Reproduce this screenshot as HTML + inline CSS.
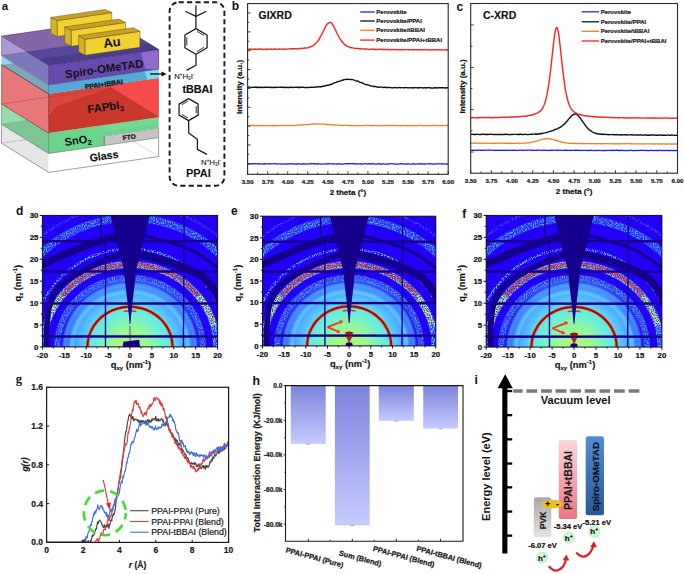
<!DOCTYPE html>
<html><head><meta charset="utf-8"><style>html,body{margin:0;padding:0;background:#fff;width:685px;height:574px;overflow:hidden}svg{display:block}</style></head>
<body><svg width="685" height="574" viewBox="0 0 685 574"><polygon points="1.50,124.30 48.60,153.50 48.60,172.40 1.50,143.20" fill="#e6e6e6" stroke="none" stroke-width="0" fill-opacity="1" />
<polygon points="48.60,153.50 158.60,137.70 158.60,156.60 48.60,172.40" fill="#ffffff" stroke="none" stroke-width="0" fill-opacity="1" />
<polyline points="1.50,143.20 48.60,172.40 158.60,156.60 158.60,137.70" fill="none" stroke="#555" stroke-width="0.55" stroke-linejoin="round" />
<polyline points="1.50,124.30 1.50,143.20" fill="none" stroke="#555" stroke-width="0.5" stroke-linejoin="round" />
<polyline points="1.50,143.20 111.50,127.40" fill="none" stroke="#8a8a8a" stroke-width="0.4" stroke-linejoin="round" />
<polyline points="111.50,127.40 158.60,156.60" fill="none" stroke="#9a9a9a" stroke-width="0.35" stroke-linejoin="round" />
<polygon points="104.15,135.82 158.60,128.00 158.60,137.70 104.15,145.52" fill="#c4c4c4" stroke="#555" stroke-width="0.45" fill-opacity="1" />
<polygon points="104.15,135.82 158.60,128.00 144.47,119.24 100.47,125.56" fill="#d4d4d4" stroke="none" stroke-width="0" fill-opacity="1" />
<polygon points="1.50,103.90 28.22,120.46 1.50,124.30" fill="#96dcac" stroke="none" stroke-width="0" fill-opacity="1" />
<polygon points="1.50,124.30 28.22,120.46 48.60,133.10 48.60,153.50" fill="#7cc696" stroke="none" stroke-width="0" fill-opacity="1" />
<polygon points="48.60,133.10 158.60,117.30 158.60,128.00 104.15,135.82 104.15,145.52 48.60,153.50" fill="#6ad48c" stroke="none" stroke-width="0" fill-opacity="1" />
<polygon points="104.15,125.12 158.60,117.30 158.60,124.00 104.15,131.82" fill="#7cdc9c" stroke="none" stroke-width="0" fill-opacity="0.6" />
<polyline points="1.50,103.90 48.60,133.10 48.60,153.50 1.50,124.30 1.50,103.90" fill="none" stroke="#3a5a44" stroke-width="0.45" stroke-linejoin="round" />
<polyline points="48.60,153.50 104.15,145.52 104.15,135.82" fill="none" stroke="#3a5a44" stroke-width="0.45" stroke-linejoin="round" />
<polyline points="1.50,124.30 111.50,108.50" fill="none" stroke="#4a8a5a" stroke-width="0.35" stroke-linejoin="round" />
<polygon points="1.50,64.70 48.60,93.90 48.60,133.10 1.50,103.90" fill="#e87878" stroke="none" stroke-width="0" fill-opacity="1" />
<polygon points="48.60,93.90 158.60,78.10 158.60,117.30 48.60,133.10" fill="#c9372d" stroke="none" stroke-width="0" fill-opacity="1" />
<polygon points="48.60,93.90 111.30,84.90 111.50,88.10 57.05,106.62 48.60,117.00" fill="#da453c" stroke="none" stroke-width="0" fill-opacity="1" />
<polygon points="111.30,84.90 158.60,78.10 158.60,117.30 111.50,88.10" fill="#f54b4b" stroke="none" stroke-width="0" fill-opacity="1" />
<polyline points="48.60,117.00 57.05,106.62 111.50,88.10 158.60,117.30" fill="none" stroke="#a8342c" stroke-width="0.35" stroke-linejoin="round" />
<polyline points="1.50,103.90 111.50,88.10" fill="none" stroke="#9a3a34" stroke-width="0.35" stroke-linejoin="round" />
<polyline points="111.50,88.10 158.60,117.30" fill="none" stroke="#a83a34" stroke-width="0.35" stroke-linejoin="round" />
<polyline points="1.50,64.70 48.60,93.90 48.60,133.10 1.50,103.90 1.50,64.70" fill="none" stroke="#4a2a2a" stroke-width="0.45" stroke-linejoin="round" />
<polygon points="1.50,55.60 13.42,62.99 1.50,64.70" fill="#8ad6e6" stroke="none" stroke-width="0" fill-opacity="1" />
<polygon points="1.50,64.70 13.42,62.99 48.60,84.80 48.60,93.90" fill="#7ea5b8" stroke="none" stroke-width="0" fill-opacity="1" />
<polygon points="48.60,84.80 158.60,69.00 158.60,78.10 48.60,93.90" fill="#58a8d6" stroke="none" stroke-width="0" fill-opacity="1" />
<polygon points="144.30,71.05 158.60,69.00 158.60,78.10 147.60,79.68" fill="#7adcf0" stroke="none" stroke-width="0" fill-opacity="1" />
<polyline points="1.50,55.60 48.60,84.80 48.60,93.90 1.50,64.70" fill="none" stroke="#2a3a4a" stroke-width="0.45" stroke-linejoin="round" />
<polygon points="1.50,36.10 27.04,51.93 1.50,55.60" fill="#ae98d4" stroke="none" stroke-width="0" fill-opacity="1" />
<polygon points="1.50,55.60 27.04,51.93 48.60,65.30 48.60,84.80" fill="#7b78bb" stroke="none" stroke-width="0" fill-opacity="1" />
<polygon points="48.60,65.30 158.60,49.50 158.60,69.00 48.60,84.80" fill="#6849ae" stroke="none" stroke-width="0" fill-opacity="1" />
<polygon points="141.00,52.03 158.60,49.50 158.60,69.00 145.40,68.90" fill="#9a72d2" stroke="none" stroke-width="0" fill-opacity="0.85" />
<polygon points="1.50,36.10 48.60,65.30 158.60,49.50 111.50,20.30" fill="#8466a8" stroke="none" stroke-width="0" fill-opacity="1" />
<polygon points="27.04,51.93 38.95,59.32 148.95,43.52 137.04,36.13" fill="#55479b" stroke="none" stroke-width="0" fill-opacity="1" />
<polygon points="38.95,59.32 48.60,65.30 158.60,49.50 148.95,43.52" fill="#4b3d8d" stroke="none" stroke-width="0" fill-opacity="1" />
<polygon points="137.04,36.13 148.95,43.52 158.60,49.50 144.60,51.50" fill="#5e4aa6" stroke="none" stroke-width="0" fill-opacity="0.0" />
<polyline points="1.50,36.10 48.60,65.30 158.60,49.50 111.50,20.30 1.50,36.10" fill="none" stroke="#2a2250" stroke-width="0.45" stroke-linejoin="round" />
<polyline points="48.60,65.30 48.60,84.80 158.60,69.00 158.60,49.50" fill="none" stroke="#2a2250" stroke-width="0.45" stroke-linejoin="round" />
<polyline points="1.50,36.10 1.50,55.60" fill="none" stroke="#3a3060" stroke-width="0.4" stroke-linejoin="round" />
<polyline points="1.50,55.60 27.04,51.93" fill="none" stroke="#3a3060" stroke-width="0.35" stroke-linejoin="round" />
<polyline points="27.04,51.93 137.04,36.13" fill="none" stroke="#3a3068" stroke-width="0.35" stroke-linejoin="round" />
<polyline points="38.95,59.32 148.95,43.52" fill="none" stroke="#3a3068" stroke-width="0.3" stroke-linejoin="round" />
<polyline points="1.50,64.70 48.60,93.90" fill="none" stroke="#2a3a4a" stroke-width="0.4" stroke-linejoin="round" />
<polygon points="50.80,17.40 57.40,20.60 57.40,36.60 50.80,33.40" fill="#d6b12a" stroke="#5a4a10" stroke-width="0.45" fill-opacity="1" />
<polygon points="57.40,20.60 111.80,12.60 111.80,28.60 57.40,36.60" fill="#f0d232" stroke="#5a4a10" stroke-width="0.45" fill-opacity="1" />
<polygon points="50.80,17.40 105.20,9.40 111.80,12.60 57.40,20.60" fill="#c9a024" stroke="#5a4a10" stroke-width="0.45" fill-opacity="1" />
<polygon points="64.70,26.90 71.30,30.30 71.30,46.30 64.70,42.90" fill="#d6b12a" stroke="#5a4a10" stroke-width="0.45" fill-opacity="1" />
<polygon points="71.30,30.30 125.50,22.50 125.50,38.50 71.30,46.30" fill="#f0d232" stroke="#5a4a10" stroke-width="0.45" fill-opacity="1" />
<polygon points="64.70,26.90 118.90,19.10 125.50,22.50 71.30,30.30" fill="#c9a024" stroke="#5a4a10" stroke-width="0.45" fill-opacity="1" />
<polygon points="78.60,35.70 85.10,39.30 85.10,55.30 78.60,51.70" fill="#d6b12a" stroke="#5a4a10" stroke-width="0.45" fill-opacity="1" />
<polygon points="85.10,39.30 139.90,31.30 139.90,47.30 85.10,55.30" fill="#f0d232" stroke="#5a4a10" stroke-width="0.45" fill-opacity="1" />
<polygon points="78.60,35.70 133.40,27.70 139.90,31.30 85.10,39.30" fill="#c9a024" stroke="#5a4a10" stroke-width="0.45" fill-opacity="1" />
<text x="112.60" y="46.80" font-family="Liberation Sans" font-size="13" font-weight="bold" font-style="normal" text-anchor="middle" fill="#111" transform="rotate(-8.17385071382385 112.6 46.8)" >Au</text>
<text x="104.80" y="72.60" font-family="Liberation Sans" font-size="11.2" font-weight="bold" font-style="normal" text-anchor="middle" fill="#111" transform="rotate(-8.17385071382385 104.8 72.6)" >Spiro-OMeTAD</text>
<text x="104.20" y="86.60" font-family="Liberation Sans" font-size="6.8" font-weight="bold" font-style="normal" text-anchor="middle" fill="#111" stroke="#111" stroke-width="0.22" transform="rotate(-8.17385071382385 104.2 86.6)" >PPAI+tBBAI</text>
<text x="106.00" y="110.80" font-family="Liberation Sans" font-size="11.3" font-weight="bold" font-style="normal" text-anchor="middle" fill="#111" transform="rotate(-8.17385071382385 106.0 110.8)" >FAPbI<tspan font-size="7.5" dy="2.6">3</tspan></text>
<text x="78.60" y="144.00" font-family="Liberation Sans" font-size="11" font-weight="bold" font-style="normal" text-anchor="middle" fill="#111" transform="rotate(-8.17385071382385 78.6 144.0)" >SnO<tspan font-size="7.5" dy="2.6">2</tspan></text>
<text x="129.60" y="139.40" font-family="Liberation Sans" font-size="6.6" font-weight="bold" font-style="normal" text-anchor="middle" fill="#111" stroke="#111" stroke-width="0.22" transform="rotate(-8.17385071382385 129.6 139.4)" >FTO</text>
<text x="104.50" y="159.60" font-family="Liberation Sans" font-size="10.6" font-weight="bold" font-style="normal" text-anchor="middle" fill="#111" stroke="#111" stroke-width="0.15" transform="rotate(-8.17385071382385 104.5 159.6)" >Glass</text>
<text x="1.80" y="9.50" font-family="Liberation Sans" font-size="11.6" font-weight="bold" font-style="normal" text-anchor="start" fill="#111" >a</text>
<line x1="150.00" y1="74.00" x2="162.50" y2="74.00" stroke="#000" stroke-width="1.2" />
<polygon points="166.50,74.00 161.50,71.60 161.50,76.40" fill="#000" stroke="none" stroke-width="0" fill-opacity="1" />
<rect x="169.6" y="2.2" width="54.8" height="183.6" rx="9" ry="9" fill="none" stroke="#1a1a1a" stroke-width="1.9" stroke-dasharray="5.2 3.2"/>
<polygon points="196.00,28.60 207.09,35.00 207.09,47.80 196.00,54.20 184.91,47.80 184.91,35.00" fill="none" stroke="#1a1a1a" stroke-width="1.25" stroke-linejoin="round"/>
<line x1="197.05" y1="31.40" x2="204.14" y2="35.49" stroke="#1a1a1a" stroke-width="0.9" />
<line x1="204.14" y1="47.31" x2="197.05" y2="51.40" stroke="#1a1a1a" stroke-width="0.9" />
<line x1="186.81" y1="45.50" x2="186.81" y2="37.30" stroke="#1a1a1a" stroke-width="0.9" />
<polyline points="185.30,11.30 195.90,16.40 206.30,11.30" fill="none" stroke="#1a1a1a" stroke-width="1.25" stroke-linejoin="round" />
<line x1="195.90" y1="5.20" x2="195.90" y2="28.60" stroke="#1a1a1a" stroke-width="1.25" />
<polyline points="196.00,54.20 196.00,65.20 186.50,70.40" fill="none" stroke="#1a1a1a" stroke-width="1.25" stroke-linejoin="round" />
<text x="174.20" y="78.50" font-family="Liberation Sans" font-size="7.8" font-weight="normal" font-style="normal" text-anchor="start" fill="#111" stroke="#111" stroke-width="0.1" >N<tspan font-size="4.5" dy="-2.6">+</tspan><tspan dy="2.6">H</tspan><tspan font-size="4.5" dy="1.6">3</tspan><tspan dy="-1.6">I</tspan><tspan font-size="4.5" dy="-2.6">-</tspan></text>
<text x="197.40" y="92.80" font-family="Liberation Sans" font-size="10.8" font-weight="bold" font-style="normal" text-anchor="middle" fill="#111" stroke="#111" stroke-width="0.15" >tBBAI</text>
<polygon points="188.60,98.60 198.13,104.10 198.13,115.10 188.60,120.60 179.07,115.10 179.07,104.10" fill="none" stroke="#1a1a1a" stroke-width="1.25" stroke-linejoin="round"/>
<line x1="196.23" y1="106.08" x2="196.23" y2="113.12" stroke="#1a1a1a" stroke-width="0.9" />
<line x1="187.84" y1="117.96" x2="181.74" y2="114.44" stroke="#1a1a1a" stroke-width="0.9" />
<line x1="181.74" y1="104.76" x2="187.84" y2="101.24" stroke="#1a1a1a" stroke-width="0.9" />
<polyline points="188.60,120.60 188.80,133.10 197.40,139.40 197.40,149.40 207.00,154.40" fill="none" stroke="#1a1a1a" stroke-width="1.25" stroke-linejoin="round" />
<text x="201.00" y="164.50" font-family="Liberation Sans" font-size="7.8" font-weight="normal" font-style="normal" text-anchor="start" fill="#111" stroke="#111" stroke-width="0.1" >N<tspan font-size="4.5" dy="-2.6">+</tspan><tspan dy="2.6">H</tspan><tspan font-size="4.5" dy="1.6">3</tspan><tspan dy="-1.6">I</tspan><tspan font-size="4.5" dy="-2.6">-</tspan></text>
<text x="198.40" y="177.40" font-family="Liberation Sans" font-size="11" font-weight="bold" font-style="normal" text-anchor="middle" fill="#111" >PPAI</text>
<polyline points="247.60,163.81 248.40,163.73 249.20,163.98 250.01,163.69 250.81,163.92 251.61,163.83 252.41,163.68 253.22,163.90 254.02,163.67 254.82,163.87 255.62,163.68 256.43,163.70 257.23,163.86 258.03,164.06 258.83,163.71 259.64,163.76 260.44,163.96 261.24,164.12 262.04,163.94 262.85,163.85 263.65,164.14 264.45,163.67 265.25,164.08 266.06,163.79 266.86,163.72 267.66,163.71 268.46,163.80 269.26,164.06 270.07,163.74 270.87,163.94 271.67,163.97 272.47,163.84 273.28,163.92 274.08,163.68 274.88,163.68 275.68,163.75 276.49,163.99 277.29,163.86 278.09,163.81 278.89,163.94 279.70,163.88 280.50,163.80 281.30,164.05 282.10,164.00 282.91,163.77 283.71,163.94 284.51,163.91 285.31,164.09 286.12,164.01 286.92,163.79 287.72,164.14 288.52,163.71 289.32,163.86 290.13,164.03 290.93,163.73 291.73,163.89 292.53,163.67 293.34,163.98 294.14,164.03 294.94,163.94 295.74,164.09 296.55,163.81 297.35,164.00 298.15,163.95 298.95,163.94 299.76,163.88 300.56,164.07 301.36,164.12 302.16,163.89 302.97,163.98 303.77,163.68 304.57,164.00 305.37,163.97 306.18,164.15 306.98,164.06 307.78,163.79 308.58,163.84 309.38,163.98 310.19,163.66 310.99,163.88 311.79,163.73 312.59,163.71 313.40,163.68 314.20,164.03 315.00,163.71 315.80,163.77 316.61,163.85 317.41,164.09 318.21,163.69 319.01,163.87 319.82,163.92 320.62,164.09 321.42,164.06 322.22,164.08 323.03,163.79 323.83,163.86 324.63,163.83 325.43,164.09 326.24,164.13 327.04,163.73 327.84,163.74 328.64,163.77 329.44,163.77 330.25,163.89 331.05,163.94 331.85,163.78 332.65,163.65 333.46,163.86 334.26,163.83 335.06,163.93 335.86,164.13 336.67,164.00 337.47,163.91 338.27,163.96 339.07,163.99 339.88,163.68 340.68,164.10 341.48,164.04 342.28,164.09 343.09,164.05 343.89,163.85 344.69,163.85 345.49,163.70 346.30,163.97 347.10,163.68 347.90,163.68 348.70,163.75 349.50,163.73 350.31,163.82 351.11,163.68 351.91,163.65 352.71,163.73 353.52,163.70 354.32,163.83 355.12,163.66 355.92,164.09 356.73,163.96 357.53,163.72 358.33,163.78 359.13,163.82 359.94,163.83 360.74,163.71 361.54,164.07 362.34,164.15 363.15,163.88 363.95,163.89 364.75,163.69 365.55,163.70 366.36,163.82 367.16,163.78 367.96,164.06 368.76,163.73 369.56,163.66 370.37,164.13 371.17,163.91 371.97,163.72 372.77,163.92 373.58,163.66 374.38,163.91 375.18,164.14 375.98,164.08 376.79,164.00 377.59,163.78 378.39,163.83 379.19,163.73 380.00,164.04 380.80,163.92 381.60,164.04 382.40,163.81 383.21,163.76 384.01,164.06 384.81,164.14 385.61,164.08 386.42,164.05 387.22,164.06 388.02,164.02 388.82,163.76 389.62,163.91 390.43,163.83 391.23,163.66 392.03,163.66 392.83,163.79 393.64,163.78 394.44,164.00 395.24,164.13 396.04,163.87 396.85,164.12 397.65,164.14 398.45,164.13 399.25,163.83 400.06,163.76 400.86,163.76 401.66,163.75 402.46,163.75 403.27,163.96 404.07,164.10 404.87,164.07 405.67,163.89 406.48,163.98 407.28,164.05 408.08,163.69 408.88,163.98 409.68,164.10 410.49,164.04 411.29,164.03 412.09,163.89 412.89,163.74 413.70,164.04 414.50,163.82 415.30,164.05 416.10,164.14 416.91,163.85 417.71,163.85 418.51,164.12 419.31,164.01 420.12,163.74 420.92,163.71 421.72,163.73 422.52,164.10 423.33,164.05 424.13,163.72 424.93,164.06 425.73,164.14 426.54,163.98 427.34,163.83 428.14,163.92 428.94,163.72 429.74,163.66 430.55,164.14 431.35,163.97 432.15,163.91 432.95,164.12 433.76,163.87 434.56,164.09 435.36,164.06 436.16,163.76 436.97,163.78 437.77,163.80 438.57,163.77 439.37,163.94 440.18,163.78 440.98,163.86 441.78,163.72 442.58,164.11 443.39,163.83 444.19,163.88 444.99,163.94 445.79,164.10 446.60,163.86 447.40,164.11 448.20,163.90" fill="none" stroke="#2020ff" stroke-width="1.3" stroke-linejoin="round" />
<polyline points="247.60,125.61 248.40,125.60 249.20,125.40 250.01,125.57 250.81,125.47 251.61,125.39 252.41,125.71 253.22,125.46 254.02,125.58 254.82,125.68 255.62,125.61 256.43,125.52 257.23,125.60 258.03,125.61 258.83,125.71 259.64,125.43 260.44,125.62 261.24,125.49 262.04,125.50 262.85,125.70 263.65,125.59 264.45,125.61 265.25,125.69 266.06,125.75 266.86,125.57 267.66,125.63 268.46,125.59 269.26,125.59 270.07,125.66 270.87,125.57 271.67,125.60 272.47,125.58 273.28,125.76 274.08,125.66 274.88,125.73 275.68,125.76 276.49,125.48 277.29,125.60 278.09,125.75 278.89,125.71 279.70,125.43 280.50,125.42 281.30,125.54 282.10,125.39 282.91,125.46 283.71,125.38 284.51,125.62 285.31,125.66 286.12,125.69 286.92,125.39 287.72,125.60 288.52,125.57 289.32,125.35 290.13,125.63 290.93,125.65 291.73,125.33 292.53,125.60 293.34,125.35 294.14,125.36 294.94,125.53 295.74,125.44 296.55,125.13 297.35,125.20 298.15,125.20 298.95,125.08 299.76,124.98 300.56,124.97 301.36,125.08 302.16,124.74 302.97,124.90 303.77,124.79 304.57,124.56 305.37,124.63 306.18,124.68 306.98,124.57 307.78,124.33 308.58,124.63 309.38,124.49 310.19,124.51 310.99,124.10 311.79,124.12 312.59,123.98 313.40,124.23 314.20,123.99 315.00,123.90 315.80,124.00 316.61,124.18 317.41,124.13 318.21,123.90 319.01,123.87 319.82,124.19 320.62,124.07 321.42,124.15 322.22,123.94 323.03,123.96 323.83,124.26 324.63,124.21 325.43,124.12 326.24,124.52 327.04,124.46 327.84,124.59 328.64,124.37 329.44,124.74 330.25,124.49 331.05,124.87 331.85,124.77 332.65,124.79 333.46,124.93 334.26,125.14 335.06,124.93 335.86,124.92 336.67,125.13 337.47,125.06 338.27,125.06 339.07,125.12 339.88,125.11 340.68,125.20 341.48,125.28 342.28,125.30 343.09,125.51 343.89,125.35 344.69,125.45 345.49,125.34 346.30,125.42 347.10,125.31 347.90,125.41 348.70,125.33 349.50,125.62 350.31,125.56 351.11,125.42 351.91,125.54 352.71,125.73 353.52,125.40 354.32,125.69 355.12,125.54 355.92,125.57 356.73,125.71 357.53,125.53 358.33,125.58 359.13,125.65 359.94,125.77 360.74,125.52 361.54,125.72 362.34,125.67 363.15,125.64 363.95,125.55 364.75,125.53 365.55,125.41 366.36,125.44 367.16,125.42 367.96,125.68 368.76,125.49 369.56,125.45 370.37,125.42 371.17,125.73 371.97,125.74 372.77,125.66 373.58,125.50 374.38,125.49 375.18,125.51 375.98,125.57 376.79,125.45 377.59,125.57 378.39,125.50 379.19,125.78 380.00,125.78 380.80,125.61 381.60,125.49 382.40,125.78 383.21,125.52 384.01,125.54 384.81,125.39 385.61,125.55 386.42,125.58 387.22,125.59 388.02,125.47 388.82,125.60 389.62,125.40 390.43,125.50 391.23,125.43 392.03,125.55 392.83,125.41 393.64,125.40 394.44,125.52 395.24,125.49 396.04,125.63 396.85,125.61 397.65,125.70 398.45,125.66 399.25,125.68 400.06,125.75 400.86,125.55 401.66,125.53 402.46,125.79 403.27,125.46 404.07,125.69 404.87,125.65 405.67,125.41 406.48,125.73 407.28,125.75 408.08,125.65 408.88,125.69 409.68,125.72 410.49,125.45 411.29,125.61 412.09,125.60 412.89,125.73 413.70,125.72 414.50,125.73 415.30,125.63 416.10,125.75 416.91,125.67 417.71,125.67 418.51,125.49 419.31,125.41 420.12,125.45 420.92,125.54 421.72,125.44 422.52,125.73 423.33,125.62 424.13,125.65 424.93,125.65 425.73,125.67 426.54,125.59 427.34,125.40 428.14,125.72 428.94,125.70 429.74,125.60 430.55,125.61 431.35,125.66 432.15,125.42 432.95,125.69 433.76,125.50 434.56,125.43 435.36,125.50 436.16,125.69 436.97,125.48 437.77,125.69 438.57,125.79 439.37,125.60 440.18,125.55 440.98,125.59 441.78,125.67 442.58,125.70 443.39,125.64 444.19,125.66 444.99,125.43 445.79,125.46 446.60,125.50 447.40,125.70 448.20,125.52" fill="none" stroke="#f08020" stroke-width="1.3" stroke-linejoin="round" />
<polyline points="247.60,87.32 248.40,87.04 249.20,87.07 250.01,87.17 250.81,87.38 251.61,87.39 252.41,87.38 253.22,87.19 254.02,87.31 254.82,87.28 255.62,87.29 256.43,87.11 257.23,87.50 258.03,87.16 258.83,87.55 259.64,87.53 260.44,87.07 261.24,87.30 262.04,87.48 262.85,87.56 263.65,87.30 264.45,87.21 265.25,87.18 266.06,87.55 266.86,87.19 267.66,87.37 268.46,87.16 269.26,87.35 270.07,87.56 270.87,87.16 271.67,87.50 272.47,87.35 273.28,87.54 274.08,87.45 274.88,87.21 275.68,87.55 276.49,87.35 277.29,87.12 278.09,87.11 278.89,87.35 279.70,87.33 280.50,87.26 281.30,87.18 282.10,87.29 282.91,87.27 283.71,87.54 284.51,87.12 285.31,87.49 286.12,87.54 286.92,87.18 287.72,87.59 288.52,87.48 289.32,87.58 290.13,87.27 290.93,87.31 291.73,87.32 292.53,87.63 293.34,87.42 294.14,87.31 294.94,87.34 295.74,87.27 296.55,87.16 297.35,87.18 298.15,87.55 298.95,87.27 299.76,87.60 300.56,87.25 301.36,87.26 302.16,87.38 302.97,87.22 303.77,87.31 304.57,87.59 305.37,87.55 306.18,87.51 306.98,87.41 307.78,87.54 308.58,87.55 309.38,87.34 310.19,87.41 310.99,87.05 311.79,87.37 312.59,87.21 313.40,87.33 314.20,87.24 315.00,87.02 315.80,86.86 316.61,87.24 317.41,86.79 318.21,86.89 319.01,86.75 319.82,86.65 320.62,86.77 321.42,86.78 322.22,86.31 323.03,86.38 323.83,86.06 324.63,86.03 325.43,85.78 326.24,85.49 327.04,85.29 327.84,85.10 328.64,85.23 329.44,84.79 330.25,84.40 331.05,84.48 331.85,84.25 332.65,83.69 333.46,83.24 334.26,82.97 335.06,82.61 335.86,82.43 336.67,82.00 337.47,81.77 338.27,81.47 339.07,81.33 339.88,81.21 340.68,80.86 341.48,80.44 342.28,80.20 343.09,80.04 343.89,79.77 344.69,79.59 345.49,79.31 346.30,79.31 347.10,79.58 347.90,79.12 348.70,79.31 349.50,79.40 350.31,79.58 351.11,79.35 351.91,79.50 352.71,79.65 353.52,79.91 354.32,80.14 355.12,80.63 355.92,80.83 356.73,81.11 357.53,80.97 358.33,81.27 359.13,81.91 359.94,82.32 360.74,82.42 361.54,82.79 362.34,82.81 363.15,83.31 363.95,83.88 364.75,84.12 365.55,84.42 366.36,84.75 367.16,84.65 367.96,84.83 368.76,85.09 369.56,85.49 370.37,85.78 371.17,86.10 371.97,86.17 372.77,86.30 373.58,86.52 374.38,86.50 375.18,86.68 375.98,86.54 376.79,87.01 377.59,86.83 378.39,87.26 379.19,87.20 380.00,87.09 380.80,87.07 381.60,87.18 382.40,87.42 383.21,87.49 384.01,87.24 384.81,87.25 385.61,87.50 386.42,87.56 387.22,87.48 388.02,87.42 388.82,87.62 389.62,87.34 390.43,87.50 391.23,87.59 392.03,87.85 392.83,87.71 393.64,87.83 394.44,87.64 395.24,87.52 396.04,87.54 396.85,87.90 397.65,87.78 398.45,87.58 399.25,87.45 400.06,87.69 400.86,87.78 401.66,87.66 402.46,87.58 403.27,87.79 404.07,87.93 404.87,87.58 405.67,87.49 406.48,87.64 407.28,87.69 408.08,87.82 408.88,87.58 409.68,87.89 410.49,87.86 411.29,87.75 412.09,87.60 412.89,87.99 413.70,87.66 414.50,87.92 415.30,87.63 416.10,87.63 416.91,87.90 417.71,87.67 418.51,88.00 419.31,87.78 420.12,87.63 420.92,87.65 421.72,87.75 422.52,87.87 423.33,88.02 424.13,87.62 424.93,87.75 425.73,87.66 426.54,88.04 427.34,87.63 428.14,87.59 428.94,87.60 429.74,87.77 430.55,88.02 431.35,88.02 432.15,87.94 432.95,88.08 433.76,88.05 434.56,87.75 435.36,87.68 436.16,88.06 436.97,87.97 437.77,87.61 438.57,87.93 439.37,87.79 440.18,87.79 440.98,87.77 441.78,87.70 442.58,87.62 443.39,87.76 444.19,87.80 444.99,88.10 445.79,87.69 446.60,88.11 447.40,87.73 448.20,87.81" fill="none" stroke="#111111" stroke-width="1.4" stroke-linejoin="round" />
<polyline points="247.60,49.42 248.40,49.42 249.20,49.23 250.01,49.03 250.81,49.25 251.61,49.19 252.41,49.47 253.22,49.10 254.02,49.19 254.82,49.45 255.62,49.02 256.43,49.21 257.23,49.41 258.03,49.38 258.83,49.02 259.64,49.01 260.44,49.02 261.24,49.45 262.04,49.12 262.85,49.36 263.65,49.43 264.45,49.15 265.25,49.11 266.06,49.45 266.86,49.28 267.66,49.10 268.46,49.32 269.26,49.12 270.07,49.09 270.87,48.95 271.67,49.32 272.47,49.40 273.28,49.25 274.08,49.40 274.88,48.94 275.68,49.03 276.49,49.15 277.29,49.38 278.09,49.37 278.89,49.08 279.70,49.00 280.50,49.08 281.30,49.10 282.10,49.31 282.91,48.93 283.71,49.23 284.51,49.18 285.31,49.21 286.12,49.17 286.92,49.07 287.72,48.92 288.52,48.90 289.32,48.90 290.13,49.09 290.93,48.72 291.73,48.75 292.53,49.01 293.34,48.73 294.14,48.61 294.94,48.57 295.74,48.80 296.55,48.65 297.35,48.94 298.15,48.85 298.95,48.86 299.76,48.46 300.56,48.32 301.36,48.27 302.16,48.41 302.97,48.45 303.77,48.24 304.57,48.04 305.37,48.04 306.18,48.02 306.98,47.92 307.78,47.80 308.58,47.66 309.38,47.35 310.19,46.82 310.99,46.88 311.79,46.25 312.59,45.96 313.40,45.37 314.20,44.98 315.00,44.04 315.80,43.30 316.61,42.42 317.41,41.39 318.21,40.65 319.01,39.29 319.82,37.83 320.62,36.44 321.42,35.22 322.22,33.39 323.03,31.62 323.83,30.25 324.63,28.55 325.43,27.18 326.24,25.32 327.04,24.28 327.84,23.48 328.64,22.84 329.44,22.57 330.25,22.21 331.05,22.77 331.85,23.47 332.65,24.57 333.46,26.27 334.26,27.55 335.06,29.31 335.86,30.67 336.67,32.57 337.47,33.99 338.27,35.47 339.07,37.22 339.88,38.70 340.68,39.57 341.48,40.99 342.28,42.07 343.09,42.82 343.89,43.73 344.69,44.35 345.49,45.02 346.30,45.60 347.10,46.25 347.90,46.67 348.70,46.79 349.50,46.99 350.31,47.39 351.11,47.78 351.91,47.71 352.71,47.92 353.52,48.00 354.32,48.41 355.12,48.39 355.92,48.23 356.73,48.33 357.53,48.55 358.33,48.69 359.13,48.79 359.94,48.57 360.74,48.65 361.54,48.97 362.34,48.87 363.15,48.84 363.95,48.89 364.75,49.25 365.55,48.96 366.36,49.12 367.16,49.04 367.96,49.10 368.76,49.35 369.56,49.44 370.37,49.15 371.17,49.09 371.97,49.38 372.77,49.14 373.58,49.06 374.38,49.52 375.18,49.30 375.98,49.52 376.79,49.33 377.59,49.58 378.39,49.38 379.19,49.25 380.00,49.19 380.80,49.47 381.60,49.53 382.40,49.68 383.21,49.28 384.01,49.56 384.81,49.44 385.61,49.52 386.42,49.35 387.22,49.43 388.02,49.56 388.82,49.77 389.62,49.37 390.43,49.57 391.23,49.74 392.03,49.83 392.83,49.45 393.64,49.42 394.44,49.84 395.24,49.86 396.04,49.62 396.85,49.42 397.65,49.86 398.45,49.60 399.25,49.86 400.06,49.73 400.86,49.84 401.66,49.51 402.46,49.83 403.27,49.55 404.07,49.65 404.87,49.88 405.67,49.88 406.48,49.56 407.28,49.58 408.08,49.68 408.88,49.74 409.68,49.68 410.49,49.56 411.29,49.62 412.09,49.87 412.89,49.96 413.70,49.54 414.50,49.80 415.30,49.90 416.10,49.55 416.91,49.95 417.71,49.60 418.51,49.84 419.31,49.82 420.12,49.87 420.92,49.71 421.72,49.77 422.52,49.86 423.33,49.78 424.13,49.90 424.93,49.80 425.73,49.80 426.54,49.60 427.34,49.90 428.14,49.84 428.94,49.72 429.74,49.98 430.55,50.00 431.35,49.84 432.15,49.70 432.95,49.85 433.76,49.67 434.56,49.69 435.36,49.84 436.16,49.68 436.97,49.86 437.77,49.89 438.57,49.66 439.37,49.96 440.18,49.69 440.98,50.02 441.78,50.05 442.58,49.92 443.39,49.69 444.19,49.92 444.99,49.86 445.79,50.15 446.60,49.75 447.40,50.11 448.20,50.18" fill="none" stroke="#ff2020" stroke-width="1.4" stroke-linejoin="round" />
<rect x="247.6" y="3.6" width="200.6" height="170.70000000000002" fill="none" stroke="#2a2a2a" stroke-width="1.1"/>
<line x1="247.60" y1="174.30" x2="247.60" y2="171.30" stroke="#2a2a2a" stroke-width="0.9" />
<line x1="257.63" y1="174.30" x2="257.63" y2="172.60" stroke="#2a2a2a" stroke-width="0.9" />
<text x="247.60" y="183.60" font-family="Liberation Sans" font-size="6.1" font-weight="bold" font-style="normal" text-anchor="middle" fill="#222" stroke="#222" stroke-width="0.22" >3.50</text>
<line x1="267.66" y1="174.30" x2="267.66" y2="171.30" stroke="#2a2a2a" stroke-width="0.9" />
<line x1="277.69" y1="174.30" x2="277.69" y2="172.60" stroke="#2a2a2a" stroke-width="0.9" />
<text x="267.66" y="183.60" font-family="Liberation Sans" font-size="6.1" font-weight="bold" font-style="normal" text-anchor="middle" fill="#222" stroke="#222" stroke-width="0.22" >3.75</text>
<line x1="287.72" y1="174.30" x2="287.72" y2="171.30" stroke="#2a2a2a" stroke-width="0.9" />
<line x1="297.75" y1="174.30" x2="297.75" y2="172.60" stroke="#2a2a2a" stroke-width="0.9" />
<text x="287.72" y="183.60" font-family="Liberation Sans" font-size="6.1" font-weight="bold" font-style="normal" text-anchor="middle" fill="#222" stroke="#222" stroke-width="0.22" >4.00</text>
<line x1="307.78" y1="174.30" x2="307.78" y2="171.30" stroke="#2a2a2a" stroke-width="0.9" />
<line x1="317.81" y1="174.30" x2="317.81" y2="172.60" stroke="#2a2a2a" stroke-width="0.9" />
<text x="307.78" y="183.60" font-family="Liberation Sans" font-size="6.1" font-weight="bold" font-style="normal" text-anchor="middle" fill="#222" stroke="#222" stroke-width="0.22" >4.25</text>
<line x1="327.84" y1="174.30" x2="327.84" y2="171.30" stroke="#2a2a2a" stroke-width="0.9" />
<line x1="337.87" y1="174.30" x2="337.87" y2="172.60" stroke="#2a2a2a" stroke-width="0.9" />
<text x="327.84" y="183.60" font-family="Liberation Sans" font-size="6.1" font-weight="bold" font-style="normal" text-anchor="middle" fill="#222" stroke="#222" stroke-width="0.22" >4.50</text>
<line x1="347.90" y1="174.30" x2="347.90" y2="171.30" stroke="#2a2a2a" stroke-width="0.9" />
<line x1="357.93" y1="174.30" x2="357.93" y2="172.60" stroke="#2a2a2a" stroke-width="0.9" />
<text x="347.90" y="183.60" font-family="Liberation Sans" font-size="6.1" font-weight="bold" font-style="normal" text-anchor="middle" fill="#222" stroke="#222" stroke-width="0.22" >4.75</text>
<line x1="367.96" y1="174.30" x2="367.96" y2="171.30" stroke="#2a2a2a" stroke-width="0.9" />
<line x1="377.99" y1="174.30" x2="377.99" y2="172.60" stroke="#2a2a2a" stroke-width="0.9" />
<text x="367.96" y="183.60" font-family="Liberation Sans" font-size="6.1" font-weight="bold" font-style="normal" text-anchor="middle" fill="#222" stroke="#222" stroke-width="0.22" >5.00</text>
<line x1="388.02" y1="174.30" x2="388.02" y2="171.30" stroke="#2a2a2a" stroke-width="0.9" />
<line x1="398.05" y1="174.30" x2="398.05" y2="172.60" stroke="#2a2a2a" stroke-width="0.9" />
<text x="388.02" y="183.60" font-family="Liberation Sans" font-size="6.1" font-weight="bold" font-style="normal" text-anchor="middle" fill="#222" stroke="#222" stroke-width="0.22" >5.25</text>
<line x1="408.08" y1="174.30" x2="408.08" y2="171.30" stroke="#2a2a2a" stroke-width="0.9" />
<line x1="418.11" y1="174.30" x2="418.11" y2="172.60" stroke="#2a2a2a" stroke-width="0.9" />
<text x="408.08" y="183.60" font-family="Liberation Sans" font-size="6.1" font-weight="bold" font-style="normal" text-anchor="middle" fill="#222" stroke="#222" stroke-width="0.22" >5.50</text>
<line x1="428.14" y1="174.30" x2="428.14" y2="171.30" stroke="#2a2a2a" stroke-width="0.9" />
<line x1="438.17" y1="174.30" x2="438.17" y2="172.60" stroke="#2a2a2a" stroke-width="0.9" />
<text x="428.14" y="183.60" font-family="Liberation Sans" font-size="6.1" font-weight="bold" font-style="normal" text-anchor="middle" fill="#222" stroke="#222" stroke-width="0.22" >5.75</text>
<line x1="448.20" y1="174.30" x2="448.20" y2="171.30" stroke="#2a2a2a" stroke-width="0.9" />
<text x="448.20" y="183.60" font-family="Liberation Sans" font-size="6.1" font-weight="bold" font-style="normal" text-anchor="middle" fill="#222" stroke="#222" stroke-width="0.22" >6.00</text>
<line x1="247.60" y1="13.00" x2="250.60" y2="13.00" stroke="#2a2a2a" stroke-width="0.9" />
<line x1="247.60" y1="31.85" x2="250.60" y2="31.85" stroke="#2a2a2a" stroke-width="0.9" />
<line x1="247.60" y1="50.70" x2="250.60" y2="50.70" stroke="#2a2a2a" stroke-width="0.9" />
<line x1="247.60" y1="69.55" x2="250.60" y2="69.55" stroke="#2a2a2a" stroke-width="0.9" />
<line x1="247.60" y1="88.40" x2="250.60" y2="88.40" stroke="#2a2a2a" stroke-width="0.9" />
<line x1="247.60" y1="107.25" x2="250.60" y2="107.25" stroke="#2a2a2a" stroke-width="0.9" />
<line x1="247.60" y1="126.10" x2="250.60" y2="126.10" stroke="#2a2a2a" stroke-width="0.9" />
<line x1="247.60" y1="144.95" x2="250.60" y2="144.95" stroke="#2a2a2a" stroke-width="0.9" />
<line x1="247.60" y1="163.80" x2="250.60" y2="163.80" stroke="#2a2a2a" stroke-width="0.9" />
<line x1="247.60" y1="22.40" x2="249.30" y2="22.40" stroke="#2a2a2a" stroke-width="0.9" />
<line x1="247.60" y1="41.25" x2="249.30" y2="41.25" stroke="#2a2a2a" stroke-width="0.9" />
<line x1="247.60" y1="60.10" x2="249.30" y2="60.10" stroke="#2a2a2a" stroke-width="0.9" />
<line x1="247.60" y1="78.95" x2="249.30" y2="78.95" stroke="#2a2a2a" stroke-width="0.9" />
<line x1="247.60" y1="97.80" x2="249.30" y2="97.80" stroke="#2a2a2a" stroke-width="0.9" />
<line x1="247.60" y1="116.65" x2="249.30" y2="116.65" stroke="#2a2a2a" stroke-width="0.9" />
<line x1="247.60" y1="135.50" x2="249.30" y2="135.50" stroke="#2a2a2a" stroke-width="0.9" />
<line x1="247.60" y1="154.35" x2="249.30" y2="154.35" stroke="#2a2a2a" stroke-width="0.9" />
<text x="347.90" y="194.80" font-family="Liberation Sans" font-size="8" font-weight="bold" font-style="normal" text-anchor="middle" fill="#111" stroke="#111" stroke-width="0.22" >2 theta (°)</text>
<text x="241.60" y="86.95" font-family="Liberation Sans" font-size="8" font-weight="bold" font-style="normal" text-anchor="middle" fill="#111" stroke="#111" stroke-width="0.22" transform="rotate(-90 241.6 86.95)" >Intensity (a.u.)</text>
<text x="231.80" y="9.60" font-family="Liberation Sans" font-size="12" font-weight="bold" font-style="normal" text-anchor="start" fill="#111" >b</text>
<text x="258.50" y="19.20" font-family="Liberation Sans" font-size="10.5" font-weight="bold" font-style="normal" text-anchor="start" fill="#111" stroke="#111" stroke-width="0.15" >GIXRD</text>
<line x1="360.20" y1="12.00" x2="374.70" y2="12.00" stroke="#2020ff" stroke-width="1.3" />
<text x="376.30" y="14.10" font-family="Liberation Sans" font-size="6" font-weight="bold" font-style="normal" text-anchor="start" fill="#222" stroke="#222" stroke-width="0.22" >Perovskite</text>
<line x1="360.20" y1="21.00" x2="374.70" y2="21.00" stroke="#111111" stroke-width="1.3" />
<text x="376.30" y="23.10" font-family="Liberation Sans" font-size="6" font-weight="bold" font-style="normal" text-anchor="start" fill="#222" stroke="#222" stroke-width="0.22" >Perovskite/PPAI</text>
<line x1="360.20" y1="30.30" x2="374.70" y2="30.30" stroke="#f08020" stroke-width="1.3" />
<text x="376.30" y="32.40" font-family="Liberation Sans" font-size="6" font-weight="bold" font-style="normal" text-anchor="start" fill="#222" stroke="#222" stroke-width="0.22" >Perovskite/tBBAI</text>
<line x1="360.20" y1="40.10" x2="374.70" y2="40.10" stroke="#ff2020" stroke-width="1.3" />
<text x="376.30" y="42.20" font-family="Liberation Sans" font-size="6" font-weight="bold" font-style="normal" text-anchor="start" fill="#222" stroke="#222" stroke-width="0.22" >Perovskite/PPAI+tBBAI</text>
<polyline points="470.70,150.29 471.50,150.33 472.30,150.08 473.10,150.40 473.91,150.20 474.71,150.39 475.51,150.37 476.31,150.07 477.11,150.32 477.91,150.38 478.72,150.04 479.52,150.15 480.32,150.32 481.12,150.08 481.92,150.37 482.72,150.13 483.52,150.34 484.33,150.08 485.13,150.22 485.93,150.39 486.73,150.11 487.53,150.13 488.33,150.23 489.14,150.15 489.94,150.04 490.74,150.10 491.54,150.09 492.34,150.41 493.14,150.30 493.94,150.39 494.75,150.10 495.55,150.35 496.35,150.08 497.15,150.25 497.95,150.29 498.75,150.18 499.56,150.39 500.36,150.27 501.16,150.28 501.96,150.40 502.76,150.09 503.56,150.44 504.37,150.30 505.17,150.21 505.97,150.37 506.77,150.16 507.57,150.45 508.37,150.29 509.17,150.20 509.98,150.36 510.78,150.23 511.58,150.13 512.38,150.36 513.18,150.08 513.98,150.39 514.79,150.17 515.59,150.32 516.39,150.46 517.19,150.30 517.99,150.33 518.79,150.19 519.59,150.07 520.40,150.09 521.20,150.13 522.00,150.32 522.80,150.25 523.60,150.28 524.40,150.44 525.21,150.13 526.01,150.17 526.81,150.34 527.61,150.09 528.41,150.08 529.21,150.23 530.01,150.13 530.82,150.23 531.62,150.18 532.42,150.32 533.22,150.33 534.02,150.17 534.82,150.34 535.63,150.28 536.43,150.15 537.23,150.47 538.03,150.20 538.83,150.16 539.63,150.14 540.43,150.36 541.24,150.45 542.04,150.42 542.84,150.27 543.64,150.21 544.44,150.11 545.24,150.37 546.05,150.33 546.85,150.25 547.65,150.37 548.45,150.29 549.25,150.49 550.05,150.41 550.86,150.22 551.66,150.48 552.46,150.14 553.26,150.33 554.06,150.28 554.86,150.22 555.66,150.15 556.47,150.44 557.27,150.13 558.07,150.35 558.87,150.50 559.67,150.19 560.47,150.21 561.28,150.37 562.08,150.34 562.88,150.39 563.68,150.46 564.48,150.21 565.28,150.26 566.08,150.26 566.89,150.16 567.69,150.50 568.49,150.45 569.29,150.43 570.09,150.15 570.89,150.48 571.70,150.44 572.50,150.33 573.30,150.45 574.10,150.33 574.90,150.24 575.70,150.19 576.50,150.25 577.31,150.17 578.11,150.29 578.91,150.46 579.71,150.44 580.51,150.50 581.31,150.44 582.12,150.27 582.92,150.38 583.72,150.34 584.52,150.48 585.32,150.38 586.12,150.27 586.92,150.43 587.73,150.56 588.53,150.26 589.33,150.52 590.13,150.18 590.93,150.28 591.73,150.27 592.54,150.47 593.34,150.56 594.14,150.48 594.94,150.31 595.74,150.53 596.54,150.31 597.34,150.28 598.15,150.55 598.95,150.44 599.75,150.46 600.55,150.45 601.35,150.58 602.15,150.38 602.96,150.53 603.76,150.47 604.56,150.54 605.36,150.37 606.16,150.49 606.96,150.43 607.77,150.32 608.57,150.28 609.37,150.45 610.17,150.23 610.97,150.57 611.77,150.26 612.57,150.22 613.38,150.25 614.18,150.58 614.98,150.35 615.78,150.27 616.58,150.22 617.38,150.23 618.19,150.49 618.99,150.47 619.79,150.49 620.59,150.51 621.39,150.24 622.19,150.46 622.99,150.37 623.80,150.55 624.60,150.55 625.40,150.58 626.20,150.25 627.00,150.57 627.80,150.59 628.61,150.61 629.41,150.27 630.21,150.31 631.01,150.28 631.81,150.25 632.61,150.57 633.41,150.56 634.22,150.49 635.02,150.57 635.82,150.49 636.62,150.36 637.42,150.28 638.22,150.28 639.03,150.55 639.83,150.33 640.63,150.37 641.43,150.42 642.23,150.26 643.03,150.35 643.83,150.36 644.64,150.54 645.44,150.40 646.24,150.38 647.04,150.64 647.84,150.46 648.64,150.60 649.45,150.51 650.25,150.27 651.05,150.43 651.85,150.44 652.65,150.57 653.45,150.40 654.26,150.55 655.06,150.48 655.86,150.35 656.66,150.61 657.46,150.31 658.26,150.60 659.06,150.34 659.87,150.27 660.67,150.36 661.47,150.58 662.27,150.67 663.07,150.28 663.87,150.48 664.68,150.48 665.48,150.60 666.28,150.36 667.08,150.48 667.88,150.42 668.68,150.62 669.48,150.39 670.29,150.67 671.09,150.40 671.89,150.38 672.69,150.57 673.49,150.49 674.29,150.34 675.10,150.55 675.90,150.33 676.70,150.61 677.50,150.58" fill="none" stroke="#2020ff" stroke-width="1.3" stroke-linejoin="round" />
<polyline points="470.70,143.28 471.50,143.23 472.30,143.15 473.10,143.17 473.91,143.17 474.71,143.32 475.51,143.08 476.31,143.33 477.11,143.07 477.91,143.13 478.72,143.15 479.52,143.34 480.32,143.22 481.12,143.19 481.92,143.35 482.72,143.15 483.52,143.22 484.33,143.25 485.13,143.32 485.93,143.32 486.73,143.29 487.53,143.20 488.33,143.20 489.14,143.15 489.94,143.36 490.74,143.31 491.54,143.34 492.34,143.17 493.14,143.25 493.94,143.35 494.75,143.30 495.55,143.16 496.35,143.27 497.15,143.40 497.95,143.20 498.75,143.19 499.56,143.23 500.36,143.35 501.16,143.40 501.96,143.19 502.76,143.19 503.56,143.22 504.37,143.25 505.17,143.31 505.97,143.20 506.77,143.25 507.57,143.21 508.37,143.45 509.17,143.38 509.98,143.19 510.78,143.45 511.58,143.19 512.38,143.28 513.18,143.46 513.98,143.40 514.79,143.38 515.59,143.29 516.39,143.21 517.19,143.34 517.99,143.18 518.79,143.20 519.59,143.24 520.40,143.12 521.20,143.21 522.00,143.30 522.80,143.24 523.60,143.15 524.40,143.15 525.21,143.05 526.01,142.89 526.81,142.96 527.61,142.82 528.41,142.83 529.21,142.77 530.01,142.51 530.82,142.41 531.62,142.32 532.42,142.05 533.22,141.81 534.02,141.77 534.82,141.61 535.63,141.36 536.43,141.11 537.23,140.92 538.03,140.62 538.83,140.37 539.63,140.07 540.43,139.80 541.24,139.67 542.04,139.30 542.84,139.21 543.64,139.15 544.44,138.99 545.24,138.86 546.05,138.67 546.85,138.68 547.65,138.69 548.45,138.77 549.25,138.77 550.05,138.96 550.86,139.17 551.66,139.11 552.46,139.44 553.26,139.68 554.06,139.79 554.86,140.05 555.66,140.44 556.47,140.41 557.27,140.81 558.07,140.94 558.87,141.36 559.67,141.64 560.47,141.73 561.28,141.81 562.08,142.15 562.88,142.31 563.68,142.53 564.48,142.61 565.28,142.78 566.08,142.96 566.89,142.97 567.69,143.03 568.49,143.27 569.29,143.12 570.09,143.32 570.89,143.29 571.70,143.44 572.50,143.29 573.30,143.58 574.10,143.41 574.90,143.35 575.70,143.43 576.50,143.49 577.31,143.38 578.11,143.52 578.91,143.53 579.71,143.62 580.51,143.52 581.31,143.51 582.12,143.50 582.92,143.66 583.72,143.73 584.52,143.61 585.32,143.52 586.12,143.70 586.92,143.58 587.73,143.53 588.53,143.51 589.33,143.71 590.13,143.72 590.93,143.68 591.73,143.63 592.54,143.66 593.34,143.57 594.14,143.79 594.94,143.61 595.74,143.70 596.54,143.76 597.34,143.76 598.15,143.66 598.95,143.61 599.75,143.69 600.55,143.57 601.35,143.79 602.15,143.65 602.96,143.80 603.76,143.63 604.56,143.66 605.36,143.63 606.16,143.69 606.96,143.62 607.77,143.57 608.57,143.78 609.37,143.66 610.17,143.65 610.97,143.67 611.77,143.73 612.57,143.71 613.38,143.78 614.18,143.79 614.98,143.70 615.78,143.88 616.58,143.86 617.38,143.62 618.19,143.86 618.99,143.88 619.79,143.85 620.59,143.66 621.39,143.87 622.19,143.82 622.99,143.63 623.80,143.64 624.60,143.92 625.40,143.84 626.20,143.72 627.00,143.68 627.80,143.69 628.61,143.72 629.41,143.89 630.21,143.76 631.01,143.71 631.81,143.94 632.61,143.91 633.41,143.72 634.22,143.94 635.02,143.86 635.82,143.92 636.62,143.88 637.42,143.96 638.22,143.93 639.03,143.95 639.83,143.76 640.63,143.91 641.43,143.86 642.23,143.93 643.03,143.84 643.83,143.98 644.64,143.88 645.44,143.80 646.24,143.79 647.04,143.77 647.84,143.88 648.64,143.75 649.45,143.88 650.25,143.78 651.05,143.89 651.85,143.89 652.65,143.91 653.45,144.01 654.26,143.76 655.06,144.01 655.86,143.90 656.66,143.93 657.46,143.97 658.26,144.02 659.06,143.89 659.87,143.90 660.67,144.07 661.47,143.81 662.27,143.98 663.07,143.98 663.87,143.80 664.68,143.98 665.48,144.00 666.28,144.08 667.08,143.90 667.88,144.10 668.68,143.96 669.48,143.96 670.29,144.09 671.09,143.83 671.89,144.04 672.69,144.01 673.49,143.93 674.29,144.09 675.10,143.95 675.90,143.98 676.70,144.00 677.50,144.08" fill="none" stroke="#f08020" stroke-width="1.3" stroke-linejoin="round" />
<polyline points="470.70,134.23 471.50,134.33 472.30,134.32 473.10,134.38 473.91,134.49 474.71,134.28 475.51,134.50 476.31,134.33 477.11,134.37 477.91,134.28 478.72,134.38 479.52,134.57 480.32,134.44 481.12,134.50 481.92,134.32 482.72,134.32 483.52,134.31 484.33,134.43 485.13,134.45 485.93,134.51 486.73,134.22 487.53,134.49 488.33,134.56 489.14,134.42 489.94,134.23 490.74,134.33 491.54,134.21 492.34,134.29 493.14,134.59 493.94,134.46 494.75,134.48 495.55,134.54 496.35,134.59 497.15,134.47 497.95,134.47 498.75,134.48 499.56,134.51 500.36,134.47 501.16,134.51 501.96,134.32 502.76,134.50 503.56,134.42 504.37,134.54 505.17,134.28 505.97,134.31 506.77,134.26 507.57,134.55 508.37,134.61 509.17,134.51 509.98,134.39 510.78,134.57 511.58,134.56 512.38,134.47 513.18,134.35 513.98,134.36 514.79,134.41 515.59,134.37 516.39,134.42 517.19,134.50 517.99,134.61 518.79,134.26 519.59,134.47 520.40,134.25 521.20,134.28 522.00,134.56 522.80,134.46 523.60,134.60 524.40,134.40 525.21,134.23 526.01,134.37 526.81,134.45 527.61,134.58 528.41,134.59 529.21,134.38 530.01,134.34 530.82,134.20 531.62,134.40 532.42,134.21 533.22,134.16 534.02,134.08 534.82,134.04 535.63,134.27 536.43,134.00 537.23,134.28 538.03,133.86 538.83,134.10 539.63,133.71 540.43,133.56 541.24,133.72 542.04,133.40 542.84,133.45 543.64,133.06 544.44,132.83 545.24,132.92 546.05,132.68 546.85,132.51 547.65,132.23 548.45,131.72 549.25,131.68 550.05,131.45 550.86,131.09 551.66,131.00 552.46,130.46 553.26,130.46 554.06,130.08 554.86,129.51 555.66,129.21 556.47,129.15 557.27,128.89 558.07,128.24 558.87,127.95 559.67,127.69 560.47,127.00 561.28,126.75 562.08,126.02 562.88,125.21 563.68,124.63 564.48,123.95 565.28,123.06 566.08,122.27 566.89,121.12 567.69,120.41 568.49,119.26 569.29,118.39 570.09,117.44 570.89,116.46 571.70,115.65 572.50,115.13 573.30,114.67 574.10,114.26 574.90,114.03 575.70,113.99 576.50,114.19 577.31,115.05 578.11,115.63 578.91,116.52 579.71,117.29 580.51,118.47 581.31,119.75 582.12,120.87 582.92,121.96 583.72,123.02 584.52,124.21 585.32,125.49 586.12,126.33 586.92,127.43 587.73,128.29 588.53,129.23 589.33,129.94 590.13,130.39 590.93,130.87 591.73,131.49 592.54,132.00 593.34,132.45 594.14,132.88 594.94,133.19 595.74,133.09 596.54,133.61 597.34,133.77 598.15,133.93 598.95,133.94 599.75,133.92 600.55,134.24 601.35,134.29 602.15,134.30 602.96,134.45 603.76,134.27 604.56,134.21 605.36,134.43 606.16,134.57 606.96,134.36 607.77,134.61 608.57,134.71 609.37,134.45 610.17,134.62 610.97,134.67 611.77,134.61 612.57,134.52 613.38,134.56 614.18,134.78 614.98,134.81 615.78,134.69 616.58,134.56 617.38,134.86 618.19,134.86 618.99,134.66 619.79,134.81 620.59,134.95 621.39,134.96 622.19,134.82 622.99,134.82 623.80,134.87 624.60,134.72 625.40,134.74 626.20,134.74 627.00,134.96 627.80,134.83 628.61,134.92 629.41,134.87 630.21,134.92 631.01,134.78 631.81,134.75 632.61,135.14 633.41,134.90 634.22,134.80 635.02,135.02 635.82,135.08 636.62,134.84 637.42,135.02 638.22,134.93 639.03,135.01 639.83,134.81 640.63,134.82 641.43,135.21 642.23,135.17 643.03,135.03 643.83,135.06 644.64,134.95 645.44,135.16 646.24,135.03 647.04,135.24 647.84,135.17 648.64,135.20 649.45,135.26 650.25,134.98 651.05,134.90 651.85,134.97 652.65,134.97 653.45,134.94 654.26,134.93 655.06,135.14 655.86,135.27 656.66,135.11 657.46,135.31 658.26,135.30 659.06,134.97 659.87,135.19 660.67,135.11 661.47,135.00 662.27,135.34 663.07,135.07 663.87,135.20 664.68,135.23 665.48,135.36 666.28,135.25 667.08,135.15 667.88,135.17 668.68,135.06 669.48,135.39 670.29,135.40 671.09,135.10 671.89,135.03 672.69,135.12 673.49,135.17 674.29,135.39 675.10,135.40 675.90,135.37 676.70,135.06 677.50,135.36" fill="none" stroke="#111111" stroke-width="1.4" stroke-linejoin="round" />
<polyline points="470.70,117.81 471.50,117.78 472.30,117.91 473.10,117.53 473.91,117.57 474.71,117.81 475.51,117.87 476.31,117.76 477.11,117.61 477.91,117.72 478.72,117.78 479.52,117.51 480.32,117.60 481.12,117.56 481.92,117.50 482.72,117.64 483.52,117.51 484.33,117.53 485.13,117.48 485.93,117.69 486.73,117.41 487.53,117.69 488.33,117.47 489.14,117.40 489.94,117.74 490.74,117.45 491.54,117.73 492.34,117.69 493.14,117.69 493.94,117.38 494.75,117.49 495.55,117.33 496.35,117.65 497.15,117.60 497.95,117.51 498.75,117.42 499.56,117.36 500.36,117.54 501.16,117.38 501.96,117.42 502.76,117.21 503.56,117.22 504.37,117.14 505.17,117.38 505.97,117.29 506.77,117.10 507.57,117.37 508.37,117.10 509.17,117.13 509.98,117.00 510.78,117.02 511.58,117.21 512.38,116.97 513.18,116.87 513.98,116.96 514.79,116.85 515.59,117.04 516.39,116.68 517.19,116.98 517.99,116.56 518.79,116.84 519.59,116.70 520.40,116.45 521.20,116.49 522.00,116.35 522.80,116.26 523.60,116.16 524.40,116.14 525.21,116.29 526.01,116.20 526.81,116.06 527.61,115.62 528.41,115.57 529.21,115.67 530.01,115.19 530.82,115.30 531.62,114.95 532.42,115.03 533.22,114.44 534.02,114.52 534.82,114.08 535.63,113.71 536.43,113.33 537.23,113.29 538.03,112.74 538.83,112.11 539.63,111.62 540.43,111.11 541.24,109.97 542.04,109.06 542.84,107.60 543.64,106.03 544.44,104.30 545.24,101.88 546.05,98.76 546.85,95.22 547.65,91.09 548.45,86.48 549.25,80.92 550.05,74.65 550.86,67.85 551.66,60.79 552.46,53.37 553.26,46.06 554.06,39.15 554.86,33.27 555.66,29.16 556.47,27.52 557.27,27.90 558.07,30.88 558.87,35.43 559.67,41.99 560.47,48.90 561.28,56.55 562.08,63.95 562.88,70.86 563.68,77.21 564.48,83.48 565.28,88.54 566.08,93.23 566.89,96.85 567.69,100.07 568.49,103.02 569.29,105.04 570.09,106.76 570.89,108.30 571.70,109.58 572.50,110.31 573.30,111.31 574.10,111.93 574.90,112.51 575.70,112.82 576.50,113.46 577.31,113.86 578.11,114.19 578.91,114.25 579.71,114.65 580.51,114.74 581.31,115.10 582.12,115.01 582.92,115.50 583.72,115.69 584.52,115.65 585.32,115.79 586.12,115.92 586.92,116.04 587.73,115.94 588.53,116.42 589.33,116.21 590.13,116.28 590.93,116.33 591.73,116.46 592.54,116.76 593.34,116.51 594.14,116.60 594.94,116.90 595.74,116.75 596.54,116.73 597.34,117.02 598.15,117.05 598.95,117.07 599.75,117.19 600.55,116.99 601.35,117.33 602.15,117.31 602.96,117.07 603.76,117.14 604.56,117.31 605.36,117.35 606.16,117.29 606.96,117.25 607.77,117.39 608.57,117.31 609.37,117.51 610.17,117.64 610.97,117.38 611.77,117.57 612.57,117.66 613.38,117.44 614.18,117.73 614.98,117.79 615.78,117.59 616.58,117.62 617.38,117.80 618.19,117.69 618.99,117.65 619.79,117.88 620.59,117.83 621.39,117.67 622.19,117.64 622.99,117.69 623.80,117.75 624.60,117.98 625.40,117.92 626.20,117.97 627.00,117.94 627.80,117.97 628.61,117.66 629.41,117.85 630.21,118.04 631.01,118.04 631.81,117.77 632.61,117.85 633.41,117.94 634.22,117.84 635.02,117.92 635.82,117.74 636.62,117.90 637.42,117.93 638.22,117.75 639.03,117.80 639.83,118.14 640.63,118.07 641.43,118.14 642.23,118.02 643.03,118.10 643.83,118.14 644.64,118.14 645.44,117.81 646.24,118.06 647.04,117.91 647.84,118.08 648.64,117.93 649.45,118.04 650.25,118.20 651.05,118.08 651.85,117.94 652.65,118.05 653.45,118.02 654.26,118.23 655.06,117.97 655.86,117.98 656.66,118.12 657.46,117.92 658.26,118.11 659.06,118.26 659.87,118.09 660.67,117.99 661.47,118.08 662.27,118.11 663.07,117.96 663.87,117.95 664.68,117.96 665.48,118.03 666.28,118.08 667.08,118.03 667.88,118.02 668.68,117.96 669.48,118.15 670.29,118.27 671.09,118.18 671.89,118.17 672.69,118.20 673.49,118.02 674.29,118.23 675.10,118.14 675.90,118.17 676.70,118.20 677.50,118.15" fill="none" stroke="#ff2020" stroke-width="1.4" stroke-linejoin="round" />
<rect x="470.7" y="3.5" width="206.8" height="169.7" fill="none" stroke="#2a2a2a" stroke-width="1.1"/>
<line x1="470.70" y1="173.20" x2="470.70" y2="170.20" stroke="#2a2a2a" stroke-width="0.9" />
<line x1="481.04" y1="173.20" x2="481.04" y2="171.50" stroke="#2a2a2a" stroke-width="0.9" />
<text x="470.70" y="182.50" font-family="Liberation Sans" font-size="6.1" font-weight="bold" font-style="normal" text-anchor="middle" fill="#222" stroke="#222" stroke-width="0.22" >3.50</text>
<line x1="491.38" y1="173.20" x2="491.38" y2="170.20" stroke="#2a2a2a" stroke-width="0.9" />
<line x1="501.72" y1="173.20" x2="501.72" y2="171.50" stroke="#2a2a2a" stroke-width="0.9" />
<text x="491.38" y="182.50" font-family="Liberation Sans" font-size="6.1" font-weight="bold" font-style="normal" text-anchor="middle" fill="#222" stroke="#222" stroke-width="0.22" >3.75</text>
<line x1="512.06" y1="173.20" x2="512.06" y2="170.20" stroke="#2a2a2a" stroke-width="0.9" />
<line x1="522.40" y1="173.20" x2="522.40" y2="171.50" stroke="#2a2a2a" stroke-width="0.9" />
<text x="512.06" y="182.50" font-family="Liberation Sans" font-size="6.1" font-weight="bold" font-style="normal" text-anchor="middle" fill="#222" stroke="#222" stroke-width="0.22" >4.00</text>
<line x1="532.74" y1="173.20" x2="532.74" y2="170.20" stroke="#2a2a2a" stroke-width="0.9" />
<line x1="543.08" y1="173.20" x2="543.08" y2="171.50" stroke="#2a2a2a" stroke-width="0.9" />
<text x="532.74" y="182.50" font-family="Liberation Sans" font-size="6.1" font-weight="bold" font-style="normal" text-anchor="middle" fill="#222" stroke="#222" stroke-width="0.22" >4.25</text>
<line x1="553.42" y1="173.20" x2="553.42" y2="170.20" stroke="#2a2a2a" stroke-width="0.9" />
<line x1="563.76" y1="173.20" x2="563.76" y2="171.50" stroke="#2a2a2a" stroke-width="0.9" />
<text x="553.42" y="182.50" font-family="Liberation Sans" font-size="6.1" font-weight="bold" font-style="normal" text-anchor="middle" fill="#222" stroke="#222" stroke-width="0.22" >4.50</text>
<line x1="574.10" y1="173.20" x2="574.10" y2="170.20" stroke="#2a2a2a" stroke-width="0.9" />
<line x1="584.44" y1="173.20" x2="584.44" y2="171.50" stroke="#2a2a2a" stroke-width="0.9" />
<text x="574.10" y="182.50" font-family="Liberation Sans" font-size="6.1" font-weight="bold" font-style="normal" text-anchor="middle" fill="#222" stroke="#222" stroke-width="0.22" >4.75</text>
<line x1="594.78" y1="173.20" x2="594.78" y2="170.20" stroke="#2a2a2a" stroke-width="0.9" />
<line x1="605.12" y1="173.20" x2="605.12" y2="171.50" stroke="#2a2a2a" stroke-width="0.9" />
<text x="594.78" y="182.50" font-family="Liberation Sans" font-size="6.1" font-weight="bold" font-style="normal" text-anchor="middle" fill="#222" stroke="#222" stroke-width="0.22" >5.00</text>
<line x1="615.46" y1="173.20" x2="615.46" y2="170.20" stroke="#2a2a2a" stroke-width="0.9" />
<line x1="625.80" y1="173.20" x2="625.80" y2="171.50" stroke="#2a2a2a" stroke-width="0.9" />
<text x="615.46" y="182.50" font-family="Liberation Sans" font-size="6.1" font-weight="bold" font-style="normal" text-anchor="middle" fill="#222" stroke="#222" stroke-width="0.22" >5.25</text>
<line x1="636.14" y1="173.20" x2="636.14" y2="170.20" stroke="#2a2a2a" stroke-width="0.9" />
<line x1="646.48" y1="173.20" x2="646.48" y2="171.50" stroke="#2a2a2a" stroke-width="0.9" />
<text x="636.14" y="182.50" font-family="Liberation Sans" font-size="6.1" font-weight="bold" font-style="normal" text-anchor="middle" fill="#222" stroke="#222" stroke-width="0.22" >5.50</text>
<line x1="656.82" y1="173.20" x2="656.82" y2="170.20" stroke="#2a2a2a" stroke-width="0.9" />
<line x1="667.16" y1="173.20" x2="667.16" y2="171.50" stroke="#2a2a2a" stroke-width="0.9" />
<text x="656.82" y="182.50" font-family="Liberation Sans" font-size="6.1" font-weight="bold" font-style="normal" text-anchor="middle" fill="#222" stroke="#222" stroke-width="0.22" >5.75</text>
<line x1="677.50" y1="173.20" x2="677.50" y2="170.20" stroke="#2a2a2a" stroke-width="0.9" />
<text x="677.50" y="182.50" font-family="Liberation Sans" font-size="6.1" font-weight="bold" font-style="normal" text-anchor="middle" fill="#222" stroke="#222" stroke-width="0.22" >6.00</text>
<line x1="470.70" y1="24.90" x2="473.70" y2="24.90" stroke="#2a2a2a" stroke-width="0.9" />
<line x1="470.70" y1="67.40" x2="473.70" y2="67.40" stroke="#2a2a2a" stroke-width="0.9" />
<line x1="470.70" y1="109.70" x2="473.70" y2="109.70" stroke="#2a2a2a" stroke-width="0.9" />
<line x1="470.70" y1="152.00" x2="473.70" y2="152.00" stroke="#2a2a2a" stroke-width="0.9" />
<line x1="470.70" y1="46.20" x2="472.40" y2="46.20" stroke="#2a2a2a" stroke-width="0.9" />
<line x1="470.70" y1="88.50" x2="472.40" y2="88.50" stroke="#2a2a2a" stroke-width="0.9" />
<line x1="470.70" y1="130.80" x2="472.40" y2="130.80" stroke="#2a2a2a" stroke-width="0.9" />
<text x="574.10" y="193.70" font-family="Liberation Sans" font-size="8" font-weight="bold" font-style="normal" text-anchor="middle" fill="#111" stroke="#111" stroke-width="0.22" >2 theta (°)</text>
<text x="464.70" y="86.35" font-family="Liberation Sans" font-size="8" font-weight="bold" font-style="normal" text-anchor="middle" fill="#111" stroke="#111" stroke-width="0.22" transform="rotate(-90 464.7 86.35)" >Intensity (a.u.)</text>
<text x="456.40" y="10.70" font-family="Liberation Sans" font-size="12" font-weight="bold" font-style="normal" text-anchor="start" fill="#111" >c</text>
<text x="483.00" y="19.30" font-family="Liberation Sans" font-size="10.5" font-weight="bold" font-style="normal" text-anchor="start" fill="#111" stroke="#111" stroke-width="0.15" >C-XRD</text>
<line x1="581.70" y1="11.80" x2="599.10" y2="11.80" stroke="#2020ff" stroke-width="1.3" />
<text x="600.70" y="13.90" font-family="Liberation Sans" font-size="6" font-weight="bold" font-style="normal" text-anchor="start" fill="#222" stroke="#222" stroke-width="0.22" >Perovskite</text>
<line x1="581.70" y1="21.80" x2="599.10" y2="21.80" stroke="#111111" stroke-width="1.3" />
<text x="600.70" y="23.90" font-family="Liberation Sans" font-size="6" font-weight="bold" font-style="normal" text-anchor="start" fill="#222" stroke="#222" stroke-width="0.22" >Perovskite/PPAI</text>
<line x1="581.70" y1="31.30" x2="599.10" y2="31.30" stroke="#f08020" stroke-width="1.3" />
<text x="600.70" y="33.40" font-family="Liberation Sans" font-size="6" font-weight="bold" font-style="normal" text-anchor="start" fill="#222" stroke="#222" stroke-width="0.22" >Perovskite/tBBAI</text>
<line x1="581.70" y1="41.00" x2="599.10" y2="41.00" stroke="#ff2020" stroke-width="1.3" />
<text x="600.70" y="43.10" font-family="Liberation Sans" font-size="6" font-weight="bold" font-style="normal" text-anchor="start" fill="#222" stroke="#222" stroke-width="0.22" >Perovskite/PPAI+tBBAI</text>
<polyline points="46.60,542.40 47.00,542.40 47.40,542.40 47.80,542.40 48.20,542.40 48.60,542.40 49.00,542.40 49.40,542.40 49.80,542.40 50.20,542.40 50.60,542.40 51.00,542.40 51.40,542.40 51.80,542.40 52.20,542.40 52.60,542.40 53.00,542.40 53.40,542.40 53.80,542.40 54.20,542.40 54.60,542.40 55.00,542.40 55.40,542.40 55.80,542.40 56.20,542.40 56.60,542.40 57.00,542.40 57.40,542.40 57.80,542.40 58.20,542.40 58.60,542.40 59.00,542.40 59.40,542.40 59.80,542.40 60.20,542.40 60.60,542.40 61.00,542.40 61.40,542.40 61.80,542.40 62.20,542.40 62.60,542.40 63.00,542.40 63.40,542.40 63.80,542.40 64.20,542.40 64.60,542.40 65.00,542.40 65.40,542.40 65.80,542.40 66.20,542.40 66.60,542.40 67.00,542.40 67.40,542.40 67.80,542.40 68.20,542.40 68.60,542.40 69.00,542.40 69.40,542.40 69.80,542.40 70.20,542.40 70.60,542.40 71.00,542.40 71.40,542.40 71.80,542.40 72.20,542.40 72.60,542.40 73.00,542.40 73.40,542.40 73.80,542.40 74.20,542.40 74.60,542.40 75.00,542.40 75.40,542.40 75.80,542.40 76.20,542.40 76.60,542.40 77.00,542.40 77.40,542.40 77.80,542.40 78.20,542.40 78.60,542.40 79.00,542.40 79.40,542.40 79.80,542.40 80.20,542.40 80.60,542.40 81.00,542.40 81.40,542.40 81.80,542.40 82.20,540.59 82.60,540.31 83.00,540.35 83.40,541.52 83.80,542.36 84.20,540.49 84.60,539.31 85.00,542.05 85.40,540.95 85.80,540.32 86.20,542.40 86.60,542.17 87.00,542.40 87.40,542.20 87.80,542.38 88.20,540.47 88.60,541.53 89.00,542.40 89.40,542.13 89.80,542.40 90.20,542.40 90.60,540.04 91.00,540.93 91.40,539.97 91.80,537.81 92.20,535.18 92.60,536.76 93.00,535.33 93.40,535.10 93.80,535.06 94.20,533.81 94.60,533.50 95.00,530.69 95.40,530.59 95.80,528.61 96.20,529.18 96.60,528.70 97.00,524.85 97.40,522.76 97.80,521.64 98.20,523.62 98.60,521.88 99.00,521.36 99.40,519.97 99.80,520.69 100.20,520.75 100.60,520.86 101.00,522.06 101.40,522.82 101.80,524.66 102.20,524.82 102.60,526.10 103.00,526.61 103.40,527.59 103.80,526.98 104.20,524.59 104.60,526.36 105.00,527.62 105.40,528.01 105.80,526.90 106.20,527.03 106.60,525.13 107.00,526.82 107.40,526.60 107.80,525.40 108.20,524.03 108.60,526.63 109.00,528.40 109.40,524.54 109.80,525.09 110.20,523.23 110.60,520.79 111.00,519.72 111.40,520.58 111.80,520.83 112.20,517.07 112.60,517.11 113.00,514.29 113.40,515.17 113.80,513.45 114.20,514.33 114.60,513.18 115.00,509.45 115.40,508.42 115.80,503.89 116.20,499.60 116.60,498.45 117.00,494.33 117.40,491.83 117.80,490.23 118.20,489.00 118.60,485.32 119.00,481.89 119.40,482.33 119.80,478.99 120.20,478.75 120.60,477.08 121.00,472.94 121.40,470.09 121.80,466.35 122.20,463.09 122.60,459.35 123.00,455.45 123.40,451.86 123.80,449.46 124.20,444.57 124.60,439.99 125.00,437.44 125.40,433.82 125.80,431.32 126.20,431.78 126.60,429.03 127.00,426.78 127.40,422.49 127.80,421.05 128.20,419.94 128.60,416.07 129.00,415.59 129.40,415.52 129.80,413.96 130.20,415.74 130.60,416.10 131.00,417.33 131.40,416.78 131.80,418.16 132.20,419.12 132.60,416.89 133.00,416.26 133.40,418.64 133.80,420.87 134.20,419.12 134.60,419.25 135.00,419.96 135.40,419.28 135.80,419.25 136.20,419.13 136.60,419.40 137.00,420.53 137.40,419.95 137.80,420.10 138.20,421.84 138.60,419.74 139.00,421.06 139.40,422.42 139.80,421.43 140.20,420.73 140.60,422.84 141.00,421.51 141.40,420.64 141.80,421.21 142.20,422.49 142.60,420.65 143.00,420.68 143.40,420.72 143.80,422.71 144.20,422.00 144.60,423.32 145.00,421.14 145.40,420.81 145.80,421.88 146.20,423.28 146.60,422.15 147.00,420.71 147.40,419.62 147.80,420.74 148.20,419.86 148.60,421.90 149.00,422.92 149.40,420.71 149.80,419.97 150.20,421.67 150.60,421.68 151.00,422.26 151.40,420.59 151.80,418.89 152.20,418.68 152.60,420.51 153.00,419.16 153.40,418.77 153.80,418.78 154.20,418.72 154.60,418.56 155.00,420.45 155.40,418.15 155.80,416.43 156.20,419.32 156.60,420.28 157.00,421.05 157.40,419.11 157.80,420.31 158.20,421.04 158.60,418.68 159.00,419.86 159.40,420.89 159.80,420.80 160.20,420.32 160.60,419.33 161.00,419.23 161.40,418.87 161.80,418.21 162.20,420.14 162.60,419.94 163.00,422.08 163.40,420.12 163.80,422.81 164.20,423.33 164.60,424.62 165.00,425.23 165.40,425.66 165.80,424.70 166.20,422.15 166.60,424.54 167.00,423.73 167.40,424.27 167.80,426.36 168.20,427.15 168.60,427.46 169.00,430.10 169.40,430.38 169.80,429.82 170.20,429.61 170.60,432.36 171.00,432.45 171.40,434.11 171.80,433.54 172.20,433.06 172.60,434.59 173.00,436.69 173.40,435.38 173.80,437.61 174.20,439.46 174.60,440.17 175.00,440.89 175.40,438.28 175.80,439.92 176.20,441.93 176.60,439.92 177.00,440.23 177.40,440.69 177.80,442.27 178.20,442.89 178.60,443.70 179.00,445.62 179.40,443.71 179.80,443.40 180.20,443.88 180.60,444.42 181.00,444.77 181.40,448.98 181.80,450.78 182.20,448.90 182.60,450.11 183.00,450.29 183.40,450.75 183.80,451.49 184.20,453.40 184.60,454.40 185.00,454.33 185.40,454.00 185.80,454.80 186.20,454.72 186.60,456.79 187.00,458.76 187.40,458.68 187.80,457.83 188.20,458.23 188.60,459.58 189.00,461.49 189.40,463.45 189.80,462.66 190.20,463.97 190.60,463.90 191.00,463.16 191.40,462.64 191.80,462.96 192.20,463.99 192.60,463.37 193.00,464.24 193.40,463.76 193.80,462.73 194.20,463.48 194.60,464.52 195.00,462.54 195.40,463.12 195.80,463.44 196.20,465.45 196.60,466.64 197.00,464.98 197.40,466.38 197.80,466.64 198.20,464.76 198.60,464.88 199.00,463.70 199.40,466.05 199.80,466.64 200.20,467.93 200.60,468.26 201.00,468.03 201.40,468.33 201.80,467.91 202.20,466.00 202.60,467.21 203.00,465.55 203.40,465.49 203.80,468.11 204.20,466.50 204.60,466.09 205.00,466.06 205.40,469.31 205.80,467.28 206.20,465.42 206.60,467.54 207.00,465.30 207.40,466.86 207.80,466.56 208.20,466.76 208.60,467.00 209.00,465.29 209.40,465.08 209.80,461.62 210.20,462.67 210.60,461.80 211.00,461.91 211.40,459.20 211.80,460.24 212.20,461.13 212.60,457.72 213.00,457.00 213.40,457.46 213.80,458.51 214.20,456.41 214.60,455.00 215.00,454.42 215.40,455.41 215.80,456.18 216.20,454.87 216.60,453.96 217.00,453.44 217.40,452.81 217.80,452.57 218.20,450.90 218.60,451.60 219.00,453.59 219.40,452.02 219.80,452.43 220.20,450.05 220.60,450.88 221.00,451.30 221.40,451.02 221.80,450.17 222.20,449.53 222.60,449.76 223.00,450.74 223.40,448.07 223.80,446.52 224.20,448.31 224.60,449.66 225.00,448.54 225.40,447.61 225.80,448.17 226.20,446.16 226.60,445.46 227.00,444.74 227.40,445.83 227.80,445.12 228.20,444.33" fill="none" stroke="#444444" stroke-width="1.15" stroke-linejoin="round" />
<polyline points="46.60,542.40 47.00,542.40 47.40,542.40 47.80,542.40 48.20,542.40 48.60,542.40 49.00,542.40 49.40,542.40 49.80,542.40 50.20,542.40 50.60,542.40 51.00,542.40 51.40,542.40 51.80,542.40 52.20,542.40 52.60,542.40 53.00,542.40 53.40,542.40 53.80,542.40 54.20,542.40 54.60,542.40 55.00,542.40 55.40,542.40 55.80,542.40 56.20,542.40 56.60,542.40 57.00,542.40 57.40,542.40 57.80,542.40 58.20,542.40 58.60,542.40 59.00,542.40 59.40,542.40 59.80,542.40 60.20,542.40 60.60,542.40 61.00,542.40 61.40,542.40 61.80,542.40 62.20,542.40 62.60,542.40 63.00,542.40 63.40,542.40 63.80,542.40 64.20,542.40 64.60,542.40 65.00,542.40 65.40,542.40 65.80,542.40 66.20,542.40 66.60,542.40 67.00,542.40 67.40,542.40 67.80,542.40 68.20,542.40 68.60,542.40 69.00,542.40 69.40,542.40 69.80,542.40 70.20,542.40 70.60,542.40 71.00,542.40 71.40,542.40 71.80,542.40 72.20,542.40 72.60,542.40 73.00,542.40 73.40,542.40 73.80,542.40 74.20,542.40 74.60,542.40 75.00,542.40 75.40,542.40 75.80,542.40 76.20,542.40 76.60,542.40 77.00,542.40 77.40,542.40 77.80,542.40 78.20,542.40 78.60,542.40 79.00,542.40 79.40,542.40 79.80,542.40 80.20,542.40 80.60,542.40 81.00,542.40 81.40,542.40 81.80,542.40 82.20,542.40 82.60,542.40 83.00,542.40 83.40,542.40 83.80,542.40 84.20,542.40 84.60,542.40 85.00,542.40 85.40,542.40 85.80,542.40 86.20,542.40 86.60,542.40 87.00,542.40 87.40,542.40 87.80,542.40 88.20,542.40 88.60,542.40 89.00,542.40 89.40,542.40 89.80,542.40 90.20,542.40 90.60,542.40 91.00,542.40 91.40,542.40 91.80,542.40 92.20,542.40 92.60,542.40 93.00,542.40 93.40,542.40 93.80,542.40 94.20,542.40 94.60,542.40 95.00,542.40 95.40,542.23 95.80,540.91 96.20,539.63 96.60,540.26 97.00,539.39 97.40,538.52 97.80,539.51 98.20,541.73 98.60,541.77 99.00,541.24 99.40,538.23 99.80,537.87 100.20,536.18 100.60,534.58 101.00,533.18 101.40,532.64 101.80,535.14 102.20,535.39 102.60,534.92 103.00,534.23 103.40,530.79 103.80,529.30 104.20,529.57 104.60,529.70 105.00,529.84 105.40,529.56 105.80,525.49 106.20,525.49 106.60,525.25 107.00,523.85 107.40,521.25 107.80,520.85 108.20,518.44 108.60,520.55 109.00,520.66 109.40,518.78 109.80,516.32 110.20,517.35 110.60,515.81 111.00,515.95 111.40,515.32 111.80,513.02 112.20,511.04 112.60,510.42 113.00,508.78 113.40,505.97 113.80,504.58 114.20,505.44 114.60,501.69 115.00,499.27 115.40,499.98 115.80,498.03 116.20,497.52 116.60,496.26 117.00,494.37 117.40,495.65 117.80,490.84 118.20,487.90 118.60,484.08 119.00,482.69 119.40,478.93 119.80,476.02 120.20,474.86 120.60,470.90 121.00,468.90 121.40,468.41 121.80,463.42 122.20,459.77 122.60,457.62 123.00,457.78 123.40,455.95 123.80,452.23 124.20,450.05 124.60,447.67 125.00,446.95 125.40,443.92 125.80,444.55 126.20,444.83 126.60,444.33 127.00,442.26 127.40,440.91 127.80,434.99 128.20,432.35 128.60,432.97 129.00,431.24 129.40,427.68 129.80,427.26 130.20,424.47 130.60,422.92 131.00,418.74 131.40,415.24 131.80,413.61 132.20,410.35 132.60,409.39 133.00,410.88 133.40,408.04 133.80,404.62 134.20,402.51 134.60,401.38 135.00,402.84 135.40,400.92 135.80,400.60 136.20,400.29 136.60,404.48 137.00,404.35 137.40,403.78 137.80,403.31 138.20,403.52 138.60,404.56 139.00,407.70 139.40,407.23 139.80,406.93 140.20,409.04 140.60,409.25 141.00,412.96 141.40,411.11 141.80,412.40 142.20,414.38 142.60,413.99 143.00,416.69 143.40,415.99 143.80,414.96 144.20,415.01 144.60,412.85 145.00,413.28 145.40,412.42 145.80,414.57 146.20,414.99 146.60,413.42 147.00,410.38 147.40,409.56 147.80,408.62 148.20,407.61 148.60,406.81 149.00,408.81 149.40,406.07 149.80,403.99 150.20,406.46 150.60,405.54 151.00,406.55 151.40,403.97 151.80,404.81 152.20,403.79 152.60,403.63 153.00,403.04 153.40,401.37 153.80,398.55 154.20,397.49 154.60,399.62 155.00,400.39 155.40,400.53 155.80,397.71 156.20,397.54 156.60,397.78 157.00,397.79 157.40,399.03 157.80,398.68 158.20,399.42 158.60,400.24 159.00,399.13 159.40,401.85 159.80,403.57 160.20,400.82 160.60,403.87 161.00,405.55 161.40,405.37 161.80,402.89 162.20,406.18 162.60,405.09 163.00,408.98 163.40,410.08 163.80,408.59 164.20,409.07 164.60,412.03 165.00,413.75 165.40,416.09 165.80,418.71 166.20,417.53 166.60,416.81 167.00,421.28 167.40,420.05 167.80,424.06 168.20,423.27 168.60,426.72 169.00,428.92 169.40,431.08 169.80,430.95 170.20,432.87 170.60,431.27 171.00,433.15 171.40,433.03 171.80,435.96 172.20,437.29 172.60,437.09 173.00,437.77 173.40,436.40 173.80,436.35 174.20,439.31 174.60,440.71 175.00,443.25 175.40,443.56 175.80,441.96 176.20,442.55 176.60,444.93 177.00,445.26 177.40,443.48 177.80,446.65 178.20,448.36 178.60,446.19 179.00,447.57 179.40,447.80 179.80,450.02 180.20,449.26 180.60,448.90 181.00,450.18 181.40,453.20 181.80,451.06 182.20,450.51 182.60,452.82 183.00,455.35 183.40,455.18 183.80,455.09 184.20,457.25 184.60,458.19 185.00,455.83 185.40,458.68 185.80,457.27 186.20,457.44 186.60,460.20 187.00,459.95 187.40,461.82 187.80,460.22 188.20,462.94 188.60,461.43 189.00,460.96 189.40,462.59 189.80,462.98 190.20,464.38 190.60,466.93 191.00,467.56 191.40,465.07 191.80,465.45 192.20,466.70 192.60,467.14 193.00,468.47 193.40,468.19 193.80,466.40 194.20,466.47 194.60,469.29 195.00,468.53 195.40,470.12 195.80,471.94 196.20,471.30 196.60,471.37 197.00,471.05 197.40,469.06 197.80,470.52 198.20,468.93 198.60,469.88 199.00,467.36 199.40,468.41 199.80,468.24 200.20,467.12 200.60,465.58 201.00,463.27 201.40,464.72 201.80,463.29 202.20,463.68 202.60,461.24 203.00,459.64 203.40,458.90 203.80,461.21 204.20,459.18 204.60,461.27 205.00,459.67 205.40,459.63 205.80,458.40 206.20,458.82 206.60,456.47 207.00,456.56 207.40,458.73 207.80,456.16 208.20,456.87 208.60,455.53 209.00,454.60 209.40,452.74 209.80,451.68 210.20,455.07 210.60,455.85 211.00,455.86 211.40,455.67 211.80,456.01 212.20,452.45 212.60,452.50 213.00,452.01 213.40,452.07 213.80,453.58 214.20,453.37 214.60,454.08 215.00,450.54 215.40,451.18 215.80,451.47 216.20,451.79 216.60,451.26 217.00,451.85 217.40,449.68 217.80,451.34 218.20,449.68 218.60,449.67 219.00,450.86 219.40,450.43 219.80,448.39 220.20,447.02 220.60,446.71 221.00,447.77 221.40,449.76 221.80,450.09 222.20,447.92 222.60,446.82 223.00,448.04 223.40,446.11 223.80,445.68 224.20,443.61 224.60,443.31 225.00,444.61 225.40,445.75 225.80,445.79 226.20,444.58 226.60,446.49 227.00,445.79 227.40,443.29 227.80,441.65 228.20,444.77" fill="none" stroke="#e8353a" stroke-width="1.15" stroke-linejoin="round" />
<polyline points="46.60,542.40 47.00,542.40 47.40,542.40 47.80,542.40 48.20,542.40 48.60,542.40 49.00,542.40 49.40,542.40 49.80,542.40 50.20,542.40 50.60,542.40 51.00,542.40 51.40,542.40 51.80,542.40 52.20,542.40 52.60,542.40 53.00,542.40 53.40,542.40 53.80,542.40 54.20,542.40 54.60,542.40 55.00,542.40 55.40,542.40 55.80,542.40 56.20,542.40 56.60,542.40 57.00,542.40 57.40,542.40 57.80,542.40 58.20,542.40 58.60,542.40 59.00,542.40 59.40,542.40 59.80,542.40 60.20,542.40 60.60,542.40 61.00,542.40 61.40,542.40 61.80,542.40 62.20,542.40 62.60,542.40 63.00,542.40 63.40,542.40 63.80,542.40 64.20,542.40 64.60,542.40 65.00,542.40 65.40,542.40 65.80,542.40 66.20,542.40 66.60,542.40 67.00,542.40 67.40,542.40 67.80,542.40 68.20,542.40 68.60,542.40 69.00,542.40 69.40,542.40 69.80,542.40 70.20,542.40 70.60,542.40 71.00,542.40 71.40,542.40 71.80,542.40 72.20,542.40 72.60,542.40 73.00,542.40 73.40,542.40 73.80,542.40 74.20,542.40 74.60,542.40 75.00,542.40 75.40,542.40 75.80,542.40 76.20,542.40 76.60,542.40 77.00,542.40 77.40,542.40 77.80,542.40 78.20,542.40 78.60,542.40 79.00,542.40 79.40,542.40 79.80,542.40 80.20,542.40 80.60,542.40 81.00,542.40 81.40,542.40 81.80,542.40 82.20,542.40 82.60,542.40 83.00,542.17 83.40,542.24 83.80,542.40 84.20,542.40 84.60,542.40 85.00,541.55 85.40,541.43 85.80,537.05 86.20,536.62 86.60,538.14 87.00,537.13 87.40,537.40 87.80,533.67 88.20,533.17 88.60,531.58 89.00,531.28 89.40,530.46 89.80,526.86 90.20,525.39 90.60,524.25 91.00,525.79 91.40,525.07 91.80,521.32 92.20,521.69 92.60,518.21 93.00,518.00 93.40,515.32 93.80,512.99 94.20,515.20 94.60,512.72 95.00,511.05 95.40,513.11 95.80,512.98 96.20,509.79 96.60,510.74 97.00,508.74 97.40,507.87 97.80,504.84 98.20,507.17 98.60,507.46 99.00,508.99 99.40,509.54 99.80,507.36 100.20,506.84 100.60,505.94 101.00,505.63 101.40,505.32 101.80,506.41 102.20,508.41 102.60,506.91 103.00,509.56 103.40,509.56 103.80,509.73 104.20,512.34 104.60,512.32 105.00,511.89 105.40,512.71 105.80,514.36 106.20,512.55 106.60,516.07 107.00,513.76 107.40,516.22 107.80,518.04 108.20,515.51 108.60,517.00 109.00,515.17 109.40,514.79 109.80,511.63 110.20,509.89 110.60,509.21 111.00,511.83 111.40,509.18 111.80,509.97 112.20,510.60 112.60,510.46 113.00,507.28 113.40,505.41 113.80,504.83 114.20,505.19 114.60,501.80 115.00,502.54 115.40,502.54 115.80,502.25 116.20,497.95 116.60,499.46 117.00,495.83 117.40,494.73 117.80,494.88 118.20,495.74 118.60,493.03 119.00,493.82 119.40,491.96 119.80,489.14 120.20,487.10 120.60,484.80 121.00,482.54 121.40,481.06 121.80,481.99 122.20,482.98 122.60,478.98 123.00,475.90 123.40,477.86 123.80,475.97 124.20,473.78 124.60,471.27 125.00,470.93 125.40,470.92 125.80,468.15 126.20,465.75 126.60,462.06 127.00,463.18 127.40,458.80 127.80,457.86 128.20,457.95 128.60,453.87 129.00,453.68 129.40,453.55 129.80,451.09 130.20,449.67 130.60,445.86 131.00,445.05 131.40,442.88 131.80,444.42 132.20,442.14 132.60,441.27 133.00,442.73 133.40,442.20 133.80,441.96 134.20,439.00 134.60,437.28 135.00,437.02 135.40,435.26 135.80,433.09 136.20,432.06 136.60,429.92 137.00,429.43 137.40,431.35 137.80,431.54 138.20,429.62 138.60,427.65 139.00,425.87 139.40,423.75 139.80,423.33 140.20,425.10 140.60,426.00 141.00,423.89 141.40,424.54 141.80,424.50 142.20,423.86 142.60,423.15 143.00,423.17 143.40,421.84 143.80,422.89 144.20,421.64 144.60,422.12 145.00,423.73 145.40,424.25 145.80,422.89 146.20,425.28 146.60,425.21 147.00,425.01 147.40,422.56 147.80,423.96 148.20,423.43 148.60,425.19 149.00,425.21 149.40,426.88 149.80,426.88 150.20,427.60 150.60,426.00 151.00,426.64 151.40,427.39 151.80,428.18 152.20,426.49 152.60,427.95 153.00,428.79 153.40,428.42 153.80,429.57 154.20,430.06 154.60,428.41 155.00,427.77 155.40,425.93 155.80,428.12 156.20,429.60 156.60,428.29 157.00,428.70 157.40,429.07 157.80,429.27 158.20,426.74 158.60,428.20 159.00,427.90 159.40,428.06 159.80,426.97 160.20,427.29 160.60,428.02 161.00,427.67 161.40,427.79 161.80,424.72 162.20,423.84 162.60,424.60 163.00,425.78 163.40,424.34 163.80,425.66 164.20,425.93 164.60,423.38 165.00,424.05 165.40,423.19 165.80,421.96 166.20,421.68 166.60,421.42 167.00,420.15 167.40,419.07 167.80,417.34 168.20,417.89 168.60,417.21 169.00,417.37 169.40,416.79 169.80,414.42 170.20,416.64 170.60,414.53 171.00,415.81 171.40,416.27 171.80,417.51 172.20,417.22 172.60,420.69 173.00,420.69 173.40,419.65 173.80,422.17 174.20,421.48 174.60,423.59 175.00,424.28 175.40,426.27 175.80,429.42 176.20,430.81 176.60,430.27 177.00,432.35 177.40,433.13 177.80,432.86 178.20,432.34 178.60,434.69 179.00,436.19 179.40,439.19 179.80,441.18 180.20,441.08 180.60,440.49 181.00,443.21 181.40,440.56 181.80,440.14 182.20,442.27 182.60,443.75 183.00,442.62 183.40,444.57 183.80,446.89 184.20,445.97 184.60,446.11 185.00,445.56 185.40,445.90 185.80,449.35 186.20,448.60 186.60,451.12 187.00,452.34 187.40,451.80 187.80,450.37 188.20,453.20 188.60,452.65 189.00,452.34 189.40,452.08 189.80,454.85 190.20,453.94 190.60,452.68 191.00,453.00 191.40,451.64 191.80,453.28 192.20,453.29 192.60,452.69 193.00,454.62 193.40,455.74 193.80,452.72 194.20,453.70 194.60,453.06 195.00,455.73 195.40,456.32 195.80,454.27 196.20,453.51 196.60,452.72 197.00,456.09 197.40,454.60 197.80,455.37 198.20,455.18 198.60,455.89 199.00,456.08 199.40,456.83 199.80,454.47 200.20,456.28 200.60,455.13 201.00,455.68 201.40,455.12 201.80,454.74 202.20,455.65 202.60,455.82 203.00,455.49 203.40,457.08 203.80,457.17 204.20,454.82 204.60,454.77 205.00,455.69 205.40,458.18 205.80,459.23 206.20,458.24 206.60,455.52 207.00,457.70 207.40,457.19 207.80,457.29 208.20,457.65 208.60,457.25 209.00,456.19 209.40,457.39 209.80,455.39 210.20,454.30 210.60,455.61 211.00,453.10 211.40,452.19 211.80,453.91 212.20,451.10 212.60,453.00 213.00,453.02 213.40,451.65 213.80,450.17 214.20,451.46 214.60,452.40 215.00,449.28 215.40,449.39 215.80,449.67 216.20,449.51 216.60,448.63 217.00,447.38 217.40,448.66 217.80,450.16 218.20,447.49 218.60,446.93 219.00,449.21 219.40,450.04 219.80,449.78 220.20,446.79 220.60,448.44 221.00,450.24 221.40,451.07 221.80,450.06 222.20,446.67 222.60,448.57 223.00,446.61 223.40,447.54 223.80,449.23 224.20,448.87 224.60,446.10 225.00,445.48 225.40,447.88 225.80,445.51 226.20,446.40 226.60,445.87 227.00,444.45 227.40,445.77 227.80,443.75 228.20,443.06" fill="none" stroke="#3c6fe0" stroke-width="1.15" stroke-linejoin="round" />
<rect x="46.6" y="387.3" width="182.0" height="155.09999999999997" fill="none" stroke="#1a1a1a" stroke-width="1.2"/>
<line x1="46.60" y1="542.40" x2="49.20" y2="542.40" stroke="#1a1a1a" stroke-width="1" />
<text x="43.10" y="545.40" font-family="Liberation Sans" font-size="8.5" font-weight="bold" font-style="normal" text-anchor="end" fill="#1a1a1a" stroke="#1a1a1a" stroke-width="0.22" >0.0</text>
<line x1="46.60" y1="503.62" x2="49.20" y2="503.62" stroke="#1a1a1a" stroke-width="1" />
<text x="43.10" y="506.62" font-family="Liberation Sans" font-size="8.5" font-weight="bold" font-style="normal" text-anchor="end" fill="#1a1a1a" stroke="#1a1a1a" stroke-width="0.22" >0.4</text>
<line x1="46.60" y1="464.85" x2="49.20" y2="464.85" stroke="#1a1a1a" stroke-width="1" />
<text x="43.10" y="467.85" font-family="Liberation Sans" font-size="8.5" font-weight="bold" font-style="normal" text-anchor="end" fill="#1a1a1a" stroke="#1a1a1a" stroke-width="0.22" >0.8</text>
<line x1="46.60" y1="426.08" x2="49.20" y2="426.08" stroke="#1a1a1a" stroke-width="1" />
<text x="43.10" y="429.08" font-family="Liberation Sans" font-size="8.5" font-weight="bold" font-style="normal" text-anchor="end" fill="#1a1a1a" stroke="#1a1a1a" stroke-width="0.22" >1.2</text>
<line x1="46.60" y1="387.30" x2="49.20" y2="387.30" stroke="#1a1a1a" stroke-width="1" />
<text x="43.10" y="390.30" font-family="Liberation Sans" font-size="8.5" font-weight="bold" font-style="normal" text-anchor="end" fill="#1a1a1a" stroke="#1a1a1a" stroke-width="0.22" >1.6</text>
<line x1="46.60" y1="542.40" x2="46.60" y2="539.80" stroke="#1a1a1a" stroke-width="1" />
<text x="46.60" y="553.20" font-family="Liberation Sans" font-size="8.5" font-weight="bold" font-style="normal" text-anchor="middle" fill="#1a1a1a" stroke="#1a1a1a" stroke-width="0.22" >0</text>
<line x1="83.00" y1="542.40" x2="83.00" y2="539.80" stroke="#1a1a1a" stroke-width="1" />
<text x="83.00" y="553.20" font-family="Liberation Sans" font-size="8.5" font-weight="bold" font-style="normal" text-anchor="middle" fill="#1a1a1a" stroke="#1a1a1a" stroke-width="0.22" >2</text>
<line x1="119.40" y1="542.40" x2="119.40" y2="539.80" stroke="#1a1a1a" stroke-width="1" />
<text x="119.40" y="553.20" font-family="Liberation Sans" font-size="8.5" font-weight="bold" font-style="normal" text-anchor="middle" fill="#1a1a1a" stroke="#1a1a1a" stroke-width="0.22" >4</text>
<line x1="155.80" y1="542.40" x2="155.80" y2="539.80" stroke="#1a1a1a" stroke-width="1" />
<text x="155.80" y="553.20" font-family="Liberation Sans" font-size="8.5" font-weight="bold" font-style="normal" text-anchor="middle" fill="#1a1a1a" stroke="#1a1a1a" stroke-width="0.22" >6</text>
<line x1="192.20" y1="542.40" x2="192.20" y2="539.80" stroke="#1a1a1a" stroke-width="1" />
<text x="192.20" y="553.20" font-family="Liberation Sans" font-size="8.5" font-weight="bold" font-style="normal" text-anchor="middle" fill="#1a1a1a" stroke="#1a1a1a" stroke-width="0.22" >8</text>
<line x1="228.60" y1="542.40" x2="228.60" y2="539.80" stroke="#1a1a1a" stroke-width="1" />
<text x="228.60" y="553.20" font-family="Liberation Sans" font-size="8.5" font-weight="bold" font-style="normal" text-anchor="middle" fill="#1a1a1a" stroke="#1a1a1a" stroke-width="0.22" >10</text>
<text x="27.50" y="464.50" font-family="Liberation Sans" font-size="8.5" font-weight="bold" font-style="italic" text-anchor="middle" fill="#1a1a1a" stroke="#1a1a1a" stroke-width="0.22" transform="rotate(-90 27.5 464.5)" >g(<tspan font-style="italic">r</tspan>)</text>
<text x="137.50" y="568.00" font-family="Liberation Sans" font-size="8.5" font-weight="bold" font-style="normal" text-anchor="middle" fill="#1a1a1a" stroke="#1a1a1a" stroke-width="0.22" ><tspan font-style="italic">r</tspan> (Å)</text>
<text x="15.80" y="382.60" font-family="Liberation Serif" font-size="12.5" font-weight="bold" font-style="normal" text-anchor="start" fill="#111" >g</text>
<line x1="130.20" y1="510.70" x2="148.60" y2="510.70" stroke="#444444" stroke-width="1.1" />
<text x="151.20" y="513.80" font-family="Liberation Sans" font-size="8.8" font-weight="normal" font-style="normal" text-anchor="start" fill="#1a1a1a" stroke="#1a1a1a" stroke-width="0.22" >PPAI-PPAI (Pure)</text>
<line x1="130.20" y1="521.50" x2="148.60" y2="521.50" stroke="#e8353a" stroke-width="1.1" />
<text x="151.20" y="524.60" font-family="Liberation Sans" font-size="8.8" font-weight="normal" font-style="normal" text-anchor="start" fill="#1a1a1a" stroke="#1a1a1a" stroke-width="0.22" >PPAI-PPAI (Blend)</text>
<line x1="130.20" y1="532.20" x2="148.60" y2="532.20" stroke="#3c6fe0" stroke-width="1.1" />
<text x="151.20" y="535.30" font-family="Liberation Sans" font-size="8.8" font-weight="normal" font-style="normal" text-anchor="start" fill="#1a1a1a" stroke="#1a1a1a" stroke-width="0.22" >PPAI-tBBAI (Blend)</text>
<ellipse cx="104.8" cy="512.9" rx="21.0" ry="22.3" fill="none" stroke="#3ce030" stroke-width="2.6" stroke-dasharray="9.5 6.2" stroke-dashoffset="3"/>
<line x1="103.30" y1="480.00" x2="108.60" y2="505.00" stroke="#e8202a" stroke-width="1.1" />
<polygon points="110.00,510.00 106.00,503.50 110.80,502.50" fill="#e8202a" stroke="none" stroke-width="0" fill-opacity="1" />
<defs><linearGradient id="barg" x1="0" y1="0" x2="0" y2="1"><stop offset="0" stop-color="#7c84dc"/><stop offset="1" stop-color="#c6cbff"/></linearGradient></defs>
<rect x="290.8" y="385.6" width="34.89999999999998" height="58.299999999999955" fill="url(#barg)"/>
<line x1="306.25" y1="444.20" x2="310.25" y2="444.20" stroke="#777" stroke-width="0.6" />
<rect x="334.9" y="385.6" width="34.80000000000001" height="139.69999999999993" fill="url(#barg)"/>
<line x1="350.30" y1="525.60" x2="354.30" y2="525.60" stroke="#777" stroke-width="0.6" />
<rect x="378.8" y="385.6" width="35.0" height="35.19999999999999" fill="url(#barg)"/>
<line x1="394.30" y1="421.10" x2="398.30" y2="421.10" stroke="#777" stroke-width="0.6" />
<rect x="423.2" y="385.6" width="34.80000000000001" height="42.89999999999998" fill="url(#barg)"/>
<line x1="438.60" y1="428.80" x2="442.60" y2="428.80" stroke="#777" stroke-width="0.6" />
<path d="M285.5 541.2 L285.5 385.6 L463.0 385.6 L463.0 541.2 Z" fill="none" stroke="#1a1a1a" stroke-width="1.1"/>
<line x1="283.50" y1="385.60" x2="285.50" y2="385.60" stroke="#1a1a1a" stroke-width="0.9" />
<text x="282.50" y="388.00" font-family="Liberation Sans" font-size="6.6" font-weight="bold" font-style="normal" text-anchor="end" fill="#1a1a1a" stroke="#1a1a1a" stroke-width="0.22" >0.0</text>
<line x1="283.50" y1="420.25" x2="285.50" y2="420.25" stroke="#1a1a1a" stroke-width="0.9" />
<text x="282.50" y="422.65" font-family="Liberation Sans" font-size="6.6" font-weight="bold" font-style="normal" text-anchor="end" fill="#1a1a1a" stroke="#1a1a1a" stroke-width="0.22" >-20.0k</text>
<line x1="283.50" y1="454.90" x2="285.50" y2="454.90" stroke="#1a1a1a" stroke-width="0.9" />
<text x="282.50" y="457.30" font-family="Liberation Sans" font-size="6.6" font-weight="bold" font-style="normal" text-anchor="end" fill="#1a1a1a" stroke="#1a1a1a" stroke-width="0.22" >-40.0k</text>
<line x1="283.50" y1="489.55" x2="285.50" y2="489.55" stroke="#1a1a1a" stroke-width="0.9" />
<text x="282.50" y="491.95" font-family="Liberation Sans" font-size="6.6" font-weight="bold" font-style="normal" text-anchor="end" fill="#1a1a1a" stroke="#1a1a1a" stroke-width="0.22" >-60.0k</text>
<line x1="283.50" y1="524.20" x2="285.50" y2="524.20" stroke="#1a1a1a" stroke-width="0.9" />
<text x="282.50" y="526.60" font-family="Liberation Sans" font-size="6.6" font-weight="bold" font-style="normal" text-anchor="end" fill="#1a1a1a" stroke="#1a1a1a" stroke-width="0.22" >-80.0k</text>
<line x1="284.30" y1="402.93" x2="285.50" y2="402.93" stroke="#1a1a1a" stroke-width="0.8" />
<line x1="284.30" y1="437.58" x2="285.50" y2="437.58" stroke="#1a1a1a" stroke-width="0.8" />
<line x1="284.30" y1="472.23" x2="285.50" y2="472.23" stroke="#1a1a1a" stroke-width="0.8" />
<line x1="284.30" y1="506.88" x2="285.50" y2="506.88" stroke="#1a1a1a" stroke-width="0.8" />
<line x1="308.25" y1="541.20" x2="308.25" y2="538.70" stroke="#1a1a1a" stroke-width="0.9" />
<line x1="352.30" y1="541.20" x2="352.30" y2="538.70" stroke="#1a1a1a" stroke-width="0.9" />
<line x1="396.30" y1="541.20" x2="396.30" y2="538.70" stroke="#1a1a1a" stroke-width="0.9" />
<line x1="440.60" y1="541.20" x2="440.60" y2="538.70" stroke="#1a1a1a" stroke-width="0.9" />
<line x1="330.30" y1="541.20" x2="330.30" y2="539.70" stroke="#1a1a1a" stroke-width="0.8" />
<line x1="374.25" y1="541.20" x2="374.25" y2="539.70" stroke="#1a1a1a" stroke-width="0.8" />
<line x1="418.50" y1="541.20" x2="418.50" y2="539.70" stroke="#1a1a1a" stroke-width="0.8" />
<text x="259.80" y="462.80" font-family="Liberation Sans" font-size="8.9" font-weight="bold" font-style="normal" text-anchor="middle" fill="#1a1a1a" stroke="#1a1a1a" stroke-width="0.22" transform="rotate(-90 259.8 462.8)" >Total Interaction Energy (KJ/mol)</text>
<text x="252.40" y="384.90" font-family="Liberation Sans" font-size="12.3" font-weight="bold" font-style="normal" text-anchor="start" fill="#111" >h</text>
<text x="285.30" y="552.30" font-family="Liberation Sans" font-size="7.4" font-weight="bold" font-style="normal" text-anchor="start" fill="#1a1a1a" stroke="#1a1a1a" stroke-width="0.22" transform="rotate(15 285.3 552.3)" >PPAI-PPAI (Pure)</text>
<text x="338.50" y="555.20" font-family="Liberation Sans" font-size="7.4" font-weight="bold" font-style="normal" text-anchor="start" fill="#1a1a1a" stroke="#1a1a1a" stroke-width="0.22" transform="rotate(15 338.5 555.2)" >Sum (Blend)</text>
<text x="372.50" y="550.80" font-family="Liberation Sans" font-size="7.4" font-weight="bold" font-style="normal" text-anchor="start" fill="#1a1a1a" stroke="#1a1a1a" stroke-width="0.22" transform="rotate(15 372.5 550.8)" >PPAI-PPAI (Blend)</text>
<text x="416.00" y="550.80" font-family="Liberation Sans" font-size="7.4" font-weight="bold" font-style="normal" text-anchor="start" fill="#1a1a1a" stroke="#1a1a1a" stroke-width="0.22" transform="rotate(15 416 550.8)" >PPAI-tBBAI (Blend)</text>
<defs>
<linearGradient id="pvkg" x1="0" y1="0" x2="0" y2="1"><stop offset="0" stop-color="#a8a8a8"/><stop offset="1" stop-color="#e4e4e4"/></linearGradient>
<linearGradient id="pptg" x1="0" y1="0" x2="0" y2="1"><stop offset="0" stop-color="#f9d6da"/><stop offset="0.5" stop-color="#f4a6ae"/><stop offset="1" stop-color="#ee7482"/></linearGradient>
<linearGradient id="spig" x1="0" y1="0" x2="0" y2="1"><stop offset="0" stop-color="#548cd2"/><stop offset="1" stop-color="#2a5898"/></linearGradient>
<radialGradient id="hpg" cx="0.5" cy="0.5" r="0.5"><stop offset="0" stop-color="#f4fff4"/><stop offset="1" stop-color="#b8f0c0"/></radialGradient>
</defs>
<rect x="502.3" y="386" width="5.1" height="167.5" fill="#000"/>
<polygon points="505.20,374.30 497.60,388.20 512.80,388.20" fill="#000" stroke="none" stroke-width="0" fill-opacity="1" />
<rect x="507" y="389.9" width="5.2" height="2.3" fill="#000"/>
<rect x="507" y="414.0" width="5.2" height="2.3" fill="#000"/>
<rect x="507" y="438.2" width="5.2" height="2.3" fill="#000"/>
<rect x="507" y="462.4" width="5.2" height="2.3" fill="#000"/>
<rect x="507" y="486.2" width="5.2" height="2.3" fill="#000"/>
<rect x="507" y="510.4" width="5.2" height="2.3" fill="#000"/>
<rect x="507" y="534.5" width="5.2" height="2.3" fill="#000"/>
<line x1="513.30" y1="391.00" x2="639.40" y2="391.00" stroke="#7a7a7a" stroke-width="3.6" stroke-dasharray="10.8 3.8" stroke-dashoffset="1.5"/>
<text x="575.70" y="404.20" font-family="Liberation Sans" font-size="11" font-weight="bold" font-style="normal" text-anchor="middle" fill="#111" >Vacuum level</text>
<text x="490.50" y="476.60" font-family="Liberation Sans" font-size="11" font-weight="bold" font-style="normal" text-anchor="middle" fill="#111" transform="rotate(-90 490.5 476.6)" >Energy level (eV)</text>
<text x="474.50" y="384.20" font-family="Liberation Sans" font-size="12.3" font-weight="bold" font-style="normal" text-anchor="start" fill="#111" >i</text>
<rect x="533.8" y="497.2" width="17.5" height="40.1" rx="2.5" fill="url(#pvkg)"/>
<rect x="558.8" y="440" width="18.3" height="79" rx="2.5" fill="url(#pptg)"/>
<rect x="585.7" y="436.3" width="18.3" height="79" rx="2.5" fill="url(#spig)"/>
<text x="545.60" y="520.30" font-family="Liberation Sans" font-size="8.6" font-weight="bold" font-style="normal" text-anchor="middle" fill="#1a1a1a" stroke="#1a1a1a" stroke-width="0.22" transform="rotate(-90 545.6 520.3)" >PVK</text>
<text x="571.90" y="480.50" font-family="Liberation Sans" font-size="10.5" font-weight="bold" font-style="normal" text-anchor="middle" fill="#1a1a1a" stroke="#1a1a1a" stroke-width="0.15" transform="rotate(-90 571.9 480.5)" >PPAI+tBBAI</text>
<text x="598.60" y="476.60" font-family="Liberation Sans" font-size="9.9" font-weight="bold" font-style="normal" text-anchor="middle" fill="#111" stroke="#111" stroke-width="0.15" transform="rotate(-90 598.6 476.6)" >Spiro-OMeTAD</text>
<ellipse cx="552.2" cy="504.2" rx="10.4" ry="4.4" fill="#f0c020"/>
<text x="547.60" y="507.40" font-family="Liberation Sans" font-size="9" font-weight="bold" font-style="normal" text-anchor="middle" fill="#111" stroke="#111" stroke-width="0.15" >+</text>
<text x="557.60" y="507.40" font-family="Liberation Sans" font-size="9" font-weight="bold" font-style="normal" text-anchor="middle" fill="#111" stroke="#111" stroke-width="0.15" >-</text>
<text x="542.50" y="548.00" font-family="Liberation Sans" font-size="7.6" font-weight="bold" font-style="normal" text-anchor="middle" fill="#111" stroke="#111" stroke-width="0.22" >-6.07 eV</text>
<text x="568.00" y="529.30" font-family="Liberation Sans" font-size="7.6" font-weight="bold" font-style="normal" text-anchor="middle" fill="#111" stroke="#111" stroke-width="0.22" >-5.34 eV</text>
<text x="596.80" y="525.30" font-family="Liberation Sans" font-size="7.6" font-weight="bold" font-style="normal" text-anchor="middle" fill="#111" stroke="#111" stroke-width="0.22" >-5.21 eV</text>
<circle cx="542" cy="557.8" r="6" fill="url(#hpg)"/>
<text x="541.80" y="560.60" font-family="Liberation Sans" font-size="8" font-weight="bold" font-style="normal" text-anchor="middle" fill="#111" stroke="#111" stroke-width="0.22" >h<tspan font-size="5" dy="-3">+</tspan></text>
<circle cx="568.9" cy="537.8" r="6" fill="url(#hpg)"/>
<text x="568.70" y="540.60" font-family="Liberation Sans" font-size="8" font-weight="bold" font-style="normal" text-anchor="middle" fill="#111" stroke="#111" stroke-width="0.22" >h<tspan font-size="5" dy="-3">+</tspan></text>
<circle cx="594.4" cy="531.5" r="6" fill="url(#hpg)"/>
<text x="594.20" y="534.30" font-family="Liberation Sans" font-size="8" font-weight="bold" font-style="normal" text-anchor="middle" fill="#111" stroke="#111" stroke-width="0.22" >h<tspan font-size="5" dy="-3">+</tspan></text>
<path d="M548.8 566.2 Q556 575 563.5 566 Q566 561 566.2 558" fill="none" stroke="#e02020" stroke-width="2.2"/>
<polygon points="566.40,554.50 562.60,560.20 569.40,560.40" fill="#e02020" stroke="none" stroke-width="0" fill-opacity="1" />
<path d="M576.2 552.5 Q584 561 590.5 552 Q593 548 593.6 545" fill="none" stroke="#e02020" stroke-width="2.2"/>
<polygon points="593.90,541.20 590.20,547.00 597.00,547.20" fill="#e02020" stroke="none" stroke-width="0" fill-opacity="1" />
<defs>
<radialGradient id="gwin" gradientUnits="userSpaceOnUse" cx="0" cy="0" r="16" fx="0" fy="0">
 <stop offset="0" stop-color="#b4f874"/>
 <stop offset="0.25" stop-color="#9cf890"/>
 <stop offset="0.45" stop-color="#70f0d0"/>
 <stop offset="0.58" stop-color="#60e6f6"/>
 <stop offset="0.64" stop-color="#58cefe"/>
 <stop offset="0.76" stop-color="#50acff"/>
 <stop offset="0.86" stop-color="#4690ff"/>
 <stop offset="0.91" stop-color="#3868ff"/>
 <stop offset="0.96" stop-color="#2a30fa"/>
 <stop offset="1" stop-color="#2200f6"/>
</radialGradient>
<filter id="spk" x="-0.05" y="-0.05" width="1.1" height="1.1" color-interpolation-filters="sRGB">
 <feTurbulence type="fractalNoise" baseFrequency="0.9" numOctaves="1" seed="4" result="n"/>
 <feColorMatrix in="n" type="matrix" values="0 0 0 0 0  0 0 0 0 0  0 0 0 0 0  0 0 0 5 -2.2" result="m"/>
 <feComposite in="SourceGraphic" in2="m" operator="in"/>
</filter>
<filter id="spk2" x="-0.05" y="-0.05" width="1.1" height="1.1" color-interpolation-filters="sRGB">
 <feTurbulence type="fractalNoise" baseFrequency="0.8" numOctaves="1" seed="11" result="n"/>
 <feColorMatrix in="n" type="matrix" values="0 0 0 0 0  0 0 0 0 0  0 0 0 0 0  0 0 0 5 -2.1" result="m"/>
 <feComposite in="SourceGraphic" in2="m" operator="in"/>
</filter>
<clipPath id="gwclip"><rect x="-20" y="0" width="40" height="30"/></clipPath>
</defs>
<g transform="translate(130.00 346.90) scale(4.3800 -4.3833)" clip-path="url(#gwclip)">
<rect x="-20" y="0" width="40" height="30" fill="#2200f6"/>
<rect x="-20" y="0" width="40" height="30" fill="url(#gwin)"/>
<path d="M13.20 0.00 L13.18 0.66 L13.13 1.31 L13.04 1.96 L12.91 2.61 L12.75 3.25 L12.55 3.88 L12.32 4.49 L12.06 5.10 L11.76 5.69 L11.43 6.27 L11.07 6.83 L10.68 7.37 L10.26 7.89 L9.81 8.39 L9.33 8.87 L8.83 9.32 L8.31 9.75 L7.76 10.15 L7.19 10.52 L6.60 10.86 L5.99 11.17 L5.37 11.46 L4.73 11.71 L4.08 11.93 L3.42 12.11 L2.74 12.27 L2.06 12.39 L1.38 12.47 L0.69 12.52 L0.00 12.54 L-0.69 12.52 L-1.38 12.47 L-2.06 12.39 L-2.74 12.27 L-3.42 12.11 L-4.08 11.93 L-4.73 11.71 L-5.37 11.46 L-5.99 11.17 L-6.60 10.86 L-7.19 10.52 L-7.76 10.15 L-8.31 9.75 L-8.83 9.32 L-9.33 8.87 L-9.81 8.39 L-10.26 7.89 L-10.68 7.37 L-11.07 6.83 L-11.43 6.27 L-11.76 5.69 L-12.06 5.10 L-12.32 4.49 L-12.55 3.88 L-12.75 3.25 L-12.91 2.61 L-13.04 1.96 L-13.13 1.31 L-13.18 0.66 L-13.20 0.00" fill="none" stroke="#64d8ff" stroke-width="0.9" stroke-opacity="0.55"/>
<path d="M14.90 0.00 L14.88 0.74 L14.82 1.48 L14.72 2.21 L14.57 2.94 L14.39 3.66 L14.17 4.37 L13.91 5.07 L13.61 5.76 L13.28 6.43 L12.90 7.08 L12.50 7.71 L12.05 8.32 L11.58 8.91 L11.07 9.47 L10.54 10.01 L9.97 10.52 L9.38 11.00 L8.76 11.45 L8.12 11.87 L7.45 12.26 L6.76 12.61 L6.06 12.93 L5.34 13.21 L4.60 13.46 L3.86 13.67 L3.10 13.85 L2.33 13.98 L1.56 14.08 L0.78 14.14 L0.00 14.15 L-0.78 14.14 L-1.56 14.08 L-2.33 13.98 L-3.10 13.85 L-3.86 13.67 L-4.60 13.46 L-5.34 13.21 L-6.06 12.93 L-6.76 12.61 L-7.45 12.26 L-8.12 11.87 L-8.76 11.45 L-9.38 11.00 L-9.97 10.52 L-10.54 10.01 L-11.07 9.47 L-11.58 8.91 L-12.05 8.32 L-12.50 7.71 L-12.90 7.08 L-13.28 6.43 L-13.61 5.76 L-13.91 5.07 L-14.17 4.37 L-14.39 3.66 L-14.57 2.94 L-14.72 2.21 L-14.82 1.48 L-14.88 0.74 L-14.90 0.00" fill="none" stroke="#54b8ff" stroke-width="0.8" stroke-opacity="0.45"/>
<path d="M16.60 0.00 L16.58 0.83 L16.51 1.65 L16.40 2.47 L16.24 3.28 L16.03 4.08 L15.79 4.87 L15.50 5.65 L15.16 6.41 L14.79 7.16 L14.38 7.88 L13.92 8.59 L13.43 9.27 L12.90 9.92 L12.34 10.55 L11.74 11.15 L11.11 11.72 L10.45 12.26 L9.76 12.76 L9.04 13.23 L8.30 13.66 L7.54 14.05 L6.75 14.41 L5.95 14.72 L5.13 15.00 L4.30 15.23 L3.45 15.43 L2.60 15.58 L1.74 15.68 L0.87 15.75 L0.00 15.77 L-0.87 15.75 L-1.74 15.68 L-2.60 15.58 L-3.45 15.43 L-4.30 15.23 L-5.13 15.00 L-5.95 14.72 L-6.75 14.41 L-7.54 14.05 L-8.30 13.66 L-9.04 13.23 L-9.76 12.76 L-10.45 12.26 L-11.11 11.72 L-11.74 11.15 L-12.34 10.55 L-12.90 9.92 L-13.43 9.27 L-13.92 8.59 L-14.38 7.88 L-14.79 7.16 L-15.16 6.41 L-15.50 5.65 L-15.79 4.87 L-16.03 4.08 L-16.24 3.28 L-16.40 2.47 L-16.51 1.65 L-16.58 0.83 L-16.60 0.00" fill="none" stroke="#4a80ff" stroke-width="1.5" stroke-opacity="0.35"/>
<path d="M19.80 0.00 L19.77 0.98 L19.69 1.97 L19.56 2.94 L19.37 3.91 L19.13 4.87 L18.83 5.81 L18.48 6.74 L18.09 7.65 L17.64 8.54 L17.15 9.40 L16.61 10.24 L16.02 11.06 L15.39 11.84 L14.71 12.59 L14.00 13.30 L13.25 13.98 L12.46 14.62 L11.64 15.22 L10.78 15.78 L9.90 16.29 L8.99 16.76 L8.05 17.18 L7.10 17.56 L6.12 17.89 L5.12 18.17 L4.12 18.40 L3.10 18.58 L2.07 18.71 L1.04 18.78 L0.00 18.81 L-1.04 18.78 L-2.07 18.71 L-3.10 18.58 L-4.12 18.40 L-5.12 18.17 L-6.12 17.89 L-7.10 17.56 L-8.05 17.18 L-8.99 16.76 L-9.90 16.29 L-10.78 15.78 L-11.64 15.22 L-12.46 14.62 L-13.25 13.98 L-14.00 13.30 L-14.71 12.59 L-15.39 11.84 L-16.02 11.06 L-16.61 10.24 L-17.15 9.40 L-17.64 8.54 L-18.09 7.65 L-18.48 6.74 L-18.83 5.81 L-19.13 4.87 L-19.37 3.91 L-19.56 2.94 L-19.69 1.97 L-19.77 0.98 L-19.80 0.00" fill="none" stroke="#4a90ff" stroke-width="1.7" stroke-opacity="0.35"/>
<path d="M29.40 0.00 L29.36 1.54 L29.24 3.07 L29.04 4.60 L28.76 6.11 L28.40 7.61 L27.96 9.09 L27.45 10.54 L26.86 11.96 L26.20 13.35 L25.46 14.70 L24.66 16.01 L23.79 17.28 L22.85 18.50 L21.85 19.67 L20.79 20.79 L19.67 21.85 L18.50 22.85 L17.28 23.79 L16.01 24.66 L14.70 25.46 L13.35 26.20 L11.96 26.86 L10.54 27.45 L9.09 27.96 L7.61 28.40 L6.11 28.76 L4.60 29.04 L3.07 29.24 L1.54 29.36 L0.00 29.40 L-1.54 29.36 L-3.07 29.24 L-4.60 29.04 L-6.11 28.76 L-7.61 28.40 L-9.09 27.96 L-10.54 27.45 L-11.96 26.86 L-13.35 26.20 L-14.70 25.46 L-16.01 24.66 L-17.28 23.79 L-18.50 22.85 L-19.67 21.85 L-20.79 20.79 L-21.85 19.67 L-22.85 18.50 L-23.79 17.28 L-24.66 16.01 L-25.46 14.70 L-26.20 13.35 L-26.86 11.96 L-27.45 10.54 L-27.96 9.09 L-28.40 7.61 L-28.76 6.11 L-29.04 4.60 L-29.24 3.07 L-29.36 1.54 L-29.40 0.00" fill="none" stroke="#3a60ff" stroke-width="1.9" stroke-opacity="0.35"/>
</g><g filter="url(#spk)"><g transform="translate(130.00 346.90) scale(4.3800 -4.3833)" clip-path="url(#gwclip)">
<path d="M16.60 0.00 L16.58 0.83 L16.51 1.65 L16.40 2.47 L16.24 3.28 L16.03 4.08 L15.79 4.87 L15.50 5.65 L15.16 6.41 L14.79 7.16 L14.38 7.88 L13.92 8.59 L13.43 9.27 L12.90 9.92 L12.34 10.55 L11.74 11.15 L11.11 11.72 L10.45 12.26 L9.76 12.76 L9.04 13.23 L8.30 13.66 L7.54 14.05 L6.75 14.41 L5.95 14.72 L5.13 15.00 L4.30 15.23 L3.45 15.43 L2.60 15.58 L1.74 15.68 L0.87 15.75 L0.00 15.77 L-0.87 15.75 L-1.74 15.68 L-2.60 15.58 L-3.45 15.43 L-4.30 15.23 L-5.13 15.00 L-5.95 14.72 L-6.75 14.41 L-7.54 14.05 L-8.30 13.66 L-9.04 13.23 L-9.76 12.76 L-10.45 12.26 L-11.11 11.72 L-11.74 11.15 L-12.34 10.55 L-12.90 9.92 L-13.43 9.27 L-13.92 8.59 L-14.38 7.88 L-14.79 7.16 L-15.16 6.41 L-15.50 5.65 L-15.79 4.87 L-16.03 4.08 L-16.24 3.28 L-16.40 2.47 L-16.51 1.65 L-16.58 0.83 L-16.60 0.00" fill="none" stroke="#4aa4ff" stroke-width="1.3" stroke-opacity="1.0"/>
<path d="M19.80 0.00 L19.77 0.98 L19.69 1.97 L19.56 2.94 L19.37 3.91 L19.13 4.87 L18.83 5.81 L18.48 6.74 L18.09 7.65 L17.64 8.54 L17.15 9.40 L16.61 10.24 L16.02 11.06 L15.39 11.84 L14.71 12.59 L14.00 13.30 L13.25 13.98 L12.46 14.62 L11.64 15.22 L10.78 15.78 L9.90 16.29 L8.99 16.76 L8.05 17.18 L7.10 17.56 L6.12 17.89 L5.12 18.17 L4.12 18.40 L3.10 18.58 L2.07 18.71 L1.04 18.78 L0.00 18.81 L-1.04 18.78 L-2.07 18.71 L-3.10 18.58 L-4.12 18.40 L-5.12 18.17 L-6.12 17.89 L-7.10 17.56 L-8.05 17.18 L-8.99 16.76 L-9.90 16.29 L-10.78 15.78 L-11.64 15.22 L-12.46 14.62 L-13.25 13.98 L-14.00 13.30 L-14.71 12.59 L-15.39 11.84 L-16.02 11.06 L-16.61 10.24 L-17.15 9.40 L-17.64 8.54 L-18.09 7.65 L-18.48 6.74 L-18.83 5.81 L-19.13 4.87 L-19.37 3.91 L-19.56 2.94 L-19.69 1.97 L-19.77 0.98 L-19.80 0.00" fill="none" stroke="#64d4f4" stroke-width="1.6" stroke-opacity="1.0"/>
</g></g><g filter="url(#spk2)"><g transform="translate(130.00 346.90) scale(4.3800 -4.3833)" clip-path="url(#gwclip)">
<path d="M19.13 4.87 L18.88 5.66 L18.61 6.43 L18.29 7.20 L17.94 7.95 L17.56 8.69 L17.15 9.40 L16.70 10.11 L16.22 10.79 L15.71 11.45 L15.17 12.09 L14.60 12.71 L14.00 13.30 L13.38 13.87 L12.73 14.41 L12.05 14.92 L11.36 15.41 L10.64 15.86 L9.90 16.29 L9.14 16.68 L8.37 17.05 L7.58 17.38 L6.77 17.68 L5.95 17.94 L5.12 18.17 L4.29 18.36 L3.44 18.52 L2.58 18.65 L1.73 18.74 L0.86 18.79 L0.00 18.81 L-0.86 18.79 L-1.73 18.74 L-2.58 18.65 L-3.44 18.52 L-4.29 18.36 L-5.12 18.17 L-5.95 17.94 L-6.77 17.68 L-7.58 17.38 L-8.37 17.05 L-9.14 16.68 L-9.90 16.29 L-10.64 15.86 L-11.36 15.41 L-12.05 14.92 L-12.73 14.41 L-13.38 13.87 L-14.00 13.30 L-14.60 12.71 L-15.17 12.09 L-15.71 11.45 L-16.22 10.79 L-16.70 10.11 L-17.15 9.40 L-17.56 8.69 L-17.94 7.95 L-18.29 7.20 L-18.61 6.43 L-18.88 5.66 L-19.13 4.87" fill="none" stroke="#e8f040" stroke-width="1.3" stroke-opacity="1.0"/>
<path d="M15.64 11.61 L15.47 11.82 L15.29 12.03 L15.11 12.23 L14.92 12.44 L14.73 12.64 L14.54 12.84 L14.35 13.03 L14.15 13.23 L13.95 13.42 L13.75 13.60 L13.54 13.79 L13.33 13.97 L13.12 14.15 L12.91 14.33 L12.69 14.50 L12.47 14.67 L12.25 14.84 L12.03 15.00 L11.80 15.16 L11.57 15.32 L11.34 15.48 L11.11 15.63 L10.87 15.78 L10.64 15.92 L10.40 16.06 L10.15 16.20 L9.91 16.34 L9.66 16.47 L9.42 16.60 L9.17 16.73 L8.91 16.85 L8.66 16.97 L8.40 17.08 L8.15 17.20 L7.89 17.30 L7.63 17.41 L7.37 17.51 L7.10 17.61 L6.84 17.70 L6.57 17.79 L6.30 17.88 L6.04 17.96 L5.76 18.04 L5.49 18.12 L5.22 18.19 L4.95 18.26 L4.67 18.33 L4.40 18.39 L4.12 18.45 L3.84 18.50 L3.57 18.55 L3.29 18.60 L3.01 18.64 L2.73 18.68 L2.45 18.71 L2.17 18.74 L1.89 18.77 L1.60 18.80 L1.32 18.82 L1.04 18.83" fill="none" stroke="#ff3810" stroke-width="1.1" stroke-opacity="1.0"/>
<path d="M-1.04 18.83 L-1.32 18.82 L-1.60 18.80 L-1.89 18.77 L-2.17 18.74 L-2.45 18.71 L-2.73 18.68 L-3.01 18.64 L-3.29 18.60 L-3.57 18.55 L-3.84 18.50 L-4.12 18.45 L-4.40 18.39 L-4.67 18.33 L-4.95 18.26 L-5.22 18.19 L-5.49 18.12 L-5.76 18.04 L-6.04 17.96 L-6.30 17.88 L-6.57 17.79 L-6.84 17.70 L-7.10 17.61 L-7.37 17.51 L-7.63 17.41 L-7.89 17.30 L-8.15 17.20 L-8.40 17.08 L-8.66 16.97 L-8.91 16.85 L-9.17 16.73 L-9.42 16.60 L-9.66 16.47 L-9.91 16.34 L-10.15 16.20 L-10.40 16.06 L-10.64 15.92 L-10.87 15.78 L-11.11 15.63 L-11.34 15.48 L-11.57 15.32 L-11.80 15.16 L-12.03 15.00 L-12.25 14.84 L-12.47 14.67 L-12.69 14.50 L-12.91 14.33 L-13.12 14.15 L-13.33 13.97 L-13.54 13.79 L-13.75 13.60 L-13.95 13.42 L-14.15 13.23 L-14.35 13.03 L-14.54 12.84 L-14.73 12.64 L-14.92 12.44 L-15.11 12.23 L-15.29 12.03 L-15.47 11.82 L-15.64 11.61" fill="none" stroke="#ff3810" stroke-width="1.1" stroke-opacity="1.0"/>
</g></g><g filter="url(#spk)"><g transform="translate(130.00 346.90) scale(4.3800 -4.3833)" clip-path="url(#gwclip)">
<path d="M22.40 0.00 L22.37 1.17 L22.28 2.34 L22.12 3.50 L21.91 4.66 L21.64 5.80 L21.30 6.92 L20.91 8.03 L20.46 9.11 L19.96 10.17 L19.40 11.20 L18.79 12.20 L18.12 13.17 L17.41 14.10 L16.65 14.99 L15.84 15.84 L14.99 16.65 L14.10 17.41 L13.17 18.12 L12.20 18.79 L11.20 19.40 L10.17 19.96 L9.11 20.46 L8.03 20.91 L6.92 21.30 L5.80 21.64 L4.66 21.91 L3.50 22.12 L2.34 22.28 L1.17 22.37 L0.00 22.40 L-1.17 22.37 L-2.34 22.28 L-3.50 22.12 L-4.66 21.91 L-5.80 21.64 L-6.92 21.30 L-8.03 20.91 L-9.11 20.46 L-10.17 19.96 L-11.20 19.40 L-12.20 18.79 L-13.17 18.12 L-14.10 17.41 L-14.99 16.65 L-15.84 15.84 L-16.65 14.99 L-17.41 14.10 L-18.12 13.17 L-18.79 12.20 L-19.40 11.20 L-19.96 10.17 L-20.46 9.11 L-20.91 8.03 L-21.30 6.92 L-21.64 5.80 L-21.91 4.66 L-22.12 3.50 L-22.28 2.34 L-22.37 1.17 L-22.40 0.00" fill="none" stroke="#60d8ff" stroke-width="0.6" stroke-opacity="1.0"/>
<path d="M29.40 0.00 L29.36 1.54 L29.24 3.07 L29.04 4.60 L28.76 6.11 L28.40 7.61 L27.96 9.09 L27.45 10.54 L26.86 11.96 L26.20 13.35 L25.46 14.70 L24.66 16.01 L23.79 17.28 L22.85 18.50 L21.85 19.67 L20.79 20.79 L19.67 21.85 L18.50 22.85 L17.28 23.79 L16.01 24.66 L14.70 25.46 L13.35 26.20 L11.96 26.86 L10.54 27.45 L9.09 27.96 L7.61 28.40 L6.11 28.76 L4.60 29.04 L3.07 29.24 L1.54 29.36 L0.00 29.40 L-1.54 29.36 L-3.07 29.24 L-4.60 29.04 L-6.11 28.76 L-7.61 28.40 L-9.09 27.96 L-10.54 27.45 L-11.96 26.86 L-13.35 26.20 L-14.70 25.46 L-16.01 24.66 L-17.28 23.79 L-18.50 22.85 L-19.67 21.85 L-20.79 20.79 L-21.85 19.67 L-22.85 18.50 L-23.79 17.28 L-24.66 16.01 L-25.46 14.70 L-26.20 13.35 L-26.86 11.96 L-27.45 10.54 L-27.96 9.09 L-28.40 7.61 L-28.76 6.11 L-29.04 4.60 L-29.24 3.07 L-29.36 1.54 L-29.40 0.00" fill="none" stroke="#4cb0ff" stroke-width="1.6" stroke-opacity="1.0"/>
<path d="M32.30 0.00 L32.26 1.69 L32.12 3.38 L31.90 5.05 L31.59 6.72 L31.20 8.36 L30.72 9.98 L30.15 11.58 L29.51 13.14 L28.78 14.66 L27.97 16.15 L27.09 17.59 L26.13 18.99 L25.10 20.33 L24.00 21.61 L22.84 22.84 L21.61 24.00 L20.33 25.10 L18.99 26.13 L17.59 27.09 L16.15 27.97 L14.66 28.78 L13.14 29.51 L11.58 30.15 L9.98 30.72 L8.36 31.20 L6.72 31.59 L5.05 31.90 L3.38 32.12 L1.69 32.26 L0.00 32.30 L-1.69 32.26 L-3.38 32.12 L-5.05 31.90 L-6.72 31.59 L-8.36 31.20 L-9.98 30.72 L-11.58 30.15 L-13.14 29.51 L-14.66 28.78 L-16.15 27.97 L-17.59 27.09 L-18.99 26.13 L-20.33 25.10 L-21.61 24.00 L-22.84 22.84 L-24.00 21.61 L-25.10 20.33 L-26.13 18.99 L-27.09 17.59 L-27.97 16.15 L-28.78 14.66 L-29.51 13.14 L-30.15 11.58 L-30.72 9.98 L-31.20 8.36 L-31.59 6.72 L-31.90 5.05 L-32.12 3.38 L-32.26 1.69 L-32.30 0.00" fill="none" stroke="#4aa0ff" stroke-width="0.6" stroke-opacity="0.55"/>
</g></g><g transform="translate(130.00 346.90) scale(4.3800 -4.3833)" clip-path="url(#gwclip)">
<path d="M-21.00 18.70 C-20.82 18.73 -21.43 18.27 -19.95 18.86 C-18.47 19.45 -14.72 21.25 -12.10 22.26 C-9.47 23.27 -6.22 24.38 -4.20 24.90 C-2.18 25.42 -0.70 25.32 0.00 25.40" fill="none" stroke="#14008c" stroke-width="1.7"/>
<path d="M0.00 25.40 C0.59 25.38 1.24 25.85 3.56 25.30 C5.88 24.75 10.99 23.43 13.90 22.10 C16.81 20.77 19.82 18.10 21.00 17.30" fill="none" stroke="#14008c" stroke-width="0.7"/>
<path d="M0.00 21.20 C-0.50 21.13 -1.16 21.47 -3.00 20.80 C-4.84 20.13 -8.89 18.39 -11.07 17.20 C-13.25 16.01 -14.88 14.95 -16.10 13.65 C-17.32 12.35 -17.92 11.01 -18.40 9.40 C-18.88 7.79 -18.90 5.73 -19.00 4.00 C-19.10 2.27 -19.00 -0.17 -19.00 -1.00" fill="none" stroke="#14008c" stroke-width="1.3"/>
<path d="M0.00 21.20 C0.59 21.13 1.68 21.25 3.56 20.80 C5.44 20.35 9.14 19.30 11.30 18.50 C13.46 17.70 15.12 17.03 16.50 16.00 C17.88 14.97 18.85 13.47 19.60 12.30 C20.35 11.13 20.77 9.55 21.00 9.00" fill="none" stroke="#14008c" stroke-width="1.8"/>
<path d="M9.70 0.00 L9.69 0.48 L9.65 0.96 L9.58 1.43 L9.49 1.90 L9.37 2.37 L9.23 2.83 L9.06 3.28 L8.86 3.72 L8.64 4.15 L8.40 4.57 L8.14 4.98 L7.85 5.38 L7.54 5.76 L7.21 6.12 L6.86 6.47 L6.49 6.80 L6.10 7.11 L5.70 7.40 L5.28 7.67 L4.85 7.92 L4.40 8.15 L3.95 8.36 L3.48 8.54 L3.00 8.70 L2.51 8.84 L2.02 8.95 L1.52 9.04 L1.01 9.10 L0.51 9.14 L0.00 9.15 L-0.51 9.14 L-1.01 9.10 L-1.52 9.04 L-2.02 8.95 L-2.51 8.84 L-3.00 8.70 L-3.48 8.54 L-3.95 8.36 L-4.40 8.15 L-4.85 7.92 L-5.28 7.67 L-5.70 7.40 L-6.10 7.11 L-6.49 6.80 L-6.86 6.47 L-7.21 6.12 L-7.54 5.76 L-7.85 5.38 L-8.14 4.98 L-8.40 4.57 L-8.64 4.15 L-8.86 3.72 L-9.06 3.28 L-9.23 2.83 L-9.37 2.37 L-9.49 1.90 L-9.58 1.43 L-9.65 0.96 L-9.69 0.48 L-9.70 0.00" fill="none" stroke="#f07020" stroke-width="0.78" stroke-opacity="0.9"/>
<path d="M9.70 0.00 L9.69 0.48 L9.65 0.96 L9.58 1.43 L9.49 1.90 L9.37 2.37 L9.23 2.83 L9.06 3.28 L8.86 3.72 L8.64 4.15 L8.40 4.57 L8.14 4.98 L7.85 5.38 L7.54 5.76 L7.21 6.12 L6.86 6.47 L6.49 6.80 L6.10 7.11 L5.70 7.40 L5.28 7.67 L4.85 7.92 L4.40 8.15 L3.95 8.36 L3.48 8.54 L3.00 8.70 L2.51 8.84 L2.02 8.95 L1.52 9.04 L1.01 9.10 L0.51 9.14 L0.00 9.15 L-0.51 9.14 L-1.01 9.10 L-1.52 9.04 L-2.02 8.95 L-2.51 8.84 L-3.00 8.70 L-3.48 8.54 L-3.95 8.36 L-4.40 8.15 L-4.85 7.92 L-5.28 7.67 L-5.70 7.40 L-6.10 7.11 L-6.49 6.80 L-6.86 6.47 L-7.21 6.12 L-7.54 5.76 L-7.85 5.38 L-8.14 4.98 L-8.40 4.57 L-8.64 4.15 L-8.86 3.72 L-9.06 3.28 L-9.23 2.83 L-9.37 2.37 L-9.49 1.90 L-9.58 1.43 L-9.65 0.96 L-9.69 0.48 L-9.70 0.00" fill="none" stroke="#a00808" stroke-width="0.46" stroke-opacity="1"/>
<path d="M1.46 8.08 L1.41 8.08 L1.36 8.09 L1.31 8.10 L1.27 8.11 L1.22 8.11 L1.17 8.12 L1.12 8.13 L1.07 8.13 L1.02 8.14 L0.98 8.14 L0.93 8.15 L0.88 8.16 L0.83 8.16 L0.78 8.16 L0.73 8.17 L0.68 8.17 L0.63 8.18 L0.59 8.18 L0.54 8.18 L0.49 8.19 L0.44 8.19 L0.39 8.19 L0.34 8.19 L0.29 8.20 L0.24 8.20 L0.20 8.20 L0.15 8.20 L0.10 8.20 L0.05 8.20 L0.00 8.20 L-0.05 8.20 L-0.10 8.20 L-0.15 8.20 L-0.20 8.20 L-0.24 8.20 L-0.29 8.20 L-0.34 8.19 L-0.39 8.19 L-0.44 8.19 L-0.49 8.19 L-0.54 8.18 L-0.59 8.18 L-0.63 8.18 L-0.68 8.17 L-0.73 8.17 L-0.78 8.16 L-0.83 8.16 L-0.88 8.16 L-0.93 8.15 L-0.98 8.14 L-1.02 8.14 L-1.07 8.13 L-1.12 8.13 L-1.17 8.12 L-1.22 8.11 L-1.27 8.11 L-1.31 8.10 L-1.36 8.09 L-1.41 8.08 L-1.46 8.08" fill="none" stroke="#c02010" stroke-width="0.35" stroke-opacity="0.8"/>
<rect x="-20" y="23.82" width="40" height="0.56" fill="#14008c"/>
<rect x="-20" y="16.92" width="40" height="0.56" fill="#14008c"/>
<rect x="-20" y="9.62" width="40" height="0.56" fill="#14008c"/>
<rect x="-20" y="2.10" width="40" height="0.56" fill="#14008c"/>
<path d="M-6.6 30 L-6.6 24.3 L-5.6 24.3 L-5.6 0" fill="none" stroke="#14008c" stroke-width="0.32"/>
<path d="M12.35 30 L12.2 0" fill="none" stroke="#14008c" stroke-width="0.32"/>
<path d="M4.55 30.20 L3.00 24.00 L2.20 20.60 L1.37 17.60 L1.05 14.20 L0.66 10.90 L0.45 8.90 L0.30 7.60 L0.10 5.30 L-0.10 5.30 L-0.30 7.60 L-0.45 8.90 L-0.66 10.90 L-1.05 14.20 L-1.37 17.60 L-2.20 20.60 L-3.00 24.00 L-4.50 30.20 Z" fill="#14008c"/>
<rect x="-0.12" y="0" width="0.24" height="4.8" fill="#14008c" opacity="0.6"/>
<path d="M-1.7 0 L-1.5 1.2 L2.1 1.65 L2.3 0 Z" fill="#14008c"/>
</g>
<rect x="42.4" y="215.4" width="175.2" height="131.49999999999997" fill="none" stroke="#111" stroke-width="1"/>
<line x1="42.40" y1="346.90" x2="42.40" y2="349.50" stroke="#111" stroke-width="1" />
<text x="42.40" y="358.10" font-family="Liberation Sans" font-size="7.8" font-weight="bold" font-style="normal" text-anchor="middle" fill="#111" stroke="#111" stroke-width="0.22" >-20</text>
<line x1="53.35" y1="346.90" x2="53.35" y2="348.50" stroke="#111" stroke-width="0.9" />
<line x1="64.30" y1="346.90" x2="64.30" y2="349.50" stroke="#111" stroke-width="1" />
<text x="64.30" y="358.10" font-family="Liberation Sans" font-size="7.8" font-weight="bold" font-style="normal" text-anchor="middle" fill="#111" stroke="#111" stroke-width="0.22" >-15</text>
<line x1="75.25" y1="346.90" x2="75.25" y2="348.50" stroke="#111" stroke-width="0.9" />
<line x1="86.20" y1="346.90" x2="86.20" y2="349.50" stroke="#111" stroke-width="1" />
<text x="86.20" y="358.10" font-family="Liberation Sans" font-size="7.8" font-weight="bold" font-style="normal" text-anchor="middle" fill="#111" stroke="#111" stroke-width="0.22" >-10</text>
<line x1="97.15" y1="346.90" x2="97.15" y2="348.50" stroke="#111" stroke-width="0.9" />
<line x1="108.10" y1="346.90" x2="108.10" y2="349.50" stroke="#111" stroke-width="1" />
<text x="108.10" y="358.10" font-family="Liberation Sans" font-size="7.8" font-weight="bold" font-style="normal" text-anchor="middle" fill="#111" stroke="#111" stroke-width="0.22" >-5</text>
<line x1="119.05" y1="346.90" x2="119.05" y2="348.50" stroke="#111" stroke-width="0.9" />
<line x1="130.00" y1="346.90" x2="130.00" y2="349.50" stroke="#111" stroke-width="1" />
<text x="130.00" y="358.10" font-family="Liberation Sans" font-size="7.8" font-weight="bold" font-style="normal" text-anchor="middle" fill="#111" stroke="#111" stroke-width="0.22" >0</text>
<line x1="140.95" y1="346.90" x2="140.95" y2="348.50" stroke="#111" stroke-width="0.9" />
<line x1="151.90" y1="346.90" x2="151.90" y2="349.50" stroke="#111" stroke-width="1" />
<text x="151.90" y="358.10" font-family="Liberation Sans" font-size="7.8" font-weight="bold" font-style="normal" text-anchor="middle" fill="#111" stroke="#111" stroke-width="0.22" >5</text>
<line x1="162.85" y1="346.90" x2="162.85" y2="348.50" stroke="#111" stroke-width="0.9" />
<line x1="173.80" y1="346.90" x2="173.80" y2="349.50" stroke="#111" stroke-width="1" />
<text x="173.80" y="358.10" font-family="Liberation Sans" font-size="7.8" font-weight="bold" font-style="normal" text-anchor="middle" fill="#111" stroke="#111" stroke-width="0.22" >10</text>
<line x1="184.75" y1="346.90" x2="184.75" y2="348.50" stroke="#111" stroke-width="0.9" />
<line x1="195.70" y1="346.90" x2="195.70" y2="349.50" stroke="#111" stroke-width="1" />
<text x="195.70" y="358.10" font-family="Liberation Sans" font-size="7.8" font-weight="bold" font-style="normal" text-anchor="middle" fill="#111" stroke="#111" stroke-width="0.22" >15</text>
<line x1="206.65" y1="346.90" x2="206.65" y2="348.50" stroke="#111" stroke-width="0.9" />
<line x1="217.60" y1="346.90" x2="217.60" y2="349.50" stroke="#111" stroke-width="1" />
<text x="217.60" y="358.10" font-family="Liberation Sans" font-size="7.8" font-weight="bold" font-style="normal" text-anchor="middle" fill="#111" stroke="#111" stroke-width="0.22" >20</text>
<line x1="42.40" y1="346.90" x2="39.80" y2="346.90" stroke="#111" stroke-width="1" />
<text x="38.40" y="349.70" font-family="Liberation Sans" font-size="7.8" font-weight="bold" font-style="normal" text-anchor="end" fill="#111" stroke="#111" stroke-width="0.22" >0</text>
<line x1="42.40" y1="335.94" x2="40.80" y2="335.94" stroke="#111" stroke-width="0.9" />
<line x1="42.40" y1="324.98" x2="39.80" y2="324.98" stroke="#111" stroke-width="1" />
<text x="38.40" y="327.78" font-family="Liberation Sans" font-size="7.8" font-weight="bold" font-style="normal" text-anchor="end" fill="#111" stroke="#111" stroke-width="0.22" >5</text>
<line x1="42.40" y1="314.02" x2="40.80" y2="314.02" stroke="#111" stroke-width="0.9" />
<line x1="42.40" y1="303.07" x2="39.80" y2="303.07" stroke="#111" stroke-width="1" />
<text x="38.40" y="305.87" font-family="Liberation Sans" font-size="7.8" font-weight="bold" font-style="normal" text-anchor="end" fill="#111" stroke="#111" stroke-width="0.22" >10</text>
<line x1="42.40" y1="292.11" x2="40.80" y2="292.11" stroke="#111" stroke-width="0.9" />
<line x1="42.40" y1="281.15" x2="39.80" y2="281.15" stroke="#111" stroke-width="1" />
<text x="38.40" y="283.95" font-family="Liberation Sans" font-size="7.8" font-weight="bold" font-style="normal" text-anchor="end" fill="#111" stroke="#111" stroke-width="0.22" >15</text>
<line x1="42.40" y1="270.19" x2="40.80" y2="270.19" stroke="#111" stroke-width="0.9" />
<line x1="42.40" y1="259.23" x2="39.80" y2="259.23" stroke="#111" stroke-width="1" />
<text x="38.40" y="262.03" font-family="Liberation Sans" font-size="7.8" font-weight="bold" font-style="normal" text-anchor="end" fill="#111" stroke="#111" stroke-width="0.22" >20</text>
<line x1="42.40" y1="248.28" x2="40.80" y2="248.28" stroke="#111" stroke-width="0.9" />
<line x1="42.40" y1="237.32" x2="39.80" y2="237.32" stroke="#111" stroke-width="1" />
<text x="38.40" y="240.12" font-family="Liberation Sans" font-size="7.8" font-weight="bold" font-style="normal" text-anchor="end" fill="#111" stroke="#111" stroke-width="0.22" >25</text>
<line x1="42.40" y1="226.36" x2="40.80" y2="226.36" stroke="#111" stroke-width="0.9" />
<line x1="42.40" y1="215.40" x2="39.80" y2="215.40" stroke="#111" stroke-width="1" />
<text x="38.40" y="218.20" font-family="Liberation Sans" font-size="7.8" font-weight="bold" font-style="normal" text-anchor="end" fill="#111" stroke="#111" stroke-width="0.22" >30</text>
<g transform="translate(349.15 345.90) scale(4.3325 -4.3233)" clip-path="url(#gwclip)">
<rect x="-20" y="0" width="40" height="30" fill="#2200f6"/>
<rect x="-20" y="0" width="40" height="30" fill="url(#gwin)"/>
<path d="M13.20 0.00 L13.18 0.66 L13.13 1.31 L13.04 1.96 L12.91 2.61 L12.75 3.25 L12.55 3.88 L12.32 4.49 L12.06 5.10 L11.76 5.69 L11.43 6.27 L11.07 6.83 L10.68 7.37 L10.26 7.89 L9.81 8.39 L9.33 8.87 L8.83 9.32 L8.31 9.75 L7.76 10.15 L7.19 10.52 L6.60 10.86 L5.99 11.17 L5.37 11.46 L4.73 11.71 L4.08 11.93 L3.42 12.11 L2.74 12.27 L2.06 12.39 L1.38 12.47 L0.69 12.52 L0.00 12.54 L-0.69 12.52 L-1.38 12.47 L-2.06 12.39 L-2.74 12.27 L-3.42 12.11 L-4.08 11.93 L-4.73 11.71 L-5.37 11.46 L-5.99 11.17 L-6.60 10.86 L-7.19 10.52 L-7.76 10.15 L-8.31 9.75 L-8.83 9.32 L-9.33 8.87 L-9.81 8.39 L-10.26 7.89 L-10.68 7.37 L-11.07 6.83 L-11.43 6.27 L-11.76 5.69 L-12.06 5.10 L-12.32 4.49 L-12.55 3.88 L-12.75 3.25 L-12.91 2.61 L-13.04 1.96 L-13.13 1.31 L-13.18 0.66 L-13.20 0.00" fill="none" stroke="#64d8ff" stroke-width="0.9" stroke-opacity="0.55"/>
<path d="M14.90 0.00 L14.88 0.74 L14.82 1.48 L14.72 2.21 L14.57 2.94 L14.39 3.66 L14.17 4.37 L13.91 5.07 L13.61 5.76 L13.28 6.43 L12.90 7.08 L12.50 7.71 L12.05 8.32 L11.58 8.91 L11.07 9.47 L10.54 10.01 L9.97 10.52 L9.38 11.00 L8.76 11.45 L8.12 11.87 L7.45 12.26 L6.76 12.61 L6.06 12.93 L5.34 13.21 L4.60 13.46 L3.86 13.67 L3.10 13.85 L2.33 13.98 L1.56 14.08 L0.78 14.14 L0.00 14.15 L-0.78 14.14 L-1.56 14.08 L-2.33 13.98 L-3.10 13.85 L-3.86 13.67 L-4.60 13.46 L-5.34 13.21 L-6.06 12.93 L-6.76 12.61 L-7.45 12.26 L-8.12 11.87 L-8.76 11.45 L-9.38 11.00 L-9.97 10.52 L-10.54 10.01 L-11.07 9.47 L-11.58 8.91 L-12.05 8.32 L-12.50 7.71 L-12.90 7.08 L-13.28 6.43 L-13.61 5.76 L-13.91 5.07 L-14.17 4.37 L-14.39 3.66 L-14.57 2.94 L-14.72 2.21 L-14.82 1.48 L-14.88 0.74 L-14.90 0.00" fill="none" stroke="#54b8ff" stroke-width="0.8" stroke-opacity="0.45"/>
<path d="M16.60 0.00 L16.58 0.83 L16.51 1.65 L16.40 2.47 L16.24 3.28 L16.03 4.08 L15.79 4.87 L15.50 5.65 L15.16 6.41 L14.79 7.16 L14.38 7.88 L13.92 8.59 L13.43 9.27 L12.90 9.92 L12.34 10.55 L11.74 11.15 L11.11 11.72 L10.45 12.26 L9.76 12.76 L9.04 13.23 L8.30 13.66 L7.54 14.05 L6.75 14.41 L5.95 14.72 L5.13 15.00 L4.30 15.23 L3.45 15.43 L2.60 15.58 L1.74 15.68 L0.87 15.75 L0.00 15.77 L-0.87 15.75 L-1.74 15.68 L-2.60 15.58 L-3.45 15.43 L-4.30 15.23 L-5.13 15.00 L-5.95 14.72 L-6.75 14.41 L-7.54 14.05 L-8.30 13.66 L-9.04 13.23 L-9.76 12.76 L-10.45 12.26 L-11.11 11.72 L-11.74 11.15 L-12.34 10.55 L-12.90 9.92 L-13.43 9.27 L-13.92 8.59 L-14.38 7.88 L-14.79 7.16 L-15.16 6.41 L-15.50 5.65 L-15.79 4.87 L-16.03 4.08 L-16.24 3.28 L-16.40 2.47 L-16.51 1.65 L-16.58 0.83 L-16.60 0.00" fill="none" stroke="#4a80ff" stroke-width="1.5" stroke-opacity="0.35"/>
<path d="M19.80 0.00 L19.77 0.98 L19.69 1.97 L19.56 2.94 L19.37 3.91 L19.13 4.87 L18.83 5.81 L18.48 6.74 L18.09 7.65 L17.64 8.54 L17.15 9.40 L16.61 10.24 L16.02 11.06 L15.39 11.84 L14.71 12.59 L14.00 13.30 L13.25 13.98 L12.46 14.62 L11.64 15.22 L10.78 15.78 L9.90 16.29 L8.99 16.76 L8.05 17.18 L7.10 17.56 L6.12 17.89 L5.12 18.17 L4.12 18.40 L3.10 18.58 L2.07 18.71 L1.04 18.78 L0.00 18.81 L-1.04 18.78 L-2.07 18.71 L-3.10 18.58 L-4.12 18.40 L-5.12 18.17 L-6.12 17.89 L-7.10 17.56 L-8.05 17.18 L-8.99 16.76 L-9.90 16.29 L-10.78 15.78 L-11.64 15.22 L-12.46 14.62 L-13.25 13.98 L-14.00 13.30 L-14.71 12.59 L-15.39 11.84 L-16.02 11.06 L-16.61 10.24 L-17.15 9.40 L-17.64 8.54 L-18.09 7.65 L-18.48 6.74 L-18.83 5.81 L-19.13 4.87 L-19.37 3.91 L-19.56 2.94 L-19.69 1.97 L-19.77 0.98 L-19.80 0.00" fill="none" stroke="#4a90ff" stroke-width="1.7" stroke-opacity="0.35"/>
<path d="M29.40 0.00 L29.36 1.54 L29.24 3.07 L29.04 4.60 L28.76 6.11 L28.40 7.61 L27.96 9.09 L27.45 10.54 L26.86 11.96 L26.20 13.35 L25.46 14.70 L24.66 16.01 L23.79 17.28 L22.85 18.50 L21.85 19.67 L20.79 20.79 L19.67 21.85 L18.50 22.85 L17.28 23.79 L16.01 24.66 L14.70 25.46 L13.35 26.20 L11.96 26.86 L10.54 27.45 L9.09 27.96 L7.61 28.40 L6.11 28.76 L4.60 29.04 L3.07 29.24 L1.54 29.36 L0.00 29.40 L-1.54 29.36 L-3.07 29.24 L-4.60 29.04 L-6.11 28.76 L-7.61 28.40 L-9.09 27.96 L-10.54 27.45 L-11.96 26.86 L-13.35 26.20 L-14.70 25.46 L-16.01 24.66 L-17.28 23.79 L-18.50 22.85 L-19.67 21.85 L-20.79 20.79 L-21.85 19.67 L-22.85 18.50 L-23.79 17.28 L-24.66 16.01 L-25.46 14.70 L-26.20 13.35 L-26.86 11.96 L-27.45 10.54 L-27.96 9.09 L-28.40 7.61 L-28.76 6.11 L-29.04 4.60 L-29.24 3.07 L-29.36 1.54 L-29.40 0.00" fill="none" stroke="#3a60ff" stroke-width="1.9" stroke-opacity="0.35"/>
</g><g filter="url(#spk)"><g transform="translate(349.15 345.90) scale(4.3325 -4.3233)" clip-path="url(#gwclip)">
<path d="M16.60 0.00 L16.58 0.83 L16.51 1.65 L16.40 2.47 L16.24 3.28 L16.03 4.08 L15.79 4.87 L15.50 5.65 L15.16 6.41 L14.79 7.16 L14.38 7.88 L13.92 8.59 L13.43 9.27 L12.90 9.92 L12.34 10.55 L11.74 11.15 L11.11 11.72 L10.45 12.26 L9.76 12.76 L9.04 13.23 L8.30 13.66 L7.54 14.05 L6.75 14.41 L5.95 14.72 L5.13 15.00 L4.30 15.23 L3.45 15.43 L2.60 15.58 L1.74 15.68 L0.87 15.75 L0.00 15.77 L-0.87 15.75 L-1.74 15.68 L-2.60 15.58 L-3.45 15.43 L-4.30 15.23 L-5.13 15.00 L-5.95 14.72 L-6.75 14.41 L-7.54 14.05 L-8.30 13.66 L-9.04 13.23 L-9.76 12.76 L-10.45 12.26 L-11.11 11.72 L-11.74 11.15 L-12.34 10.55 L-12.90 9.92 L-13.43 9.27 L-13.92 8.59 L-14.38 7.88 L-14.79 7.16 L-15.16 6.41 L-15.50 5.65 L-15.79 4.87 L-16.03 4.08 L-16.24 3.28 L-16.40 2.47 L-16.51 1.65 L-16.58 0.83 L-16.60 0.00" fill="none" stroke="#4aa4ff" stroke-width="1.3" stroke-opacity="1.0"/>
<path d="M19.80 0.00 L19.77 0.98 L19.69 1.97 L19.56 2.94 L19.37 3.91 L19.13 4.87 L18.83 5.81 L18.48 6.74 L18.09 7.65 L17.64 8.54 L17.15 9.40 L16.61 10.24 L16.02 11.06 L15.39 11.84 L14.71 12.59 L14.00 13.30 L13.25 13.98 L12.46 14.62 L11.64 15.22 L10.78 15.78 L9.90 16.29 L8.99 16.76 L8.05 17.18 L7.10 17.56 L6.12 17.89 L5.12 18.17 L4.12 18.40 L3.10 18.58 L2.07 18.71 L1.04 18.78 L0.00 18.81 L-1.04 18.78 L-2.07 18.71 L-3.10 18.58 L-4.12 18.40 L-5.12 18.17 L-6.12 17.89 L-7.10 17.56 L-8.05 17.18 L-8.99 16.76 L-9.90 16.29 L-10.78 15.78 L-11.64 15.22 L-12.46 14.62 L-13.25 13.98 L-14.00 13.30 L-14.71 12.59 L-15.39 11.84 L-16.02 11.06 L-16.61 10.24 L-17.15 9.40 L-17.64 8.54 L-18.09 7.65 L-18.48 6.74 L-18.83 5.81 L-19.13 4.87 L-19.37 3.91 L-19.56 2.94 L-19.69 1.97 L-19.77 0.98 L-19.80 0.00" fill="none" stroke="#64d4f4" stroke-width="1.6" stroke-opacity="1.0"/>
</g></g><g filter="url(#spk2)"><g transform="translate(349.15 345.90) scale(4.3325 -4.3233)" clip-path="url(#gwclip)">
<path d="M19.13 4.87 L18.88 5.66 L18.61 6.43 L18.29 7.20 L17.94 7.95 L17.56 8.69 L17.15 9.40 L16.70 10.11 L16.22 10.79 L15.71 11.45 L15.17 12.09 L14.60 12.71 L14.00 13.30 L13.38 13.87 L12.73 14.41 L12.05 14.92 L11.36 15.41 L10.64 15.86 L9.90 16.29 L9.14 16.68 L8.37 17.05 L7.58 17.38 L6.77 17.68 L5.95 17.94 L5.12 18.17 L4.29 18.36 L3.44 18.52 L2.58 18.65 L1.73 18.74 L0.86 18.79 L0.00 18.81 L-0.86 18.79 L-1.73 18.74 L-2.58 18.65 L-3.44 18.52 L-4.29 18.36 L-5.12 18.17 L-5.95 17.94 L-6.77 17.68 L-7.58 17.38 L-8.37 17.05 L-9.14 16.68 L-9.90 16.29 L-10.64 15.86 L-11.36 15.41 L-12.05 14.92 L-12.73 14.41 L-13.38 13.87 L-14.00 13.30 L-14.60 12.71 L-15.17 12.09 L-15.71 11.45 L-16.22 10.79 L-16.70 10.11 L-17.15 9.40 L-17.56 8.69 L-17.94 7.95 L-18.29 7.20 L-18.61 6.43 L-18.88 5.66 L-19.13 4.87" fill="none" stroke="#e8f040" stroke-width="1.3" stroke-opacity="1.0"/>
<path d="M15.64 11.61 L15.47 11.82 L15.29 12.03 L15.11 12.23 L14.92 12.44 L14.73 12.64 L14.54 12.84 L14.35 13.03 L14.15 13.23 L13.95 13.42 L13.75 13.60 L13.54 13.79 L13.33 13.97 L13.12 14.15 L12.91 14.33 L12.69 14.50 L12.47 14.67 L12.25 14.84 L12.03 15.00 L11.80 15.16 L11.57 15.32 L11.34 15.48 L11.11 15.63 L10.87 15.78 L10.64 15.92 L10.40 16.06 L10.15 16.20 L9.91 16.34 L9.66 16.47 L9.42 16.60 L9.17 16.73 L8.91 16.85 L8.66 16.97 L8.40 17.08 L8.15 17.20 L7.89 17.30 L7.63 17.41 L7.37 17.51 L7.10 17.61 L6.84 17.70 L6.57 17.79 L6.30 17.88 L6.04 17.96 L5.76 18.04 L5.49 18.12 L5.22 18.19 L4.95 18.26 L4.67 18.33 L4.40 18.39 L4.12 18.45 L3.84 18.50 L3.57 18.55 L3.29 18.60 L3.01 18.64 L2.73 18.68 L2.45 18.71 L2.17 18.74 L1.89 18.77 L1.60 18.80 L1.32 18.82 L1.04 18.83" fill="none" stroke="#ff3810" stroke-width="1.1" stroke-opacity="1.0"/>
<path d="M-1.04 18.83 L-1.32 18.82 L-1.60 18.80 L-1.89 18.77 L-2.17 18.74 L-2.45 18.71 L-2.73 18.68 L-3.01 18.64 L-3.29 18.60 L-3.57 18.55 L-3.84 18.50 L-4.12 18.45 L-4.40 18.39 L-4.67 18.33 L-4.95 18.26 L-5.22 18.19 L-5.49 18.12 L-5.76 18.04 L-6.04 17.96 L-6.30 17.88 L-6.57 17.79 L-6.84 17.70 L-7.10 17.61 L-7.37 17.51 L-7.63 17.41 L-7.89 17.30 L-8.15 17.20 L-8.40 17.08 L-8.66 16.97 L-8.91 16.85 L-9.17 16.73 L-9.42 16.60 L-9.66 16.47 L-9.91 16.34 L-10.15 16.20 L-10.40 16.06 L-10.64 15.92 L-10.87 15.78 L-11.11 15.63 L-11.34 15.48 L-11.57 15.32 L-11.80 15.16 L-12.03 15.00 L-12.25 14.84 L-12.47 14.67 L-12.69 14.50 L-12.91 14.33 L-13.12 14.15 L-13.33 13.97 L-13.54 13.79 L-13.75 13.60 L-13.95 13.42 L-14.15 13.23 L-14.35 13.03 L-14.54 12.84 L-14.73 12.64 L-14.92 12.44 L-15.11 12.23 L-15.29 12.03 L-15.47 11.82 L-15.64 11.61" fill="none" stroke="#ff3810" stroke-width="1.1" stroke-opacity="1.0"/>
</g></g><g filter="url(#spk)"><g transform="translate(349.15 345.90) scale(4.3325 -4.3233)" clip-path="url(#gwclip)">
<path d="M22.40 0.00 L22.37 1.17 L22.28 2.34 L22.12 3.50 L21.91 4.66 L21.64 5.80 L21.30 6.92 L20.91 8.03 L20.46 9.11 L19.96 10.17 L19.40 11.20 L18.79 12.20 L18.12 13.17 L17.41 14.10 L16.65 14.99 L15.84 15.84 L14.99 16.65 L14.10 17.41 L13.17 18.12 L12.20 18.79 L11.20 19.40 L10.17 19.96 L9.11 20.46 L8.03 20.91 L6.92 21.30 L5.80 21.64 L4.66 21.91 L3.50 22.12 L2.34 22.28 L1.17 22.37 L0.00 22.40 L-1.17 22.37 L-2.34 22.28 L-3.50 22.12 L-4.66 21.91 L-5.80 21.64 L-6.92 21.30 L-8.03 20.91 L-9.11 20.46 L-10.17 19.96 L-11.20 19.40 L-12.20 18.79 L-13.17 18.12 L-14.10 17.41 L-14.99 16.65 L-15.84 15.84 L-16.65 14.99 L-17.41 14.10 L-18.12 13.17 L-18.79 12.20 L-19.40 11.20 L-19.96 10.17 L-20.46 9.11 L-20.91 8.03 L-21.30 6.92 L-21.64 5.80 L-21.91 4.66 L-22.12 3.50 L-22.28 2.34 L-22.37 1.17 L-22.40 0.00" fill="none" stroke="#60d8ff" stroke-width="0.6" stroke-opacity="1.0"/>
<path d="M29.40 0.00 L29.36 1.54 L29.24 3.07 L29.04 4.60 L28.76 6.11 L28.40 7.61 L27.96 9.09 L27.45 10.54 L26.86 11.96 L26.20 13.35 L25.46 14.70 L24.66 16.01 L23.79 17.28 L22.85 18.50 L21.85 19.67 L20.79 20.79 L19.67 21.85 L18.50 22.85 L17.28 23.79 L16.01 24.66 L14.70 25.46 L13.35 26.20 L11.96 26.86 L10.54 27.45 L9.09 27.96 L7.61 28.40 L6.11 28.76 L4.60 29.04 L3.07 29.24 L1.54 29.36 L0.00 29.40 L-1.54 29.36 L-3.07 29.24 L-4.60 29.04 L-6.11 28.76 L-7.61 28.40 L-9.09 27.96 L-10.54 27.45 L-11.96 26.86 L-13.35 26.20 L-14.70 25.46 L-16.01 24.66 L-17.28 23.79 L-18.50 22.85 L-19.67 21.85 L-20.79 20.79 L-21.85 19.67 L-22.85 18.50 L-23.79 17.28 L-24.66 16.01 L-25.46 14.70 L-26.20 13.35 L-26.86 11.96 L-27.45 10.54 L-27.96 9.09 L-28.40 7.61 L-28.76 6.11 L-29.04 4.60 L-29.24 3.07 L-29.36 1.54 L-29.40 0.00" fill="none" stroke="#4cb0ff" stroke-width="1.6" stroke-opacity="1.0"/>
<path d="M32.30 0.00 L32.26 1.69 L32.12 3.38 L31.90 5.05 L31.59 6.72 L31.20 8.36 L30.72 9.98 L30.15 11.58 L29.51 13.14 L28.78 14.66 L27.97 16.15 L27.09 17.59 L26.13 18.99 L25.10 20.33 L24.00 21.61 L22.84 22.84 L21.61 24.00 L20.33 25.10 L18.99 26.13 L17.59 27.09 L16.15 27.97 L14.66 28.78 L13.14 29.51 L11.58 30.15 L9.98 30.72 L8.36 31.20 L6.72 31.59 L5.05 31.90 L3.38 32.12 L1.69 32.26 L0.00 32.30 L-1.69 32.26 L-3.38 32.12 L-5.05 31.90 L-6.72 31.59 L-8.36 31.20 L-9.98 30.72 L-11.58 30.15 L-13.14 29.51 L-14.66 28.78 L-16.15 27.97 L-17.59 27.09 L-18.99 26.13 L-20.33 25.10 L-21.61 24.00 L-22.84 22.84 L-24.00 21.61 L-25.10 20.33 L-26.13 18.99 L-27.09 17.59 L-27.97 16.15 L-28.78 14.66 L-29.51 13.14 L-30.15 11.58 L-30.72 9.98 L-31.20 8.36 L-31.59 6.72 L-31.90 5.05 L-32.12 3.38 L-32.26 1.69 L-32.30 0.00" fill="none" stroke="#4aa0ff" stroke-width="0.6" stroke-opacity="0.55"/>
</g></g><g transform="translate(349.15 345.90) scale(4.3325 -4.3233)" clip-path="url(#gwclip)">
<path d="M-21.00 18.70 C-20.82 18.73 -21.43 18.27 -19.95 18.86 C-18.47 19.45 -14.72 21.25 -12.10 22.26 C-9.47 23.27 -6.22 24.38 -4.20 24.90 C-2.18 25.42 -0.70 25.32 0.00 25.40" fill="none" stroke="#14008c" stroke-width="1.7"/>
<path d="M0.00 25.40 C0.59 25.38 1.24 25.85 3.56 25.30 C5.88 24.75 10.99 23.43 13.90 22.10 C16.81 20.77 19.82 18.10 21.00 17.30" fill="none" stroke="#14008c" stroke-width="0.7"/>
<path d="M0.00 21.20 C-0.50 21.13 -1.16 21.47 -3.00 20.80 C-4.84 20.13 -8.89 18.39 -11.07 17.20 C-13.25 16.01 -14.88 14.95 -16.10 13.65 C-17.32 12.35 -17.92 11.01 -18.40 9.40 C-18.88 7.79 -18.90 5.73 -19.00 4.00 C-19.10 2.27 -19.00 -0.17 -19.00 -1.00" fill="none" stroke="#14008c" stroke-width="1.3"/>
<path d="M0.00 21.20 C0.59 21.13 1.68 21.25 3.56 20.80 C5.44 20.35 9.14 19.30 11.30 18.50 C13.46 17.70 15.12 17.03 16.50 16.00 C17.88 14.97 18.85 13.47 19.60 12.30 C20.35 11.13 20.77 9.55 21.00 9.00" fill="none" stroke="#14008c" stroke-width="1.8"/>
<path d="M9.70 0.00 L9.69 0.48 L9.65 0.96 L9.58 1.43 L9.49 1.90 L9.37 2.37 L9.23 2.83 L9.06 3.28 L8.86 3.72 L8.64 4.15 L8.40 4.57 L8.14 4.98 L7.85 5.38 L7.54 5.76 L7.21 6.12 L6.86 6.47 L6.49 6.80 L6.10 7.11 L5.70 7.40 L5.28 7.67 L4.85 7.92 L4.40 8.15 L3.95 8.36 L3.48 8.54 L3.00 8.70 L2.51 8.84 L2.02 8.95 L1.52 9.04 L1.01 9.10 L0.51 9.14 L0.00 9.15 L-0.51 9.14 L-1.01 9.10 L-1.52 9.04 L-2.02 8.95 L-2.51 8.84 L-3.00 8.70 L-3.48 8.54 L-3.95 8.36 L-4.40 8.15 L-4.85 7.92 L-5.28 7.67 L-5.70 7.40 L-6.10 7.11 L-6.49 6.80 L-6.86 6.47 L-7.21 6.12 L-7.54 5.76 L-7.85 5.38 L-8.14 4.98 L-8.40 4.57 L-8.64 4.15 L-8.86 3.72 L-9.06 3.28 L-9.23 2.83 L-9.37 2.37 L-9.49 1.90 L-9.58 1.43 L-9.65 0.96 L-9.69 0.48 L-9.70 0.00" fill="none" stroke="#f07020" stroke-width="0.78" stroke-opacity="0.9"/>
<path d="M9.70 0.00 L9.69 0.48 L9.65 0.96 L9.58 1.43 L9.49 1.90 L9.37 2.37 L9.23 2.83 L9.06 3.28 L8.86 3.72 L8.64 4.15 L8.40 4.57 L8.14 4.98 L7.85 5.38 L7.54 5.76 L7.21 6.12 L6.86 6.47 L6.49 6.80 L6.10 7.11 L5.70 7.40 L5.28 7.67 L4.85 7.92 L4.40 8.15 L3.95 8.36 L3.48 8.54 L3.00 8.70 L2.51 8.84 L2.02 8.95 L1.52 9.04 L1.01 9.10 L0.51 9.14 L0.00 9.15 L-0.51 9.14 L-1.01 9.10 L-1.52 9.04 L-2.02 8.95 L-2.51 8.84 L-3.00 8.70 L-3.48 8.54 L-3.95 8.36 L-4.40 8.15 L-4.85 7.92 L-5.28 7.67 L-5.70 7.40 L-6.10 7.11 L-6.49 6.80 L-6.86 6.47 L-7.21 6.12 L-7.54 5.76 L-7.85 5.38 L-8.14 4.98 L-8.40 4.57 L-8.64 4.15 L-8.86 3.72 L-9.06 3.28 L-9.23 2.83 L-9.37 2.37 L-9.49 1.90 L-9.58 1.43 L-9.65 0.96 L-9.69 0.48 L-9.70 0.00" fill="none" stroke="#a00808" stroke-width="0.46" stroke-opacity="1"/>
<path d="M1.46 8.08 L1.41 8.08 L1.36 8.09 L1.31 8.10 L1.27 8.11 L1.22 8.11 L1.17 8.12 L1.12 8.13 L1.07 8.13 L1.02 8.14 L0.98 8.14 L0.93 8.15 L0.88 8.16 L0.83 8.16 L0.78 8.16 L0.73 8.17 L0.68 8.17 L0.63 8.18 L0.59 8.18 L0.54 8.18 L0.49 8.19 L0.44 8.19 L0.39 8.19 L0.34 8.19 L0.29 8.20 L0.24 8.20 L0.20 8.20 L0.15 8.20 L0.10 8.20 L0.05 8.20 L0.00 8.20 L-0.05 8.20 L-0.10 8.20 L-0.15 8.20 L-0.20 8.20 L-0.24 8.20 L-0.29 8.20 L-0.34 8.19 L-0.39 8.19 L-0.44 8.19 L-0.49 8.19 L-0.54 8.18 L-0.59 8.18 L-0.63 8.18 L-0.68 8.17 L-0.73 8.17 L-0.78 8.16 L-0.83 8.16 L-0.88 8.16 L-0.93 8.15 L-0.98 8.14 L-1.02 8.14 L-1.07 8.13 L-1.12 8.13 L-1.17 8.12 L-1.22 8.11 L-1.27 8.11 L-1.31 8.10 L-1.36 8.09 L-1.41 8.08 L-1.46 8.08" fill="none" stroke="#c02010" stroke-width="0.35" stroke-opacity="0.8"/>
<rect x="-20" y="23.82" width="40" height="0.56" fill="#14008c"/>
<rect x="-20" y="16.92" width="40" height="0.56" fill="#14008c"/>
<rect x="-20" y="9.62" width="40" height="0.56" fill="#14008c"/>
<rect x="-20" y="2.10" width="40" height="0.56" fill="#14008c"/>
<path d="M-6.6 30 L-6.6 24.3 L-5.6 24.3 L-5.6 0" fill="none" stroke="#14008c" stroke-width="0.32"/>
<path d="M12.35 30 L12.2 0" fill="none" stroke="#14008c" stroke-width="0.32"/>
<path d="M4.55 30.20 L3.00 24.00 L2.20 20.60 L1.37 17.60 L1.05 14.20 L0.66 10.90 L0.45 8.90 L0.30 7.60 L0.10 5.30 L-0.10 5.30 L-0.30 7.60 L-0.45 8.90 L-0.66 10.90 L-1.05 14.20 L-1.37 17.60 L-2.20 20.60 L-3.00 24.00 L-4.50 30.20 Z" fill="#14008c"/>
<ellipse cx="0" cy="2.9" rx="0.9" ry="0.45" fill="#a01010"/>
<path d="M-0.7 2.1 L0.7 2.1 L0.1 0.9 L-0.1 0.9 Z" fill="#c02010"/>
<path d="M-0.8 0 L-0.8 0.35 Q-0.8 0.85 0 0.85 Q0.8 0.85 0.8 0.35 L0.8 0 Z" fill="#14008c"/>
<ellipse cx="-0.9" cy="6.2" rx="0.6" ry="0.3" fill="#e8e040" opacity="0.7"/>
</g>
<rect x="262.5" y="216.2" width="173.3" height="129.7" fill="none" stroke="#111" stroke-width="1"/>
<line x1="262.50" y1="345.90" x2="262.50" y2="348.50" stroke="#111" stroke-width="1" />
<text x="262.50" y="357.10" font-family="Liberation Sans" font-size="7.8" font-weight="bold" font-style="normal" text-anchor="middle" fill="#111" stroke="#111" stroke-width="0.22" >-20</text>
<line x1="273.33" y1="345.90" x2="273.33" y2="347.50" stroke="#111" stroke-width="0.9" />
<line x1="284.16" y1="345.90" x2="284.16" y2="348.50" stroke="#111" stroke-width="1" />
<text x="284.16" y="357.10" font-family="Liberation Sans" font-size="7.8" font-weight="bold" font-style="normal" text-anchor="middle" fill="#111" stroke="#111" stroke-width="0.22" >-15</text>
<line x1="294.99" y1="345.90" x2="294.99" y2="347.50" stroke="#111" stroke-width="0.9" />
<line x1="305.82" y1="345.90" x2="305.82" y2="348.50" stroke="#111" stroke-width="1" />
<text x="305.82" y="357.10" font-family="Liberation Sans" font-size="7.8" font-weight="bold" font-style="normal" text-anchor="middle" fill="#111" stroke="#111" stroke-width="0.22" >-10</text>
<line x1="316.66" y1="345.90" x2="316.66" y2="347.50" stroke="#111" stroke-width="0.9" />
<line x1="327.49" y1="345.90" x2="327.49" y2="348.50" stroke="#111" stroke-width="1" />
<text x="327.49" y="357.10" font-family="Liberation Sans" font-size="7.8" font-weight="bold" font-style="normal" text-anchor="middle" fill="#111" stroke="#111" stroke-width="0.22" >-5</text>
<line x1="338.32" y1="345.90" x2="338.32" y2="347.50" stroke="#111" stroke-width="0.9" />
<line x1="349.15" y1="345.90" x2="349.15" y2="348.50" stroke="#111" stroke-width="1" />
<text x="349.15" y="357.10" font-family="Liberation Sans" font-size="7.8" font-weight="bold" font-style="normal" text-anchor="middle" fill="#111" stroke="#111" stroke-width="0.22" >0</text>
<line x1="359.98" y1="345.90" x2="359.98" y2="347.50" stroke="#111" stroke-width="0.9" />
<line x1="370.81" y1="345.90" x2="370.81" y2="348.50" stroke="#111" stroke-width="1" />
<text x="370.81" y="357.10" font-family="Liberation Sans" font-size="7.8" font-weight="bold" font-style="normal" text-anchor="middle" fill="#111" stroke="#111" stroke-width="0.22" >5</text>
<line x1="381.64" y1="345.90" x2="381.64" y2="347.50" stroke="#111" stroke-width="0.9" />
<line x1="392.47" y1="345.90" x2="392.47" y2="348.50" stroke="#111" stroke-width="1" />
<text x="392.47" y="357.10" font-family="Liberation Sans" font-size="7.8" font-weight="bold" font-style="normal" text-anchor="middle" fill="#111" stroke="#111" stroke-width="0.22" >10</text>
<line x1="403.31" y1="345.90" x2="403.31" y2="347.50" stroke="#111" stroke-width="0.9" />
<line x1="414.14" y1="345.90" x2="414.14" y2="348.50" stroke="#111" stroke-width="1" />
<text x="414.14" y="357.10" font-family="Liberation Sans" font-size="7.8" font-weight="bold" font-style="normal" text-anchor="middle" fill="#111" stroke="#111" stroke-width="0.22" >15</text>
<line x1="424.97" y1="345.90" x2="424.97" y2="347.50" stroke="#111" stroke-width="0.9" />
<line x1="435.80" y1="345.90" x2="435.80" y2="348.50" stroke="#111" stroke-width="1" />
<text x="435.80" y="357.10" font-family="Liberation Sans" font-size="7.8" font-weight="bold" font-style="normal" text-anchor="middle" fill="#111" stroke="#111" stroke-width="0.22" >20</text>
<line x1="262.50" y1="345.90" x2="259.90" y2="345.90" stroke="#111" stroke-width="1" />
<text x="258.50" y="348.70" font-family="Liberation Sans" font-size="7.8" font-weight="bold" font-style="normal" text-anchor="end" fill="#111" stroke="#111" stroke-width="0.22" >0</text>
<line x1="262.50" y1="335.09" x2="260.90" y2="335.09" stroke="#111" stroke-width="0.9" />
<line x1="262.50" y1="324.28" x2="259.90" y2="324.28" stroke="#111" stroke-width="1" />
<text x="258.50" y="327.08" font-family="Liberation Sans" font-size="7.8" font-weight="bold" font-style="normal" text-anchor="end" fill="#111" stroke="#111" stroke-width="0.22" >5</text>
<line x1="262.50" y1="313.47" x2="260.90" y2="313.47" stroke="#111" stroke-width="0.9" />
<line x1="262.50" y1="302.67" x2="259.90" y2="302.67" stroke="#111" stroke-width="1" />
<text x="258.50" y="305.47" font-family="Liberation Sans" font-size="7.8" font-weight="bold" font-style="normal" text-anchor="end" fill="#111" stroke="#111" stroke-width="0.22" >10</text>
<line x1="262.50" y1="291.86" x2="260.90" y2="291.86" stroke="#111" stroke-width="0.9" />
<line x1="262.50" y1="281.05" x2="259.90" y2="281.05" stroke="#111" stroke-width="1" />
<text x="258.50" y="283.85" font-family="Liberation Sans" font-size="7.8" font-weight="bold" font-style="normal" text-anchor="end" fill="#111" stroke="#111" stroke-width="0.22" >15</text>
<line x1="262.50" y1="270.24" x2="260.90" y2="270.24" stroke="#111" stroke-width="0.9" />
<line x1="262.50" y1="259.43" x2="259.90" y2="259.43" stroke="#111" stroke-width="1" />
<text x="258.50" y="262.23" font-family="Liberation Sans" font-size="7.8" font-weight="bold" font-style="normal" text-anchor="end" fill="#111" stroke="#111" stroke-width="0.22" >20</text>
<line x1="262.50" y1="248.62" x2="260.90" y2="248.62" stroke="#111" stroke-width="0.9" />
<line x1="262.50" y1="237.82" x2="259.90" y2="237.82" stroke="#111" stroke-width="1" />
<text x="258.50" y="240.62" font-family="Liberation Sans" font-size="7.8" font-weight="bold" font-style="normal" text-anchor="end" fill="#111" stroke="#111" stroke-width="0.22" >25</text>
<line x1="262.50" y1="227.01" x2="260.90" y2="227.01" stroke="#111" stroke-width="0.9" />
<line x1="262.50" y1="216.20" x2="259.90" y2="216.20" stroke="#111" stroke-width="1" />
<text x="258.50" y="219.00" font-family="Liberation Sans" font-size="7.8" font-weight="bold" font-style="normal" text-anchor="end" fill="#111" stroke="#111" stroke-width="0.22" >30</text>
<g transform="translate(574.05 347.10) scale(4.3925 -4.3900)" clip-path="url(#gwclip)">
<rect x="-20" y="0" width="40" height="30" fill="#2200f6"/>
<rect x="-20" y="0" width="40" height="30" fill="url(#gwin)"/>
<path d="M13.20 0.00 L13.18 0.66 L13.13 1.31 L13.04 1.96 L12.91 2.61 L12.75 3.25 L12.55 3.88 L12.32 4.49 L12.06 5.10 L11.76 5.69 L11.43 6.27 L11.07 6.83 L10.68 7.37 L10.26 7.89 L9.81 8.39 L9.33 8.87 L8.83 9.32 L8.31 9.75 L7.76 10.15 L7.19 10.52 L6.60 10.86 L5.99 11.17 L5.37 11.46 L4.73 11.71 L4.08 11.93 L3.42 12.11 L2.74 12.27 L2.06 12.39 L1.38 12.47 L0.69 12.52 L0.00 12.54 L-0.69 12.52 L-1.38 12.47 L-2.06 12.39 L-2.74 12.27 L-3.42 12.11 L-4.08 11.93 L-4.73 11.71 L-5.37 11.46 L-5.99 11.17 L-6.60 10.86 L-7.19 10.52 L-7.76 10.15 L-8.31 9.75 L-8.83 9.32 L-9.33 8.87 L-9.81 8.39 L-10.26 7.89 L-10.68 7.37 L-11.07 6.83 L-11.43 6.27 L-11.76 5.69 L-12.06 5.10 L-12.32 4.49 L-12.55 3.88 L-12.75 3.25 L-12.91 2.61 L-13.04 1.96 L-13.13 1.31 L-13.18 0.66 L-13.20 0.00" fill="none" stroke="#64d8ff" stroke-width="0.9" stroke-opacity="0.55"/>
<path d="M14.90 0.00 L14.88 0.74 L14.82 1.48 L14.72 2.21 L14.57 2.94 L14.39 3.66 L14.17 4.37 L13.91 5.07 L13.61 5.76 L13.28 6.43 L12.90 7.08 L12.50 7.71 L12.05 8.32 L11.58 8.91 L11.07 9.47 L10.54 10.01 L9.97 10.52 L9.38 11.00 L8.76 11.45 L8.12 11.87 L7.45 12.26 L6.76 12.61 L6.06 12.93 L5.34 13.21 L4.60 13.46 L3.86 13.67 L3.10 13.85 L2.33 13.98 L1.56 14.08 L0.78 14.14 L0.00 14.15 L-0.78 14.14 L-1.56 14.08 L-2.33 13.98 L-3.10 13.85 L-3.86 13.67 L-4.60 13.46 L-5.34 13.21 L-6.06 12.93 L-6.76 12.61 L-7.45 12.26 L-8.12 11.87 L-8.76 11.45 L-9.38 11.00 L-9.97 10.52 L-10.54 10.01 L-11.07 9.47 L-11.58 8.91 L-12.05 8.32 L-12.50 7.71 L-12.90 7.08 L-13.28 6.43 L-13.61 5.76 L-13.91 5.07 L-14.17 4.37 L-14.39 3.66 L-14.57 2.94 L-14.72 2.21 L-14.82 1.48 L-14.88 0.74 L-14.90 0.00" fill="none" stroke="#54b8ff" stroke-width="0.8" stroke-opacity="0.45"/>
<path d="M16.60 0.00 L16.58 0.83 L16.51 1.65 L16.40 2.47 L16.24 3.28 L16.03 4.08 L15.79 4.87 L15.50 5.65 L15.16 6.41 L14.79 7.16 L14.38 7.88 L13.92 8.59 L13.43 9.27 L12.90 9.92 L12.34 10.55 L11.74 11.15 L11.11 11.72 L10.45 12.26 L9.76 12.76 L9.04 13.23 L8.30 13.66 L7.54 14.05 L6.75 14.41 L5.95 14.72 L5.13 15.00 L4.30 15.23 L3.45 15.43 L2.60 15.58 L1.74 15.68 L0.87 15.75 L0.00 15.77 L-0.87 15.75 L-1.74 15.68 L-2.60 15.58 L-3.45 15.43 L-4.30 15.23 L-5.13 15.00 L-5.95 14.72 L-6.75 14.41 L-7.54 14.05 L-8.30 13.66 L-9.04 13.23 L-9.76 12.76 L-10.45 12.26 L-11.11 11.72 L-11.74 11.15 L-12.34 10.55 L-12.90 9.92 L-13.43 9.27 L-13.92 8.59 L-14.38 7.88 L-14.79 7.16 L-15.16 6.41 L-15.50 5.65 L-15.79 4.87 L-16.03 4.08 L-16.24 3.28 L-16.40 2.47 L-16.51 1.65 L-16.58 0.83 L-16.60 0.00" fill="none" stroke="#4a80ff" stroke-width="1.5" stroke-opacity="0.35"/>
<path d="M19.80 0.00 L19.77 0.98 L19.69 1.97 L19.56 2.94 L19.37 3.91 L19.13 4.87 L18.83 5.81 L18.48 6.74 L18.09 7.65 L17.64 8.54 L17.15 9.40 L16.61 10.24 L16.02 11.06 L15.39 11.84 L14.71 12.59 L14.00 13.30 L13.25 13.98 L12.46 14.62 L11.64 15.22 L10.78 15.78 L9.90 16.29 L8.99 16.76 L8.05 17.18 L7.10 17.56 L6.12 17.89 L5.12 18.17 L4.12 18.40 L3.10 18.58 L2.07 18.71 L1.04 18.78 L0.00 18.81 L-1.04 18.78 L-2.07 18.71 L-3.10 18.58 L-4.12 18.40 L-5.12 18.17 L-6.12 17.89 L-7.10 17.56 L-8.05 17.18 L-8.99 16.76 L-9.90 16.29 L-10.78 15.78 L-11.64 15.22 L-12.46 14.62 L-13.25 13.98 L-14.00 13.30 L-14.71 12.59 L-15.39 11.84 L-16.02 11.06 L-16.61 10.24 L-17.15 9.40 L-17.64 8.54 L-18.09 7.65 L-18.48 6.74 L-18.83 5.81 L-19.13 4.87 L-19.37 3.91 L-19.56 2.94 L-19.69 1.97 L-19.77 0.98 L-19.80 0.00" fill="none" stroke="#4a90ff" stroke-width="1.7" stroke-opacity="0.35"/>
<path d="M29.40 0.00 L29.36 1.54 L29.24 3.07 L29.04 4.60 L28.76 6.11 L28.40 7.61 L27.96 9.09 L27.45 10.54 L26.86 11.96 L26.20 13.35 L25.46 14.70 L24.66 16.01 L23.79 17.28 L22.85 18.50 L21.85 19.67 L20.79 20.79 L19.67 21.85 L18.50 22.85 L17.28 23.79 L16.01 24.66 L14.70 25.46 L13.35 26.20 L11.96 26.86 L10.54 27.45 L9.09 27.96 L7.61 28.40 L6.11 28.76 L4.60 29.04 L3.07 29.24 L1.54 29.36 L0.00 29.40 L-1.54 29.36 L-3.07 29.24 L-4.60 29.04 L-6.11 28.76 L-7.61 28.40 L-9.09 27.96 L-10.54 27.45 L-11.96 26.86 L-13.35 26.20 L-14.70 25.46 L-16.01 24.66 L-17.28 23.79 L-18.50 22.85 L-19.67 21.85 L-20.79 20.79 L-21.85 19.67 L-22.85 18.50 L-23.79 17.28 L-24.66 16.01 L-25.46 14.70 L-26.20 13.35 L-26.86 11.96 L-27.45 10.54 L-27.96 9.09 L-28.40 7.61 L-28.76 6.11 L-29.04 4.60 L-29.24 3.07 L-29.36 1.54 L-29.40 0.00" fill="none" stroke="#3a60ff" stroke-width="1.9" stroke-opacity="0.35"/>
</g><g filter="url(#spk)"><g transform="translate(574.05 347.10) scale(4.3925 -4.3900)" clip-path="url(#gwclip)">
<path d="M16.60 0.00 L16.58 0.83 L16.51 1.65 L16.40 2.47 L16.24 3.28 L16.03 4.08 L15.79 4.87 L15.50 5.65 L15.16 6.41 L14.79 7.16 L14.38 7.88 L13.92 8.59 L13.43 9.27 L12.90 9.92 L12.34 10.55 L11.74 11.15 L11.11 11.72 L10.45 12.26 L9.76 12.76 L9.04 13.23 L8.30 13.66 L7.54 14.05 L6.75 14.41 L5.95 14.72 L5.13 15.00 L4.30 15.23 L3.45 15.43 L2.60 15.58 L1.74 15.68 L0.87 15.75 L0.00 15.77 L-0.87 15.75 L-1.74 15.68 L-2.60 15.58 L-3.45 15.43 L-4.30 15.23 L-5.13 15.00 L-5.95 14.72 L-6.75 14.41 L-7.54 14.05 L-8.30 13.66 L-9.04 13.23 L-9.76 12.76 L-10.45 12.26 L-11.11 11.72 L-11.74 11.15 L-12.34 10.55 L-12.90 9.92 L-13.43 9.27 L-13.92 8.59 L-14.38 7.88 L-14.79 7.16 L-15.16 6.41 L-15.50 5.65 L-15.79 4.87 L-16.03 4.08 L-16.24 3.28 L-16.40 2.47 L-16.51 1.65 L-16.58 0.83 L-16.60 0.00" fill="none" stroke="#4aa4ff" stroke-width="1.3" stroke-opacity="1.0"/>
<path d="M19.80 0.00 L19.77 0.98 L19.69 1.97 L19.56 2.94 L19.37 3.91 L19.13 4.87 L18.83 5.81 L18.48 6.74 L18.09 7.65 L17.64 8.54 L17.15 9.40 L16.61 10.24 L16.02 11.06 L15.39 11.84 L14.71 12.59 L14.00 13.30 L13.25 13.98 L12.46 14.62 L11.64 15.22 L10.78 15.78 L9.90 16.29 L8.99 16.76 L8.05 17.18 L7.10 17.56 L6.12 17.89 L5.12 18.17 L4.12 18.40 L3.10 18.58 L2.07 18.71 L1.04 18.78 L0.00 18.81 L-1.04 18.78 L-2.07 18.71 L-3.10 18.58 L-4.12 18.40 L-5.12 18.17 L-6.12 17.89 L-7.10 17.56 L-8.05 17.18 L-8.99 16.76 L-9.90 16.29 L-10.78 15.78 L-11.64 15.22 L-12.46 14.62 L-13.25 13.98 L-14.00 13.30 L-14.71 12.59 L-15.39 11.84 L-16.02 11.06 L-16.61 10.24 L-17.15 9.40 L-17.64 8.54 L-18.09 7.65 L-18.48 6.74 L-18.83 5.81 L-19.13 4.87 L-19.37 3.91 L-19.56 2.94 L-19.69 1.97 L-19.77 0.98 L-19.80 0.00" fill="none" stroke="#64d4f4" stroke-width="1.6" stroke-opacity="1.0"/>
</g></g><g filter="url(#spk2)"><g transform="translate(574.05 347.10) scale(4.3925 -4.3900)" clip-path="url(#gwclip)">
<path d="M19.13 4.87 L18.88 5.66 L18.61 6.43 L18.29 7.20 L17.94 7.95 L17.56 8.69 L17.15 9.40 L16.70 10.11 L16.22 10.79 L15.71 11.45 L15.17 12.09 L14.60 12.71 L14.00 13.30 L13.38 13.87 L12.73 14.41 L12.05 14.92 L11.36 15.41 L10.64 15.86 L9.90 16.29 L9.14 16.68 L8.37 17.05 L7.58 17.38 L6.77 17.68 L5.95 17.94 L5.12 18.17 L4.29 18.36 L3.44 18.52 L2.58 18.65 L1.73 18.74 L0.86 18.79 L0.00 18.81 L-0.86 18.79 L-1.73 18.74 L-2.58 18.65 L-3.44 18.52 L-4.29 18.36 L-5.12 18.17 L-5.95 17.94 L-6.77 17.68 L-7.58 17.38 L-8.37 17.05 L-9.14 16.68 L-9.90 16.29 L-10.64 15.86 L-11.36 15.41 L-12.05 14.92 L-12.73 14.41 L-13.38 13.87 L-14.00 13.30 L-14.60 12.71 L-15.17 12.09 L-15.71 11.45 L-16.22 10.79 L-16.70 10.11 L-17.15 9.40 L-17.56 8.69 L-17.94 7.95 L-18.29 7.20 L-18.61 6.43 L-18.88 5.66 L-19.13 4.87" fill="none" stroke="#e8f040" stroke-width="1.3" stroke-opacity="1.0"/>
<path d="M15.64 11.61 L15.47 11.82 L15.29 12.03 L15.11 12.23 L14.92 12.44 L14.73 12.64 L14.54 12.84 L14.35 13.03 L14.15 13.23 L13.95 13.42 L13.75 13.60 L13.54 13.79 L13.33 13.97 L13.12 14.15 L12.91 14.33 L12.69 14.50 L12.47 14.67 L12.25 14.84 L12.03 15.00 L11.80 15.16 L11.57 15.32 L11.34 15.48 L11.11 15.63 L10.87 15.78 L10.64 15.92 L10.40 16.06 L10.15 16.20 L9.91 16.34 L9.66 16.47 L9.42 16.60 L9.17 16.73 L8.91 16.85 L8.66 16.97 L8.40 17.08 L8.15 17.20 L7.89 17.30 L7.63 17.41 L7.37 17.51 L7.10 17.61 L6.84 17.70 L6.57 17.79 L6.30 17.88 L6.04 17.96 L5.76 18.04 L5.49 18.12 L5.22 18.19 L4.95 18.26 L4.67 18.33 L4.40 18.39 L4.12 18.45 L3.84 18.50 L3.57 18.55 L3.29 18.60 L3.01 18.64 L2.73 18.68 L2.45 18.71 L2.17 18.74 L1.89 18.77 L1.60 18.80 L1.32 18.82 L1.04 18.83" fill="none" stroke="#ff3810" stroke-width="1.1" stroke-opacity="1.0"/>
<path d="M-1.04 18.83 L-1.32 18.82 L-1.60 18.80 L-1.89 18.77 L-2.17 18.74 L-2.45 18.71 L-2.73 18.68 L-3.01 18.64 L-3.29 18.60 L-3.57 18.55 L-3.84 18.50 L-4.12 18.45 L-4.40 18.39 L-4.67 18.33 L-4.95 18.26 L-5.22 18.19 L-5.49 18.12 L-5.76 18.04 L-6.04 17.96 L-6.30 17.88 L-6.57 17.79 L-6.84 17.70 L-7.10 17.61 L-7.37 17.51 L-7.63 17.41 L-7.89 17.30 L-8.15 17.20 L-8.40 17.08 L-8.66 16.97 L-8.91 16.85 L-9.17 16.73 L-9.42 16.60 L-9.66 16.47 L-9.91 16.34 L-10.15 16.20 L-10.40 16.06 L-10.64 15.92 L-10.87 15.78 L-11.11 15.63 L-11.34 15.48 L-11.57 15.32 L-11.80 15.16 L-12.03 15.00 L-12.25 14.84 L-12.47 14.67 L-12.69 14.50 L-12.91 14.33 L-13.12 14.15 L-13.33 13.97 L-13.54 13.79 L-13.75 13.60 L-13.95 13.42 L-14.15 13.23 L-14.35 13.03 L-14.54 12.84 L-14.73 12.64 L-14.92 12.44 L-15.11 12.23 L-15.29 12.03 L-15.47 11.82 L-15.64 11.61" fill="none" stroke="#ff3810" stroke-width="1.1" stroke-opacity="1.0"/>
</g></g><g filter="url(#spk)"><g transform="translate(574.05 347.10) scale(4.3925 -4.3900)" clip-path="url(#gwclip)">
<path d="M22.40 0.00 L22.37 1.17 L22.28 2.34 L22.12 3.50 L21.91 4.66 L21.64 5.80 L21.30 6.92 L20.91 8.03 L20.46 9.11 L19.96 10.17 L19.40 11.20 L18.79 12.20 L18.12 13.17 L17.41 14.10 L16.65 14.99 L15.84 15.84 L14.99 16.65 L14.10 17.41 L13.17 18.12 L12.20 18.79 L11.20 19.40 L10.17 19.96 L9.11 20.46 L8.03 20.91 L6.92 21.30 L5.80 21.64 L4.66 21.91 L3.50 22.12 L2.34 22.28 L1.17 22.37 L0.00 22.40 L-1.17 22.37 L-2.34 22.28 L-3.50 22.12 L-4.66 21.91 L-5.80 21.64 L-6.92 21.30 L-8.03 20.91 L-9.11 20.46 L-10.17 19.96 L-11.20 19.40 L-12.20 18.79 L-13.17 18.12 L-14.10 17.41 L-14.99 16.65 L-15.84 15.84 L-16.65 14.99 L-17.41 14.10 L-18.12 13.17 L-18.79 12.20 L-19.40 11.20 L-19.96 10.17 L-20.46 9.11 L-20.91 8.03 L-21.30 6.92 L-21.64 5.80 L-21.91 4.66 L-22.12 3.50 L-22.28 2.34 L-22.37 1.17 L-22.40 0.00" fill="none" stroke="#60d8ff" stroke-width="0.6" stroke-opacity="1.0"/>
<path d="M29.40 0.00 L29.36 1.54 L29.24 3.07 L29.04 4.60 L28.76 6.11 L28.40 7.61 L27.96 9.09 L27.45 10.54 L26.86 11.96 L26.20 13.35 L25.46 14.70 L24.66 16.01 L23.79 17.28 L22.85 18.50 L21.85 19.67 L20.79 20.79 L19.67 21.85 L18.50 22.85 L17.28 23.79 L16.01 24.66 L14.70 25.46 L13.35 26.20 L11.96 26.86 L10.54 27.45 L9.09 27.96 L7.61 28.40 L6.11 28.76 L4.60 29.04 L3.07 29.24 L1.54 29.36 L0.00 29.40 L-1.54 29.36 L-3.07 29.24 L-4.60 29.04 L-6.11 28.76 L-7.61 28.40 L-9.09 27.96 L-10.54 27.45 L-11.96 26.86 L-13.35 26.20 L-14.70 25.46 L-16.01 24.66 L-17.28 23.79 L-18.50 22.85 L-19.67 21.85 L-20.79 20.79 L-21.85 19.67 L-22.85 18.50 L-23.79 17.28 L-24.66 16.01 L-25.46 14.70 L-26.20 13.35 L-26.86 11.96 L-27.45 10.54 L-27.96 9.09 L-28.40 7.61 L-28.76 6.11 L-29.04 4.60 L-29.24 3.07 L-29.36 1.54 L-29.40 0.00" fill="none" stroke="#4cb0ff" stroke-width="1.6" stroke-opacity="1.0"/>
<path d="M32.30 0.00 L32.26 1.69 L32.12 3.38 L31.90 5.05 L31.59 6.72 L31.20 8.36 L30.72 9.98 L30.15 11.58 L29.51 13.14 L28.78 14.66 L27.97 16.15 L27.09 17.59 L26.13 18.99 L25.10 20.33 L24.00 21.61 L22.84 22.84 L21.61 24.00 L20.33 25.10 L18.99 26.13 L17.59 27.09 L16.15 27.97 L14.66 28.78 L13.14 29.51 L11.58 30.15 L9.98 30.72 L8.36 31.20 L6.72 31.59 L5.05 31.90 L3.38 32.12 L1.69 32.26 L0.00 32.30 L-1.69 32.26 L-3.38 32.12 L-5.05 31.90 L-6.72 31.59 L-8.36 31.20 L-9.98 30.72 L-11.58 30.15 L-13.14 29.51 L-14.66 28.78 L-16.15 27.97 L-17.59 27.09 L-18.99 26.13 L-20.33 25.10 L-21.61 24.00 L-22.84 22.84 L-24.00 21.61 L-25.10 20.33 L-26.13 18.99 L-27.09 17.59 L-27.97 16.15 L-28.78 14.66 L-29.51 13.14 L-30.15 11.58 L-30.72 9.98 L-31.20 8.36 L-31.59 6.72 L-31.90 5.05 L-32.12 3.38 L-32.26 1.69 L-32.30 0.00" fill="none" stroke="#4aa0ff" stroke-width="0.6" stroke-opacity="0.55"/>
</g></g><g transform="translate(574.05 347.10) scale(4.3925 -4.3900)" clip-path="url(#gwclip)">
<path d="M-21.00 18.70 C-20.82 18.73 -21.43 18.27 -19.95 18.86 C-18.47 19.45 -14.72 21.25 -12.10 22.26 C-9.47 23.27 -6.22 24.38 -4.20 24.90 C-2.18 25.42 -0.70 25.32 0.00 25.40" fill="none" stroke="#14008c" stroke-width="1.7"/>
<path d="M0.00 25.40 C0.59 25.38 1.24 25.85 3.56 25.30 C5.88 24.75 10.99 23.43 13.90 22.10 C16.81 20.77 19.82 18.10 21.00 17.30" fill="none" stroke="#14008c" stroke-width="0.7"/>
<path d="M0.00 21.20 C-0.50 21.13 -1.16 21.47 -3.00 20.80 C-4.84 20.13 -8.89 18.39 -11.07 17.20 C-13.25 16.01 -14.88 14.95 -16.10 13.65 C-17.32 12.35 -17.92 11.01 -18.40 9.40 C-18.88 7.79 -18.90 5.73 -19.00 4.00 C-19.10 2.27 -19.00 -0.17 -19.00 -1.00" fill="none" stroke="#14008c" stroke-width="1.3"/>
<path d="M0.00 21.20 C0.59 21.13 1.68 21.25 3.56 20.80 C5.44 20.35 9.14 19.30 11.30 18.50 C13.46 17.70 15.12 17.03 16.50 16.00 C17.88 14.97 18.85 13.47 19.60 12.30 C20.35 11.13 20.77 9.55 21.00 9.00" fill="none" stroke="#14008c" stroke-width="1.8"/>
<path d="M9.70 0.00 L9.69 0.48 L9.65 0.96 L9.58 1.43 L9.49 1.90 L9.37 2.37 L9.23 2.83 L9.06 3.28 L8.86 3.72 L8.64 4.15 L8.40 4.57 L8.14 4.98 L7.85 5.38 L7.54 5.76 L7.21 6.12 L6.86 6.47 L6.49 6.80 L6.10 7.11 L5.70 7.40 L5.28 7.67 L4.85 7.92 L4.40 8.15 L3.95 8.36 L3.48 8.54 L3.00 8.70 L2.51 8.84 L2.02 8.95 L1.52 9.04 L1.01 9.10 L0.51 9.14 L0.00 9.15 L-0.51 9.14 L-1.01 9.10 L-1.52 9.04 L-2.02 8.95 L-2.51 8.84 L-3.00 8.70 L-3.48 8.54 L-3.95 8.36 L-4.40 8.15 L-4.85 7.92 L-5.28 7.67 L-5.70 7.40 L-6.10 7.11 L-6.49 6.80 L-6.86 6.47 L-7.21 6.12 L-7.54 5.76 L-7.85 5.38 L-8.14 4.98 L-8.40 4.57 L-8.64 4.15 L-8.86 3.72 L-9.06 3.28 L-9.23 2.83 L-9.37 2.37 L-9.49 1.90 L-9.58 1.43 L-9.65 0.96 L-9.69 0.48 L-9.70 0.00" fill="none" stroke="#f07020" stroke-width="0.78" stroke-opacity="0.9"/>
<path d="M9.70 0.00 L9.69 0.48 L9.65 0.96 L9.58 1.43 L9.49 1.90 L9.37 2.37 L9.23 2.83 L9.06 3.28 L8.86 3.72 L8.64 4.15 L8.40 4.57 L8.14 4.98 L7.85 5.38 L7.54 5.76 L7.21 6.12 L6.86 6.47 L6.49 6.80 L6.10 7.11 L5.70 7.40 L5.28 7.67 L4.85 7.92 L4.40 8.15 L3.95 8.36 L3.48 8.54 L3.00 8.70 L2.51 8.84 L2.02 8.95 L1.52 9.04 L1.01 9.10 L0.51 9.14 L0.00 9.15 L-0.51 9.14 L-1.01 9.10 L-1.52 9.04 L-2.02 8.95 L-2.51 8.84 L-3.00 8.70 L-3.48 8.54 L-3.95 8.36 L-4.40 8.15 L-4.85 7.92 L-5.28 7.67 L-5.70 7.40 L-6.10 7.11 L-6.49 6.80 L-6.86 6.47 L-7.21 6.12 L-7.54 5.76 L-7.85 5.38 L-8.14 4.98 L-8.40 4.57 L-8.64 4.15 L-8.86 3.72 L-9.06 3.28 L-9.23 2.83 L-9.37 2.37 L-9.49 1.90 L-9.58 1.43 L-9.65 0.96 L-9.69 0.48 L-9.70 0.00" fill="none" stroke="#a00808" stroke-width="0.46" stroke-opacity="1"/>
<path d="M1.46 8.08 L1.41 8.08 L1.36 8.09 L1.31 8.10 L1.27 8.11 L1.22 8.11 L1.17 8.12 L1.12 8.13 L1.07 8.13 L1.02 8.14 L0.98 8.14 L0.93 8.15 L0.88 8.16 L0.83 8.16 L0.78 8.16 L0.73 8.17 L0.68 8.17 L0.63 8.18 L0.59 8.18 L0.54 8.18 L0.49 8.19 L0.44 8.19 L0.39 8.19 L0.34 8.19 L0.29 8.20 L0.24 8.20 L0.20 8.20 L0.15 8.20 L0.10 8.20 L0.05 8.20 L0.00 8.20 L-0.05 8.20 L-0.10 8.20 L-0.15 8.20 L-0.20 8.20 L-0.24 8.20 L-0.29 8.20 L-0.34 8.19 L-0.39 8.19 L-0.44 8.19 L-0.49 8.19 L-0.54 8.18 L-0.59 8.18 L-0.63 8.18 L-0.68 8.17 L-0.73 8.17 L-0.78 8.16 L-0.83 8.16 L-0.88 8.16 L-0.93 8.15 L-0.98 8.14 L-1.02 8.14 L-1.07 8.13 L-1.12 8.13 L-1.17 8.12 L-1.22 8.11 L-1.27 8.11 L-1.31 8.10 L-1.36 8.09 L-1.41 8.08 L-1.46 8.08" fill="none" stroke="#c02010" stroke-width="0.35" stroke-opacity="0.8"/>
<rect x="-20" y="23.82" width="40" height="0.56" fill="#14008c"/>
<rect x="-20" y="16.92" width="40" height="0.56" fill="#14008c"/>
<rect x="-20" y="9.62" width="40" height="0.56" fill="#14008c"/>
<rect x="-20" y="2.10" width="40" height="0.56" fill="#14008c"/>
<path d="M-6.6 30 L-6.6 24.3 L-5.6 24.3 L-5.6 0" fill="none" stroke="#14008c" stroke-width="0.32"/>
<path d="M12.35 30 L12.2 0" fill="none" stroke="#14008c" stroke-width="0.32"/>
<path d="M4.55 30.20 L3.00 24.00 L2.20 20.60 L1.37 17.60 L1.05 14.20 L0.66 10.90 L0.45 8.90 L0.30 7.60 L0.10 5.30 L-0.10 5.30 L-0.30 7.60 L-0.45 8.90 L-0.66 10.90 L-1.05 14.20 L-1.37 17.60 L-2.20 20.60 L-3.00 24.00 L-4.50 30.20 Z" fill="#14008c"/>
<ellipse cx="0" cy="2.9" rx="0.9" ry="0.45" fill="#a01010"/>
<path d="M-0.7 2.1 L0.7 2.1 L0.1 0.9 L-0.1 0.9 Z" fill="#c02010"/>
<path d="M-0.8 0 L-0.8 0.35 Q-0.8 0.85 0 0.85 Q0.8 0.85 0.8 0.35 L0.8 0 Z" fill="#14008c"/>
<ellipse cx="-0.9" cy="6.2" rx="0.6" ry="0.3" fill="#e8e040" opacity="0.7"/>
</g>
<rect x="486.2" y="215.4" width="175.7" height="131.70000000000002" fill="none" stroke="#111" stroke-width="1"/>
<line x1="486.20" y1="347.10" x2="486.20" y2="349.70" stroke="#111" stroke-width="1" />
<text x="486.20" y="358.30" font-family="Liberation Sans" font-size="7.8" font-weight="bold" font-style="normal" text-anchor="middle" fill="#111" stroke="#111" stroke-width="0.22" >-20</text>
<line x1="497.18" y1="347.10" x2="497.18" y2="348.70" stroke="#111" stroke-width="0.9" />
<line x1="508.16" y1="347.10" x2="508.16" y2="349.70" stroke="#111" stroke-width="1" />
<text x="508.16" y="358.30" font-family="Liberation Sans" font-size="7.8" font-weight="bold" font-style="normal" text-anchor="middle" fill="#111" stroke="#111" stroke-width="0.22" >-15</text>
<line x1="519.14" y1="347.10" x2="519.14" y2="348.70" stroke="#111" stroke-width="0.9" />
<line x1="530.12" y1="347.10" x2="530.12" y2="349.70" stroke="#111" stroke-width="1" />
<text x="530.12" y="358.30" font-family="Liberation Sans" font-size="7.8" font-weight="bold" font-style="normal" text-anchor="middle" fill="#111" stroke="#111" stroke-width="0.22" >-10</text>
<line x1="541.11" y1="347.10" x2="541.11" y2="348.70" stroke="#111" stroke-width="0.9" />
<line x1="552.09" y1="347.10" x2="552.09" y2="349.70" stroke="#111" stroke-width="1" />
<text x="552.09" y="358.30" font-family="Liberation Sans" font-size="7.8" font-weight="bold" font-style="normal" text-anchor="middle" fill="#111" stroke="#111" stroke-width="0.22" >-5</text>
<line x1="563.07" y1="347.10" x2="563.07" y2="348.70" stroke="#111" stroke-width="0.9" />
<line x1="574.05" y1="347.10" x2="574.05" y2="349.70" stroke="#111" stroke-width="1" />
<text x="574.05" y="358.30" font-family="Liberation Sans" font-size="7.8" font-weight="bold" font-style="normal" text-anchor="middle" fill="#111" stroke="#111" stroke-width="0.22" >0</text>
<line x1="585.03" y1="347.10" x2="585.03" y2="348.70" stroke="#111" stroke-width="0.9" />
<line x1="596.01" y1="347.10" x2="596.01" y2="349.70" stroke="#111" stroke-width="1" />
<text x="596.01" y="358.30" font-family="Liberation Sans" font-size="7.8" font-weight="bold" font-style="normal" text-anchor="middle" fill="#111" stroke="#111" stroke-width="0.22" >5</text>
<line x1="606.99" y1="347.10" x2="606.99" y2="348.70" stroke="#111" stroke-width="0.9" />
<line x1="617.97" y1="347.10" x2="617.97" y2="349.70" stroke="#111" stroke-width="1" />
<text x="617.97" y="358.30" font-family="Liberation Sans" font-size="7.8" font-weight="bold" font-style="normal" text-anchor="middle" fill="#111" stroke="#111" stroke-width="0.22" >10</text>
<line x1="628.96" y1="347.10" x2="628.96" y2="348.70" stroke="#111" stroke-width="0.9" />
<line x1="639.94" y1="347.10" x2="639.94" y2="349.70" stroke="#111" stroke-width="1" />
<text x="639.94" y="358.30" font-family="Liberation Sans" font-size="7.8" font-weight="bold" font-style="normal" text-anchor="middle" fill="#111" stroke="#111" stroke-width="0.22" >15</text>
<line x1="650.92" y1="347.10" x2="650.92" y2="348.70" stroke="#111" stroke-width="0.9" />
<line x1="661.90" y1="347.10" x2="661.90" y2="349.70" stroke="#111" stroke-width="1" />
<text x="661.90" y="358.30" font-family="Liberation Sans" font-size="7.8" font-weight="bold" font-style="normal" text-anchor="middle" fill="#111" stroke="#111" stroke-width="0.22" >20</text>
<line x1="486.20" y1="347.10" x2="483.60" y2="347.10" stroke="#111" stroke-width="1" />
<text x="482.20" y="349.90" font-family="Liberation Sans" font-size="7.8" font-weight="bold" font-style="normal" text-anchor="end" fill="#111" stroke="#111" stroke-width="0.22" >0</text>
<line x1="486.20" y1="336.12" x2="484.60" y2="336.12" stroke="#111" stroke-width="0.9" />
<line x1="486.20" y1="325.15" x2="483.60" y2="325.15" stroke="#111" stroke-width="1" />
<text x="482.20" y="327.95" font-family="Liberation Sans" font-size="7.8" font-weight="bold" font-style="normal" text-anchor="end" fill="#111" stroke="#111" stroke-width="0.22" >5</text>
<line x1="486.20" y1="314.18" x2="484.60" y2="314.18" stroke="#111" stroke-width="0.9" />
<line x1="486.20" y1="303.20" x2="483.60" y2="303.20" stroke="#111" stroke-width="1" />
<text x="482.20" y="306.00" font-family="Liberation Sans" font-size="7.8" font-weight="bold" font-style="normal" text-anchor="end" fill="#111" stroke="#111" stroke-width="0.22" >10</text>
<line x1="486.20" y1="292.23" x2="484.60" y2="292.23" stroke="#111" stroke-width="0.9" />
<line x1="486.20" y1="281.25" x2="483.60" y2="281.25" stroke="#111" stroke-width="1" />
<text x="482.20" y="284.05" font-family="Liberation Sans" font-size="7.8" font-weight="bold" font-style="normal" text-anchor="end" fill="#111" stroke="#111" stroke-width="0.22" >15</text>
<line x1="486.20" y1="270.27" x2="484.60" y2="270.27" stroke="#111" stroke-width="0.9" />
<line x1="486.20" y1="259.30" x2="483.60" y2="259.30" stroke="#111" stroke-width="1" />
<text x="482.20" y="262.10" font-family="Liberation Sans" font-size="7.8" font-weight="bold" font-style="normal" text-anchor="end" fill="#111" stroke="#111" stroke-width="0.22" >20</text>
<line x1="486.20" y1="248.33" x2="484.60" y2="248.33" stroke="#111" stroke-width="0.9" />
<line x1="486.20" y1="237.35" x2="483.60" y2="237.35" stroke="#111" stroke-width="1" />
<text x="482.20" y="240.15" font-family="Liberation Sans" font-size="7.8" font-weight="bold" font-style="normal" text-anchor="end" fill="#111" stroke="#111" stroke-width="0.22" >25</text>
<line x1="486.20" y1="226.38" x2="484.60" y2="226.38" stroke="#111" stroke-width="0.9" />
<line x1="486.20" y1="215.40" x2="483.60" y2="215.40" stroke="#111" stroke-width="1" />
<text x="482.20" y="218.20" font-family="Liberation Sans" font-size="7.8" font-weight="bold" font-style="normal" text-anchor="end" fill="#111" stroke="#111" stroke-width="0.22" >30</text>
<text x="16.00" y="214.70" font-family="Liberation Sans" font-size="12" font-weight="bold" font-style="normal" text-anchor="start" fill="#111" >d</text>
<text x="131.00" y="367.70" font-family="Liberation Sans" font-size="9.3" font-weight="bold" font-style="normal" text-anchor="middle" fill="#111" stroke="#111" stroke-width="0.15" >q<tspan font-size="6" dy="2">xy</tspan><tspan dy="-2"> (nm</tspan><tspan font-size="6" dy="-3.5">-1</tspan><tspan dy="3.5">)</tspan></text>
<text x="20.90" y="283.15" font-family="Liberation Sans" font-size="9.3" font-weight="bold" font-style="normal" text-anchor="middle" fill="#111" stroke="#111" stroke-width="0.15" transform="rotate(-90 20.9 283.15)" >q<tspan font-size="6" dy="2">z</tspan><tspan dy="-2"> (nm</tspan><tspan font-size="6" dy="-3.5">-1</tspan><tspan dy="3.5">)</tspan></text>
<text x="231.00" y="214.70" font-family="Liberation Sans" font-size="12" font-weight="bold" font-style="normal" text-anchor="start" fill="#111" >e</text>
<text x="350.15" y="366.70" font-family="Liberation Sans" font-size="9.3" font-weight="bold" font-style="normal" text-anchor="middle" fill="#111" stroke="#111" stroke-width="0.15" >q<tspan font-size="6" dy="2">xy</tspan><tspan dy="-2"> (nm</tspan><tspan font-size="6" dy="-3.5">-1</tspan><tspan dy="3.5">)</tspan></text>
<text x="241.00" y="283.05" font-family="Liberation Sans" font-size="9.3" font-weight="bold" font-style="normal" text-anchor="middle" fill="#111" stroke="#111" stroke-width="0.15" transform="rotate(-90 241.0 283.04999999999995)" >q<tspan font-size="6" dy="2">z</tspan><tspan dy="-2"> (nm</tspan><tspan font-size="6" dy="-3.5">-1</tspan><tspan dy="3.5">)</tspan></text>
<text x="462.20" y="217.80" font-family="Liberation Sans" font-size="12" font-weight="bold" font-style="normal" text-anchor="start" fill="#111" >f</text>
<text x="575.05" y="367.90" font-family="Liberation Sans" font-size="9.3" font-weight="bold" font-style="normal" text-anchor="middle" fill="#111" stroke="#111" stroke-width="0.15" >q<tspan font-size="6" dy="2">xy</tspan><tspan dy="-2"> (nm</tspan><tspan font-size="6" dy="-3.5">-1</tspan><tspan dy="3.5">)</tspan></text>
<text x="464.70" y="283.25" font-family="Liberation Sans" font-size="9.3" font-weight="bold" font-style="normal" text-anchor="middle" fill="#111" stroke="#111" stroke-width="0.15" transform="rotate(-90 464.7 283.25)" >q<tspan font-size="6" dy="2">z</tspan><tspan dy="-2"> (nm</tspan><tspan font-size="6" dy="-3.5">-1</tspan><tspan dy="3.5">)</tspan></text>
<line x1="327.55" y1="327.10" x2="340.17" y2="322.17" stroke="#ff2a1a" stroke-width="1.7" />
<polygon points="343.15,321.00 340.97,324.21 339.37,320.12" fill="#ff2a1a" stroke="none" stroke-width="0" fill-opacity="1" />
<line x1="327.55" y1="327.10" x2="337.41" y2="331.34" stroke="#ff2a1a" stroke-width="1.7" />
<polygon points="340.35,332.60 336.54,333.36 338.28,329.32" fill="#ff2a1a" stroke="none" stroke-width="0" fill-opacity="1" />
<line x1="552.45" y1="328.30" x2="565.07" y2="323.37" stroke="#ff2a1a" stroke-width="1.7" />
<polygon points="568.05,322.20 565.87,325.41 564.27,321.32" fill="#ff2a1a" stroke="none" stroke-width="0" fill-opacity="1" />
<line x1="552.45" y1="328.30" x2="562.31" y2="332.54" stroke="#ff2a1a" stroke-width="1.7" />
<polygon points="565.25,333.80 561.44,334.56 563.18,330.52" fill="#ff2a1a" stroke="none" stroke-width="0" fill-opacity="1" /></svg></body></html>
